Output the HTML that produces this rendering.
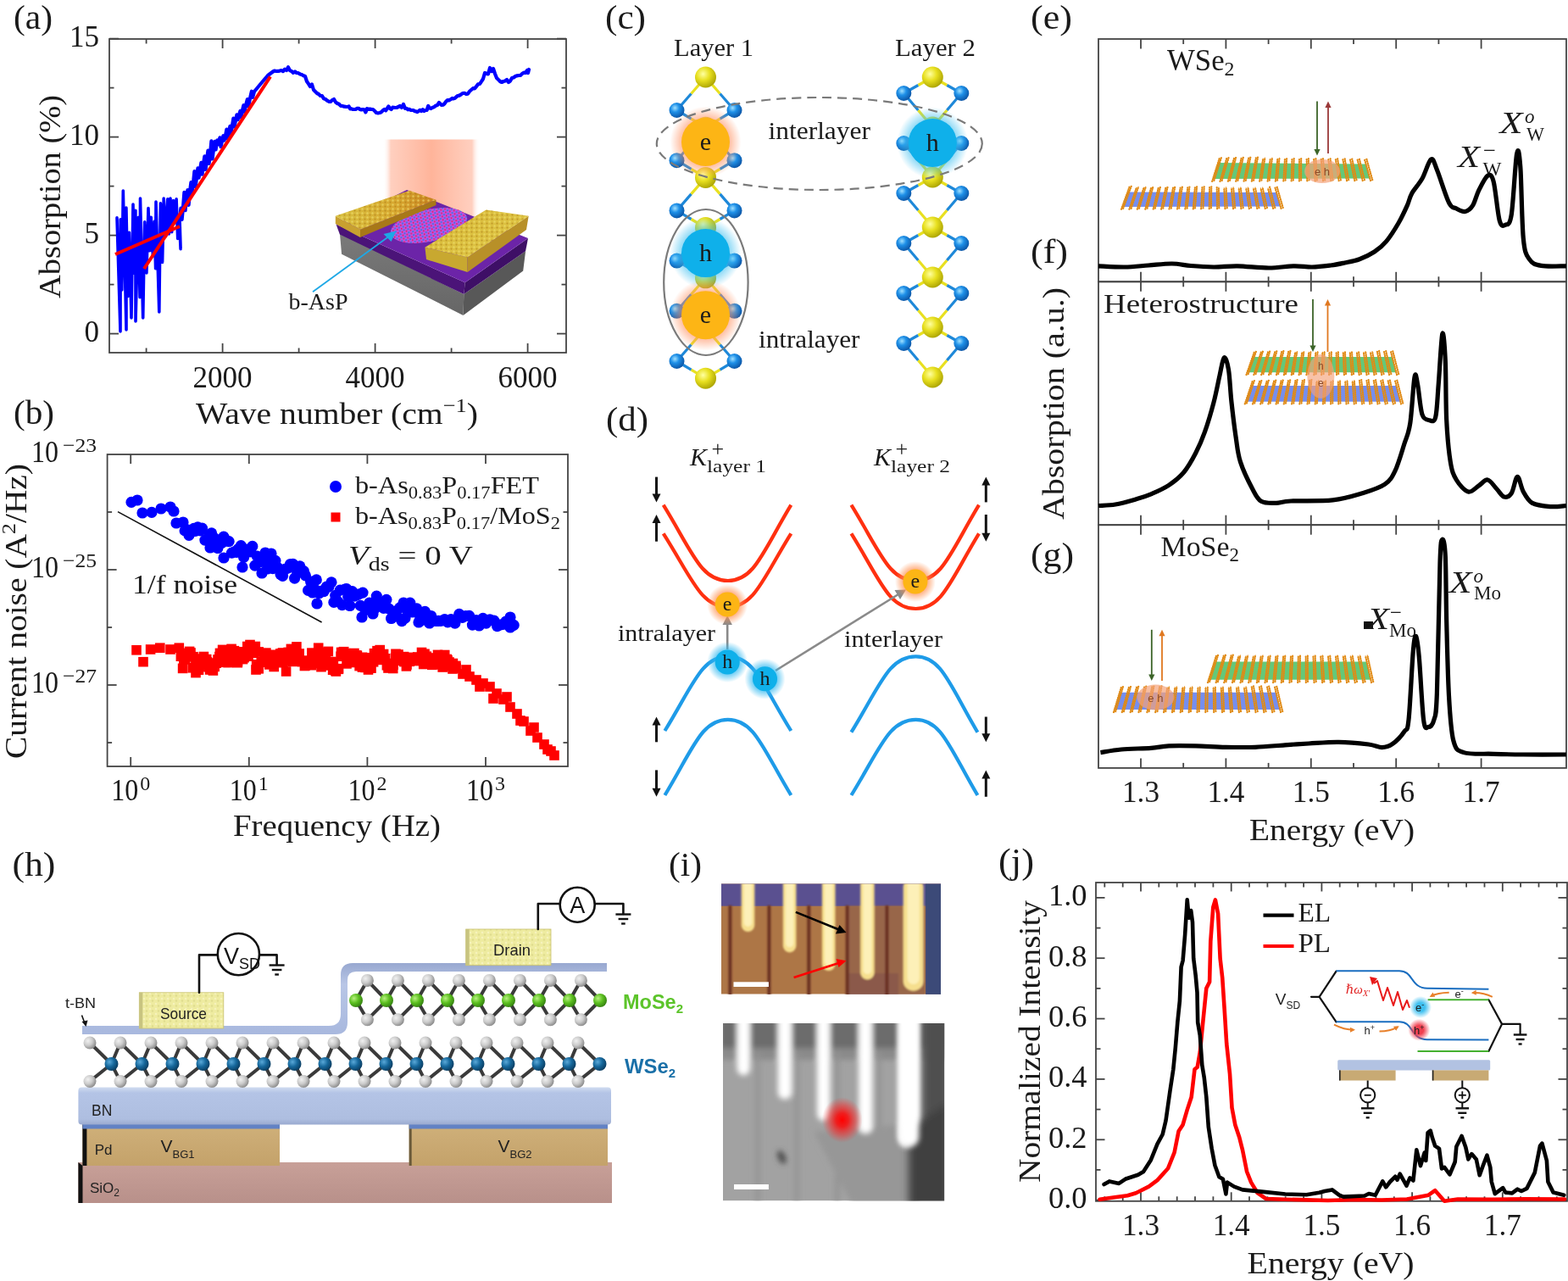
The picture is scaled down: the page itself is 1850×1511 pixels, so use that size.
<!DOCTYPE html>
<html><head><meta charset="utf-8"><title>Figure</title>
<style>html,body{margin:0;padding:0;background:#fff;} svg{display:block;}</style></head>
<body><svg width="1850" height="1511" viewBox="0 0 1850 1511">
<rect width="1850" height="1511" fill="#fff"/>
<text x="16.0" y="34.0" font-size="40" font-family="'Liberation Serif','DejaVu Serif',serif" fill="#1a1a1a" textLength="46" lengthAdjust="spacingAndGlyphs" >(a)</text>
<line x1="172.6" y1="416.0" x2="172.6" y2="410.5" stroke="#444444" stroke-width="1.8" />
<line x1="172.6" y1="46.0" x2="172.6" y2="51.5" stroke="#444444" stroke-width="1.8" />
<line x1="262.6" y1="416.0" x2="262.6" y2="405.0" stroke="#444444" stroke-width="1.8" />
<line x1="262.6" y1="46.0" x2="262.6" y2="57.0" stroke="#444444" stroke-width="1.8" />
<line x1="352.6" y1="416.0" x2="352.6" y2="410.5" stroke="#444444" stroke-width="1.8" />
<line x1="352.6" y1="46.0" x2="352.6" y2="51.5" stroke="#444444" stroke-width="1.8" />
<line x1="442.6" y1="416.0" x2="442.6" y2="405.0" stroke="#444444" stroke-width="1.8" />
<line x1="442.6" y1="46.0" x2="442.6" y2="57.0" stroke="#444444" stroke-width="1.8" />
<line x1="532.6" y1="416.0" x2="532.6" y2="410.5" stroke="#444444" stroke-width="1.8" />
<line x1="532.6" y1="46.0" x2="532.6" y2="51.5" stroke="#444444" stroke-width="1.8" />
<line x1="622.6" y1="416.0" x2="622.6" y2="405.0" stroke="#444444" stroke-width="1.8" />
<line x1="622.6" y1="46.0" x2="622.6" y2="57.0" stroke="#444444" stroke-width="1.8" />
<line x1="129.0" y1="393.6" x2="140.0" y2="393.6" stroke="#444444" stroke-width="1.8" />
<line x1="668.0" y1="393.6" x2="657.0" y2="393.6" stroke="#444444" stroke-width="1.8" />
<line x1="129.0" y1="335.6" x2="134.5" y2="335.6" stroke="#444444" stroke-width="1.8" />
<line x1="668.0" y1="335.6" x2="662.5" y2="335.6" stroke="#444444" stroke-width="1.8" />
<line x1="129.0" y1="277.6" x2="140.0" y2="277.6" stroke="#444444" stroke-width="1.8" />
<line x1="668.0" y1="277.6" x2="657.0" y2="277.6" stroke="#444444" stroke-width="1.8" />
<line x1="129.0" y1="219.6" x2="134.5" y2="219.6" stroke="#444444" stroke-width="1.8" />
<line x1="668.0" y1="219.6" x2="662.5" y2="219.6" stroke="#444444" stroke-width="1.8" />
<line x1="129.0" y1="161.6" x2="140.0" y2="161.6" stroke="#444444" stroke-width="1.8" />
<line x1="668.0" y1="161.6" x2="657.0" y2="161.6" stroke="#444444" stroke-width="1.8" />
<line x1="129.0" y1="103.6" x2="134.5" y2="103.6" stroke="#444444" stroke-width="1.8" />
<line x1="668.0" y1="103.6" x2="662.5" y2="103.6" stroke="#444444" stroke-width="1.8" />
<line x1="129.0" y1="45.6" x2="140.0" y2="45.6" stroke="#444444" stroke-width="1.8" />
<line x1="668.0" y1="45.6" x2="657.0" y2="45.6" stroke="#444444" stroke-width="1.8" />
<rect x="129" y="46" width="539" height="370" fill="none" stroke="#444444" stroke-width="1.8"/>
<text x="117.0" y="402.6" font-size="35" font-family="'Liberation Serif','DejaVu Serif',serif" fill="#1a1a1a" text-anchor="end" >0</text>
<text x="117.0" y="286.6" font-size="35" font-family="'Liberation Serif','DejaVu Serif',serif" fill="#1a1a1a" text-anchor="end" >5</text>
<text x="117.0" y="170.6" font-size="35" font-family="'Liberation Serif','DejaVu Serif',serif" fill="#1a1a1a" text-anchor="end" >10</text>
<text x="117.0" y="54.6" font-size="35" font-family="'Liberation Serif','DejaVu Serif',serif" fill="#1a1a1a" text-anchor="end" >15</text>
<text x="262.6" y="457.0" font-size="35" font-family="'Liberation Serif','DejaVu Serif',serif" fill="#1a1a1a" text-anchor="middle" textLength="70" lengthAdjust="spacingAndGlyphs" >2000</text>
<text x="442.6" y="457.0" font-size="35" font-family="'Liberation Serif','DejaVu Serif',serif" fill="#1a1a1a" text-anchor="middle" textLength="70" lengthAdjust="spacingAndGlyphs" >4000</text>
<text x="622.6" y="457.0" font-size="35" font-family="'Liberation Serif','DejaVu Serif',serif" fill="#1a1a1a" text-anchor="middle" textLength="70" lengthAdjust="spacingAndGlyphs" >6000</text>
<text transform="translate(71,352) rotate(-90)" font-size="36" font-family="'Liberation Serif','DejaVu Serif',serif" fill="#1a1a1a" textLength="240" lengthAdjust="spacingAndGlyphs">Absorption (%)</text>
<text x="231" y="499.5" font-size="36" font-family="'Liberation Serif','DejaVu Serif',serif" fill="#1a1a1a" textLength="333" lengthAdjust="spacingAndGlyphs">Wave number (cm<tspan font-size="24" dy="-14">&#8722;1</tspan><tspan dy="14">)</tspan></text>
<polyline points="138.0,256.9 142.0,391.0 142.2,258.8 143.8,342.0 145.3,225.0 149.0,389.0 148.9,245.0 151.0,349.5 152.4,274.4 155.0,375.0 157.0,241.0 158.4,322.5 159.9,248.3 160.0,379.0 163.2,256.5 165.1,350.6 165.5,234.0 168.7,375.0 170.7,261.9 172.9,321.9 175.0,245.6 176.7,295.8 178.2,256.4 180.4,301.6 182.2,261.0 183.6,316.8 184.0,238.0 187.8,368.0 189.4,239.8 191.6,309.4 193.2,234.1 195.6,278.6 197.8,234.8 199.3,275.9 201.0,234.0 202.7,273.7 204.5,236.6 206.0,262.0 208.1,234.8 209.7,281.5 211.4,255.3 213.1,293.7 212.0,258.0" fill="none" stroke="#0000ff" stroke-width="3.6" stroke-linejoin="round" stroke-linecap="round" />
<polyline points="212.0,258.0 213.4,245.7 214.6,259.0 216.0,245.0 217.4,226.8 218.6,248.2 220.0,232.0 221.4,224.2 222.6,241.9 224.0,226.0 225.4,215.2 226.6,227.3 228.0,216.0 229.4,202.1 230.6,219.9 232.0,210.0 233.4,198.4 234.6,209.6 236.0,200.0 237.4,191.8 238.6,205.7 240.0,193.0 241.4,184.4 242.6,199.9 244.0,188.0 245.4,177.7 246.6,193.0 248.0,182.0 249.4,166.4 250.6,187.3 252.0,176.0 253.4,166.8 254.6,176.4 256.0,166.0 256.4,165.4 257.6,170.4 258.0,170.0 259.4,162.4 260.6,173.2 262.0,166.0 263.4,160.2 264.6,165.6 266.0,160.0 267.4,152.6 268.6,163.2 270.0,155.0 271.4,148.9 272.6,157.3 274.0,148.0 275.4,139.5 276.6,149.3 278.0,142.0 279.4,135.4 280.6,141.2 282.0,136.0 283.4,131.0 284.6,138.8 286.0,130.0 287.4,124.2 288.6,131.8 290.0,124.0 291.9,117.1 293.1,125.3 295.0,116.0 296.9,107.7 298.1,115.0 300.0,108.0 305.0,102.0 310.0,96.0 316.0,89.0 320.0,86.0 322.0,84.5 324.0,83.5 326.0,84.0 328.0,83.8 330.0,83.6 332.0,83.0 334.0,84.1 336.0,81.7 338.0,83.0 340.0,79.2 342.0,83.1 344.0,84.0 346.0,85.9 348.0,84.4 350.0,86.0 352.0,86.2 354.0,87.4 356.0,88.0 358.0,89.2 360.0,90.0 362.0,96.0 364.0,98.9 366.0,102.0 368.0,99.5 370.0,106.0 372.0,108.0 374.0,110.0 376.0,111.0 378.0,113.0 380.0,113.2 382.0,116.3 384.0,117.0 386.0,118.6 388.0,119.8 390.0,120.0 392.0,118.1 394.0,117.0 396.0,120.5 398.0,122.0 400.0,122.8 402.0,124.9 404.0,125.0 406.0,125.7 408.0,125.9 410.0,126.0 411.6,125.5 413.2,128.5 414.8,128.4 416.4,129.0 418.0,129.0 419.7,128.8 421.3,127.9 423.0,127.8 424.7,129.0 426.3,129.5 428.0,129.0 429.7,129.3 431.4,132.4 433.1,128.1 434.9,129.0 436.6,128.6 438.3,129.0 440.0,129.0 442.0,130.8 444.0,133.0 446.0,133.3 448.0,133.0 450.0,132.2 452.0,130.0 453.6,128.9 455.2,130.3 456.8,127.8 458.4,125.4 460.0,128.0 461.6,129.0 463.2,126.7 464.8,126.8 466.4,127.0 468.0,127.0 470.0,126.0 472.0,125.0 474.0,126.9 476.0,122.9 478.0,128.0 479.6,127.8 481.2,129.3 482.8,128.8 484.4,129.8 486.0,130.0 487.6,130.0 489.2,131.1 490.8,131.3 492.4,132.1 494.0,131.0 495.6,129.8 497.2,131.0 498.8,129.3 500.4,131.0 502.0,130.0 503.6,130.0 505.2,124.9 506.8,127.6 508.4,128.1 510.0,127.0 512.0,126.3 514.0,124.7 516.0,124.0 518.0,121.0 521.0,124.0 522.7,123.7 524.3,122.5 526.0,120.0 528.0,118.0 530.0,118.3 532.0,117.0 533.6,115.9 535.2,116.4 536.8,115.8 538.4,114.2 540.0,113.0 542.0,112.6 544.0,111.4 546.0,110.0 548.0,109.8 550.0,111.0 552.0,110.6 554.0,107.8 556.0,106.0 558.0,104.2 560.0,104.3 562.0,102.0 564.0,99.4 566.0,99.0 568.0,96.1 570.0,93.0 572.0,86.0 574.0,87.0 576.0,87.3 578.0,80.0 580.0,84.0 582.0,81.0 584.0,87.0 586.0,92.0 588.0,93.9 590.0,96.0 592.0,97.0 594.0,96.0 596.0,95.5 598.0,94.0 600.0,97.0 602.0,95.5 604.0,92.0 606.0,91.5 608.0,90.0 610.0,89.3 612.0,89.0 614.0,88.9 616.0,87.0 618.0,85.6 620.0,86.0 622.0,83.0 623.0,86.0 624.0,82.0" fill="none" stroke="#0000ff" stroke-width="4.2" stroke-linejoin="round" stroke-linecap="round" />
<line x1="136.0" y1="300.0" x2="212.0" y2="267.0" stroke="#ff0000" stroke-width="4" />
<line x1="170.0" y1="317.0" x2="319.0" y2="90.4" stroke="#ff0000" stroke-width="4" />
<defs>
<linearGradient id="beamH" x1="0" x2="1" y1="0" y2="0">
 <stop offset="0" stop-color="#ffffff" stop-opacity="0"/>
 <stop offset="0.08" stop-color="#ffcab8" stop-opacity="0.9"/>
 <stop offset="0.5" stop-color="#ffb49a" stop-opacity="1"/>
 <stop offset="0.92" stop-color="#ffcab8" stop-opacity="0.9"/>
 <stop offset="1" stop-color="#ffffff" stop-opacity="0"/>
</linearGradient>
<linearGradient id="grayF" x1="0" x2="0" y1="0" y2="1">
 <stop offset="0" stop-color="#7a7a7a"/><stop offset="1" stop-color="#666666"/>
</linearGradient>
<linearGradient id="goldL" x1="0" x2="1" y1="0" y2="0">
 <stop offset="0" stop-color="#d8c040"/><stop offset="0.6" stop-color="#d8a830"/><stop offset="1" stop-color="#c88020"/>
</linearGradient>
<linearGradient id="goldR" x1="0" x2="1" y1="0" y2="1">
 <stop offset="0" stop-color="#d8b838"/><stop offset="1" stop-color="#e0c848"/>
</linearGradient>
<pattern id="goldTex" width="6" height="5" patternUnits="userSpaceOnUse">
 <rect width="6" height="5" fill="none"/>
 <circle cx="1.5" cy="1.5" r="1.2" fill="#f0e070" opacity="0.6"/>
 <circle cx="4.5" cy="3.6" r="1.1" fill="#a07010" opacity="0.45"/>
</pattern>
<pattern id="flakeTex" width="5" height="4" patternUnits="userSpaceOnUse">
 <rect width="5" height="4" fill="#c050e8"/>
 <circle cx="1.2" cy="1.2" r="1.1" fill="#3a7ad8"/>
 <circle cx="3.7" cy="2.9" r="0.9" fill="#e02040"/>
</pattern>
</defs>
<rect x="452" y="164.5" width="114" height="92" fill="url(#beamH)"/>
<polygon points="400.9,275 547.3,347.1 546.5,371.9 403.1,299.8" fill="url(#grayF)"/>
<polygon points="547.3,347.1 620.1,296.2 617.2,319.5 546.5,371.9" fill="#585858"/>
<polygon points="396.6,264.8 548.7,333.3 547.3,347.1 400.9,276.5" fill="#4b1478"/>
<polygon points="548.7,333.3 623,280.9 620.1,296.2 547.3,347.1" fill="#3e0f66"/>
<polygon points="396.6,264.8 548.7,333.3 623,280.9 480,224" fill="#6c24a8"/>
<ellipse cx="506" cy="266" rx="46" ry="19" transform="rotate(-12 506 266)" fill="url(#flakeTex)"/>
<polygon points="395.8,264 425,280 425,270.7 395.8,254.7" fill="#c8a030"/>
<polygon points="425,270.7 514.5,235.7 514.5,242 425,280" fill="#a87818"/>
<polygon points="395.8,254.7 483.2,224.8 514.5,235.7 425,270.7" fill="url(#goldL)"/>
<polygon points="395.8,254.7 483.2,224.8 514.5,235.7 425,270.7" fill="url(#goldTex)"/>
<polygon points="501.4,291.8 551.6,303.4 551.6,321 503,306" fill="#c8a830"/>
<polygon points="551.6,303.4 623.7,254.7 621,271 551.6,321" fill="#b89028"/>
<polygon points="501.4,291.8 573.5,247.4 623.7,254.7 551.6,303.4" fill="url(#goldR)"/>
<polygon points="501.4,291.8 573.5,247.4 623.7,254.7 551.6,303.4" fill="url(#goldTex)"/>
<line x1="369" y1="344.3" x2="460" y2="278" stroke="#1ea8e6" stroke-width="1.8"/>
<polygon points="467.5,272.5 452.5,276 461.5,285" fill="#1ea8e6"/>
<text x="340.5" y="365.0" font-size="28" font-family="'Liberation Serif','DejaVu Serif',serif" fill="#1a1a1a" textLength="70" lengthAdjust="spacingAndGlyphs" >b-AsP</text>
<text x="16.0" y="500.0" font-size="40" font-family="'Liberation Serif','DejaVu Serif',serif" fill="#1a1a1a" textLength="48" lengthAdjust="spacingAndGlyphs" >(b)</text>
<line x1="154.2" y1="904.0" x2="154.2" y2="893.0" stroke="#444444" stroke-width="1.8" />
<line x1="154.2" y1="536.0" x2="154.2" y2="547.0" stroke="#444444" stroke-width="1.8" />
<line x1="293.8" y1="904.0" x2="293.8" y2="893.0" stroke="#444444" stroke-width="1.8" />
<line x1="293.8" y1="536.0" x2="293.8" y2="547.0" stroke="#444444" stroke-width="1.8" />
<line x1="433.4" y1="904.0" x2="433.4" y2="893.0" stroke="#444444" stroke-width="1.8" />
<line x1="433.4" y1="536.0" x2="433.4" y2="547.0" stroke="#444444" stroke-width="1.8" />
<line x1="573.0" y1="904.0" x2="573.0" y2="893.0" stroke="#444444" stroke-width="1.8" />
<line x1="573.0" y1="536.0" x2="573.0" y2="547.0" stroke="#444444" stroke-width="1.8" />
<line x1="126.6" y1="604.0" x2="132.1" y2="604.0" stroke="#444444" stroke-width="1.8" />
<line x1="670.0" y1="604.0" x2="664.5" y2="604.0" stroke="#444444" stroke-width="1.8" />
<line x1="126.6" y1="672.0" x2="137.6" y2="672.0" stroke="#444444" stroke-width="1.8" />
<line x1="670.0" y1="672.0" x2="659.0" y2="672.0" stroke="#444444" stroke-width="1.8" />
<line x1="126.6" y1="740.0" x2="132.1" y2="740.0" stroke="#444444" stroke-width="1.8" />
<line x1="670.0" y1="740.0" x2="664.5" y2="740.0" stroke="#444444" stroke-width="1.8" />
<line x1="126.6" y1="808.0" x2="137.6" y2="808.0" stroke="#444444" stroke-width="1.8" />
<line x1="670.0" y1="808.0" x2="659.0" y2="808.0" stroke="#444444" stroke-width="1.8" />
<line x1="126.6" y1="876.0" x2="132.1" y2="876.0" stroke="#444444" stroke-width="1.8" />
<line x1="670.0" y1="876.0" x2="664.5" y2="876.0" stroke="#444444" stroke-width="1.8" />
<rect x="126.6" y="536" width="543.4" height="368" fill="none" stroke="#444444" stroke-width="1.8"/>
<text x="37.0" y="545.0" font-size="35" font-family="'Liberation Serif','DejaVu Serif',serif" fill="#1a1a1a" textLength="32" lengthAdjust="spacingAndGlyphs" >10</text>
<text x="74.0" y="532.5" font-size="24" font-family="'Liberation Serif','DejaVu Serif',serif" fill="#1a1a1a" textLength="40" lengthAdjust="spacingAndGlyphs" >&#8722;23</text>
<text x="37.0" y="681.0" font-size="35" font-family="'Liberation Serif','DejaVu Serif',serif" fill="#1a1a1a" textLength="32" lengthAdjust="spacingAndGlyphs" >10</text>
<text x="74.0" y="668.5" font-size="24" font-family="'Liberation Serif','DejaVu Serif',serif" fill="#1a1a1a" textLength="40" lengthAdjust="spacingAndGlyphs" >&#8722;25</text>
<text x="37.0" y="817.0" font-size="35" font-family="'Liberation Serif','DejaVu Serif',serif" fill="#1a1a1a" textLength="32" lengthAdjust="spacingAndGlyphs" >10</text>
<text x="74.0" y="804.5" font-size="24" font-family="'Liberation Serif','DejaVu Serif',serif" fill="#1a1a1a" textLength="40" lengthAdjust="spacingAndGlyphs" >&#8722;27</text>
<text x="131.2" y="944.0" font-size="35" font-family="'Liberation Serif','DejaVu Serif',serif" fill="#1a1a1a" textLength="32" lengthAdjust="spacingAndGlyphs" >10</text>
<text x="165.2" y="932.0" font-size="24" font-family="'Liberation Serif','DejaVu Serif',serif" fill="#1a1a1a" >0</text>
<text x="270.8" y="944.0" font-size="35" font-family="'Liberation Serif','DejaVu Serif',serif" fill="#1a1a1a" textLength="32" lengthAdjust="spacingAndGlyphs" >10</text>
<text x="304.8" y="932.0" font-size="24" font-family="'Liberation Serif','DejaVu Serif',serif" fill="#1a1a1a" >1</text>
<text x="410.4" y="944.0" font-size="35" font-family="'Liberation Serif','DejaVu Serif',serif" fill="#1a1a1a" textLength="32" lengthAdjust="spacingAndGlyphs" >10</text>
<text x="444.4" y="932.0" font-size="24" font-family="'Liberation Serif','DejaVu Serif',serif" fill="#1a1a1a" >2</text>
<text x="550.0" y="944.0" font-size="35" font-family="'Liberation Serif','DejaVu Serif',serif" fill="#1a1a1a" textLength="32" lengthAdjust="spacingAndGlyphs" >10</text>
<text x="584.0" y="932.0" font-size="24" font-family="'Liberation Serif','DejaVu Serif',serif" fill="#1a1a1a" >3</text>
<text transform="translate(31,895) rotate(-90)" font-size="36" font-family="'Liberation Serif','DejaVu Serif',serif" fill="#1a1a1a" textLength="348" lengthAdjust="spacingAndGlyphs">Current noise (A<tspan font-size="24" dy="-13">2</tspan><tspan dy="13">/Hz)</tspan></text>
<text x="275.0" y="986.0" font-size="36" font-family="'Liberation Serif','DejaVu Serif',serif" fill="#1a1a1a" textLength="245" lengthAdjust="spacingAndGlyphs" >Frequency (Hz)</text>
<line x1="139.0" y1="603.6" x2="379.6" y2="734.0" stroke="#111" stroke-width="1.6" />
<text x="156.0" y="700.0" font-size="31" font-family="'Liberation Serif','DejaVu Serif',serif" fill="#1a1a1a" textLength="124" lengthAdjust="spacingAndGlyphs" >1/f noise</text>
<circle cx="396" cy="574" r="7" fill="#0000ff"/>
<rect x="390.5" y="604.5" width="11" height="11" fill="#ff0000"/>
<text x="419" y="582" font-size="30" font-family="'Liberation Serif','DejaVu Serif',serif" fill="#1a1a1a" textLength="217" lengthAdjust="spacingAndGlyphs">b-As<tspan font-size="21" dy="6">0.83</tspan><tspan dy="-6">P</tspan><tspan font-size="21" dy="6">0.17</tspan><tspan dy="-6">FET</tspan></text>
<text x="419" y="618" font-size="30" font-family="'Liberation Serif','DejaVu Serif',serif" fill="#1a1a1a" textLength="242" lengthAdjust="spacingAndGlyphs">b-As<tspan font-size="21" dy="6">0.83</tspan><tspan dy="-6">P</tspan><tspan font-size="21" dy="6">0.17</tspan><tspan dy="-6">/MoS</tspan><tspan font-size="21" dy="6">2</tspan></text>
<text x="411" y="666" font-size="32" font-family="'Liberation Serif','DejaVu Serif',serif" fill="#1a1a1a" textLength="147" lengthAdjust="spacingAndGlyphs"><tspan font-style="italic">V</tspan><tspan font-size="23" dy="7">ds</tspan><tspan dy="-7"> = 0 V</tspan></text>
<g fill="#0000ff"><circle cx="155.0" cy="592.4" r="6.6"/><circle cx="162.0" cy="590.0" r="6.6"/><circle cx="168.0" cy="605.0" r="6.6"/><circle cx="179.0" cy="604.4" r="6.6"/><circle cx="190.0" cy="600.0" r="6.6"/><circle cx="201.0" cy="598.0" r="6.6"/><circle cx="205.0" cy="603.0" r="6.6"/><circle cx="208.0" cy="617.0" r="6.6"/><circle cx="216.0" cy="616.0" r="6.6"/><circle cx="218.1" cy="625.9" r="6.6"/><circle cx="220.9" cy="624.9" r="6.6"/><circle cx="223.0" cy="631.3" r="6.6"/><circle cx="226.1" cy="627.4" r="6.6"/><circle cx="228.7" cy="623.3" r="6.6"/><circle cx="230.5" cy="626.4" r="6.6"/><circle cx="233.3" cy="621.9" r="6.6"/><circle cx="236.3" cy="625.9" r="6.6"/><circle cx="238.5" cy="623.2" r="6.6"/><circle cx="241.9" cy="637.1" r="6.6"/><circle cx="245.1" cy="636.1" r="6.6"/><circle cx="247.0" cy="631.7" r="6.6"/><circle cx="249.6" cy="628.9" r="6.6"/><circle cx="252.9" cy="634.8" r="6.6"/><circle cx="254.9" cy="643.7" r="6.6"/><circle cx="256.9" cy="646.5" r="6.6"/><circle cx="259.5" cy="640.7" r="6.6"/><circle cx="261.8" cy="640.4" r="6.6"/><circle cx="263.9" cy="633.1" r="6.6"/><circle cx="267.1" cy="637.9" r="6.6"/><circle cx="270.1" cy="638.6" r="6.6"/><circle cx="273.5" cy="652.1" r="6.6"/><circle cx="276.5" cy="650.9" r="6.6"/><circle cx="279.2" cy="651.3" r="6.6"/><circle cx="281.2" cy="647.5" r="6.6"/><circle cx="284.3" cy="643.7" r="6.6"/><circle cx="287.6" cy="657.3" r="6.6"/><circle cx="290.1" cy="648.0" r="6.6"/><circle cx="292.6" cy="649.5" r="6.6"/><circle cx="296.0" cy="650.8" r="6.6"/><circle cx="297.8" cy="644.4" r="6.6"/><circle cx="300.8" cy="667.1" r="6.6"/><circle cx="303.4" cy="656.1" r="6.6"/><circle cx="306.1" cy="663.2" r="6.6"/><circle cx="308.2" cy="660.7" r="6.6"/><circle cx="310.9" cy="662.0" r="6.6"/><circle cx="313.0" cy="652.0" r="6.6"/><circle cx="315.3" cy="671.0" r="6.6"/><circle cx="317.7" cy="664.0" r="6.6"/><circle cx="320.0" cy="653.0" r="6.6"/><circle cx="321.9" cy="670.7" r="6.6"/><circle cx="324.9" cy="661.3" r="6.6"/><circle cx="327.8" cy="669.7" r="6.6"/><circle cx="331.1" cy="677.6" r="6.6"/><circle cx="333.5" cy="679.3" r="6.6"/><circle cx="336.9" cy="671.0" r="6.6"/><circle cx="340.1" cy="669.8" r="6.6"/><circle cx="342.5" cy="665.5" r="6.6"/><circle cx="345.7" cy="665.4" r="6.6"/><circle cx="347.6" cy="682.1" r="6.6"/><circle cx="350.6" cy="676.2" r="6.6"/><circle cx="353.8" cy="667.9" r="6.6"/><circle cx="356.0" cy="674.9" r="6.6"/><circle cx="358.4" cy="673.6" r="6.6"/><circle cx="360.4" cy="678.8" r="6.6"/><circle cx="363.6" cy="696.4" r="6.6"/><circle cx="366.6" cy="686.1" r="6.6"/><circle cx="368.8" cy="699.0" r="6.6"/><circle cx="371.4" cy="695.1" r="6.6"/><circle cx="373.3" cy="683.9" r="6.6"/><circle cx="376.4" cy="699.8" r="6.6"/><circle cx="379.6" cy="697.2" r="6.6"/><circle cx="382.1" cy="697.6" r="6.6"/><circle cx="385.3" cy="692.1" r="6.6"/><circle cx="387.9" cy="692.2" r="6.6"/><circle cx="391.0" cy="686.8" r="6.6"/><circle cx="393.9" cy="710.4" r="6.6"/><circle cx="395.7" cy="702.3" r="6.6"/><circle cx="398.5" cy="709.5" r="6.6"/><circle cx="401.3" cy="696.1" r="6.6"/><circle cx="403.7" cy="713.7" r="6.6"/><circle cx="407.0" cy="695.0" r="6.6"/><circle cx="408.9" cy="694.6" r="6.6"/><circle cx="410.7" cy="703.7" r="6.6"/><circle cx="412.8" cy="714.5" r="6.6"/><circle cx="415.6" cy="697.6" r="6.6"/><circle cx="418.3" cy="703.2" r="6.6"/><circle cx="420.9" cy="701.5" r="6.6"/><circle cx="422.9" cy="701.1" r="6.6"/><circle cx="425.3" cy="714.4" r="6.6"/><circle cx="428.0" cy="699.1" r="6.6"/><circle cx="431.0" cy="719.7" r="6.6"/><circle cx="434.0" cy="718.5" r="6.6"/><circle cx="435.8" cy="711.1" r="6.6"/><circle cx="437.7" cy="718.8" r="6.6"/><circle cx="439.8" cy="718.0" r="6.6"/><circle cx="442.0" cy="718.2" r="6.6"/><circle cx="444.3" cy="703.1" r="6.6"/><circle cx="446.7" cy="710.1" r="6.6"/><circle cx="450.0" cy="710.6" r="6.6"/><circle cx="452.6" cy="717.3" r="6.6"/><circle cx="455.9" cy="707.3" r="6.6"/><circle cx="458.6" cy="717.9" r="6.6"/><circle cx="461.6" cy="729.5" r="6.6"/><circle cx="463.9" cy="723.6" r="6.6"/><circle cx="466.6" cy="720.8" r="6.6"/><circle cx="468.5" cy="727.2" r="6.6"/><circle cx="471.8" cy="716.9" r="6.6"/><circle cx="474.1" cy="732.7" r="6.6"/><circle cx="476.1" cy="711.0" r="6.6"/><circle cx="478.0" cy="729.1" r="6.6"/><circle cx="481.0" cy="721.0" r="6.6"/><circle cx="483.8" cy="711.2" r="6.6"/><circle cx="486.7" cy="722.0" r="6.6"/><circle cx="489.3" cy="721.2" r="6.6"/><circle cx="491.7" cy="717.8" r="6.6"/><circle cx="493.6" cy="723.1" r="6.6"/><circle cx="495.8" cy="730.1" r="6.6"/><circle cx="498.9" cy="731.2" r="6.6"/><circle cx="501.4" cy="721.4" r="6.6"/><circle cx="503.9" cy="726.1" r="6.6"/><circle cx="506.7" cy="735.0" r="6.6"/><circle cx="508.6" cy="726.5" r="6.6"/><circle cx="511.2" cy="731.0" r="6.6"/><circle cx="514.4" cy="732.5" r="6.6"/><circle cx="517.2" cy="732.4" r="6.6"/><circle cx="520.1" cy="732.3" r="6.6"/><circle cx="524.6" cy="730.7" r="6.6"/><circle cx="528.2" cy="733.8" r="6.6"/><circle cx="532.1" cy="730.6" r="6.6"/><circle cx="536.8" cy="735.2" r="6.6"/><circle cx="541.8" cy="724.3" r="6.6"/><circle cx="545.5" cy="728.3" r="6.6"/><circle cx="549.4" cy="726.7" r="6.6"/><circle cx="553.6" cy="726.3" r="6.6"/><circle cx="557.4" cy="737.1" r="6.6"/><circle cx="561.9" cy="731.7" r="6.6"/><circle cx="565.3" cy="738.0" r="6.6"/><circle cx="569.8" cy="729.4" r="6.6"/><circle cx="573.6" cy="735.1" r="6.6"/><circle cx="578.0" cy="730.9" r="6.6"/><circle cx="582.9" cy="732.1" r="6.6"/><circle cx="586.6" cy="738.7" r="6.6"/><circle cx="590.0" cy="737.0" r="6.6"/><circle cx="593.6" cy="736.3" r="6.6"/><circle cx="597.3" cy="733.9" r="6.6"/><circle cx="602.2" cy="735.4" r="6.6"/><circle cx="606.2" cy="737.4" r="6.6"/><circle cx="602.0" cy="740.0" r="6.6"/><circle cx="602.0" cy="728.0" r="6.6"/><circle cx="597.0" cy="733.0" r="6.6"/><circle cx="248.0" cy="646.0" r="6.6"/><circle cx="264.0" cy="658.0" r="6.6"/><circle cx="286.0" cy="669.0" r="6.6"/><circle cx="309.0" cy="676.0" r="6.6"/><circle cx="374.0" cy="712.0" r="6.6"/><circle cx="427.0" cy="728.0" r="6.6"/><circle cx="440.0" cy="724.0" r="6.6"/><circle cx="494.0" cy="734.0" r="6.6"/></g>
<g fill="#ff0000"><rect x="155.2" y="761.0" width="11.6" height="11.6"/><rect x="163.2" y="774.9" width="11.6" height="11.6"/><rect x="171.8" y="760.2" width="11.6" height="11.6"/><rect x="183.0" y="758.4" width="11.6" height="11.6"/><rect x="195.2" y="760.2" width="11.6" height="11.6"/><rect x="205.5" y="758.4" width="11.6" height="11.6"/><rect x="209.8" y="782.6" width="11.6" height="11.6"/><rect x="219.2" y="764.2" width="11.6" height="11.6"/><rect x="225.2" y="787.8" width="11.6" height="11.6"/><rect x="232.2" y="774.9" width="11.6" height="11.6"/><rect x="241.8" y="784.2" width="11.6" height="11.6"/><rect x="253.1" y="768.8" width="11.6" height="11.6"/><rect x="264.2" y="767.1" width="11.6" height="11.6"/><rect x="274.7" y="774.0" width="11.6" height="11.6"/><rect x="286.0" y="756.7" width="11.6" height="11.6"/><rect x="295.5" y="756.7" width="11.6" height="11.6"/><rect x="296.2" y="784.2" width="11.6" height="11.6"/><rect x="305.8" y="774.0" width="11.6" height="11.6"/><rect x="318.0" y="774.0" width="11.6" height="11.6"/><rect x="324.9" y="765.2" width="11.6" height="11.6"/><rect x="334.4" y="763.6" width="11.6" height="11.6"/><rect x="331.8" y="786.2" width="11.6" height="11.6"/><rect x="347.4" y="765.2" width="11.6" height="11.6"/><rect x="354.2" y="779.2" width="11.6" height="11.6"/><rect x="369.9" y="758.4" width="11.6" height="11.6"/><rect x="378.5" y="763.6" width="11.6" height="11.6"/><rect x="373.2" y="780.9" width="11.6" height="11.6"/><rect x="390.6" y="786.2" width="11.6" height="11.6"/><rect x="399.2" y="763.6" width="11.6" height="11.6"/><rect x="407.9" y="775.7" width="11.6" height="11.6"/><rect x="418.2" y="770.5" width="11.6" height="11.6"/><rect x="428.7" y="784.2" width="11.6" height="11.6"/><rect x="439.2" y="761.9" width="11.6" height="11.6"/><rect x="452.2" y="782.2" width="11.6" height="11.6"/><rect x="464.2" y="766.2" width="11.6" height="11.6"/><rect x="474.2" y="778.2" width="11.6" height="11.6"/><rect x="488.2" y="770.2" width="11.6" height="11.6"/><rect x="502.2" y="770.2" width="11.6" height="11.6"/><rect x="516.2" y="774.2" width="11.6" height="11.6"/><rect x="524.2" y="775.2" width="11.6" height="11.6"/><rect x="532.2" y="782.2" width="11.6" height="11.6"/><rect x="540.2" y="789.2" width="11.6" height="11.6"/><rect x="548.2" y="792.2" width="11.6" height="11.6"/><rect x="556.2" y="796.2" width="11.6" height="11.6"/><rect x="564.2" y="800.2" width="11.6" height="11.6"/><rect x="572.2" y="804.2" width="11.6" height="11.6"/><rect x="580.2" y="812.2" width="11.6" height="11.6"/><rect x="588.2" y="819.2" width="11.6" height="11.6"/><rect x="596.2" y="828.2" width="11.6" height="11.6"/><rect x="604.2" y="836.2" width="11.6" height="11.6"/><rect x="612.2" y="845.2" width="11.6" height="11.6"/><rect x="620.2" y="856.2" width="11.6" height="11.6"/><rect x="628.2" y="864.2" width="11.6" height="11.6"/><rect x="636.2" y="872.2" width="11.6" height="11.6"/><rect x="644.2" y="880.2" width="11.6" height="11.6"/><rect x="648.2" y="885.2" width="11.6" height="11.6"/><rect x="528.2" y="783.2" width="11.6" height="11.6"/><rect x="544.2" y="784.2" width="11.6" height="11.6"/><rect x="560.2" y="804.2" width="11.6" height="11.6"/><rect x="576.2" y="818.2" width="11.6" height="11.6"/><rect x="592.2" y="816.2" width="11.6" height="11.6"/><rect x="608.2" y="844.2" width="11.6" height="11.6"/><rect x="624.2" y="852.2" width="11.6" height="11.6"/><rect x="640.2" y="878.2" width="11.6" height="11.6"/><rect x="208.2" y="767.4" width="11.6" height="11.6"/><rect x="211.0" y="772.1" width="11.6" height="11.6"/><rect x="213.9" y="766.9" width="11.6" height="11.6"/><rect x="217.8" y="762.6" width="11.6" height="11.6"/><rect x="221.5" y="782.0" width="11.6" height="11.6"/><rect x="225.1" y="772.4" width="11.6" height="11.6"/><rect x="228.3" y="771.3" width="11.6" height="11.6"/><rect x="231.7" y="780.8" width="11.6" height="11.6"/><rect x="234.6" y="768.7" width="11.6" height="11.6"/><rect x="237.9" y="771.8" width="11.6" height="11.6"/><rect x="240.9" y="780.7" width="11.6" height="11.6"/><rect x="244.7" y="776.6" width="11.6" height="11.6"/><rect x="247.4" y="780.6" width="11.6" height="11.6"/><rect x="251.2" y="772.2" width="11.6" height="11.6"/><rect x="253.7" y="764.6" width="11.6" height="11.6"/><rect x="256.8" y="771.4" width="11.6" height="11.6"/><rect x="259.7" y="775.5" width="11.6" height="11.6"/><rect x="263.4" y="775.8" width="11.6" height="11.6"/><rect x="267.3" y="759.6" width="11.6" height="11.6"/><rect x="270.6" y="761.9" width="11.6" height="11.6"/><rect x="274.5" y="775.9" width="11.6" height="11.6"/><rect x="278.1" y="763.0" width="11.6" height="11.6"/><rect x="280.7" y="771.8" width="11.6" height="11.6"/><rect x="284.1" y="765.0" width="11.6" height="11.6"/><rect x="287.3" y="768.3" width="11.6" height="11.6"/><rect x="290.3" y="761.9" width="11.6" height="11.6"/><rect x="293.4" y="764.4" width="11.6" height="11.6"/><rect x="296.8" y="778.0" width="11.6" height="11.6"/><rect x="299.4" y="763.1" width="11.6" height="11.6"/><rect x="302.7" y="774.8" width="11.6" height="11.6"/><rect x="305.5" y="768.2" width="11.6" height="11.6"/><rect x="308.1" y="764.3" width="11.6" height="11.6"/><rect x="311.3" y="775.5" width="11.6" height="11.6"/><rect x="314.8" y="766.5" width="11.6" height="11.6"/><rect x="317.4" y="780.7" width="11.6" height="11.6"/><rect x="320.8" y="770.1" width="11.6" height="11.6"/><rect x="324.3" y="773.8" width="11.6" height="11.6"/><rect x="327.6" y="764.2" width="11.6" height="11.6"/><rect x="331.3" y="770.7" width="11.6" height="11.6"/><rect x="333.9" y="768.9" width="11.6" height="11.6"/><rect x="337.2" y="773.4" width="11.6" height="11.6"/><rect x="339.9" y="774.6" width="11.6" height="11.6"/><rect x="343.2" y="764.0" width="11.6" height="11.6"/><rect x="347.0" y="774.2" width="11.6" height="11.6"/><rect x="350.8" y="774.8" width="11.6" height="11.6"/><rect x="353.6" y="779.7" width="11.6" height="11.6"/><rect x="357.5" y="774.3" width="11.6" height="11.6"/><rect x="361.4" y="778.9" width="11.6" height="11.6"/><rect x="364.4" y="776.6" width="11.6" height="11.6"/><rect x="368.3" y="771.8" width="11.6" height="11.6"/><rect x="370.9" y="765.6" width="11.6" height="11.6"/><rect x="374.3" y="773.9" width="11.6" height="11.6"/><rect x="377.9" y="771.0" width="11.6" height="11.6"/><rect x="380.7" y="776.9" width="11.6" height="11.6"/><rect x="384.0" y="779.1" width="11.6" height="11.6"/><rect x="386.8" y="784.4" width="11.6" height="11.6"/><rect x="390.1" y="785.4" width="11.6" height="11.6"/><rect x="393.7" y="782.9" width="11.6" height="11.6"/><rect x="396.8" y="763.6" width="11.6" height="11.6"/><rect x="399.9" y="762.9" width="11.6" height="11.6"/><rect x="403.2" y="777.1" width="11.6" height="11.6"/><rect x="406.2" y="766.7" width="11.6" height="11.6"/><rect x="408.8" y="773.1" width="11.6" height="11.6"/><rect x="412.1" y="764.7" width="11.6" height="11.6"/><rect x="415.6" y="767.5" width="11.6" height="11.6"/><rect x="418.3" y="779.8" width="11.6" height="11.6"/><rect x="421.6" y="781.2" width="11.6" height="11.6"/><rect x="424.8" y="770.0" width="11.6" height="11.6"/><rect x="427.7" y="778.0" width="11.6" height="11.6"/><rect x="431.2" y="782.1" width="11.6" height="11.6"/><rect x="434.8" y="775.0" width="11.6" height="11.6"/><rect x="437.7" y="766.8" width="11.6" height="11.6"/><rect x="440.7" y="767.4" width="11.6" height="11.6"/><rect x="443.6" y="771.6" width="11.6" height="11.6"/><rect x="446.8" y="765.7" width="11.6" height="11.6"/><rect x="450.6" y="779.0" width="11.6" height="11.6"/><rect x="454.3" y="781.5" width="11.6" height="11.6"/><rect x="457.9" y="782.7" width="11.6" height="11.6"/><rect x="460.9" y="769.9" width="11.6" height="11.6"/><rect x="463.4" y="772.5" width="11.6" height="11.6"/><rect x="466.8" y="772.5" width="11.6" height="11.6"/><rect x="470.8" y="768.8" width="11.6" height="11.6"/><rect x="473.6" y="780.1" width="11.6" height="11.6"/><rect x="477.4" y="774.5" width="11.6" height="11.6"/><rect x="479.9" y="771.3" width="11.6" height="11.6"/><rect x="483.7" y="771.9" width="11.6" height="11.6"/><rect x="486.9" y="769.2" width="11.6" height="11.6"/><rect x="490.3" y="772.8" width="11.6" height="11.6"/><rect x="493.9" y="777.7" width="11.6" height="11.6"/><rect x="497.5" y="768.4" width="11.6" height="11.6"/><rect x="500.4" y="775.7" width="11.6" height="11.6"/><rect x="504.0" y="778.5" width="11.6" height="11.6"/><rect x="506.8" y="778.0" width="11.6" height="11.6"/><rect x="510.7" y="766.6" width="11.6" height="11.6"/><rect x="513.6" y="777.6" width="11.6" height="11.6"/><rect x="516.4" y="781.2" width="11.6" height="11.6"/><rect x="519.3" y="779.6" width="11.6" height="11.6"/><rect x="522.2" y="773.0" width="11.6" height="11.6"/><rect x="525.0" y="778.9" width="11.6" height="11.6"/><rect x="528.6" y="776.7" width="11.6" height="11.6"/><rect x="532.1" y="779.6" width="11.6" height="11.6"/><rect x="207.6" y="768.4" width="11.6" height="11.6"/><rect x="212.9" y="771.6" width="11.6" height="11.6"/><rect x="216.1" y="764.6" width="11.6" height="11.6"/><rect x="222.2" y="768.9" width="11.6" height="11.6"/><rect x="228.7" y="784.5" width="11.6" height="11.6"/><rect x="235.4" y="776.6" width="11.6" height="11.6"/><rect x="238.6" y="775.1" width="11.6" height="11.6"/><rect x="245.6" y="785.2" width="11.6" height="11.6"/><rect x="249.3" y="776.4" width="11.6" height="11.6"/><rect x="256.8" y="760.6" width="11.6" height="11.6"/><rect x="260.5" y="771.3" width="11.6" height="11.6"/><rect x="267.7" y="770.9" width="11.6" height="11.6"/><rect x="271.2" y="770.8" width="11.6" height="11.6"/><rect x="278.5" y="768.2" width="11.6" height="11.6"/><rect x="282.2" y="769.9" width="11.6" height="11.6"/><rect x="289.2" y="754.7" width="11.6" height="11.6"/><rect x="292.3" y="758.9" width="11.6" height="11.6"/><rect x="299.4" y="783.0" width="11.6" height="11.6"/><rect x="302.6" y="775.3" width="11.6" height="11.6"/><rect x="308.9" y="771.5" width="11.6" height="11.6"/><rect x="311.9" y="778.1" width="11.6" height="11.6"/><rect x="314.9" y="776.2" width="11.6" height="11.6"/><rect x="321.4" y="768.9" width="11.6" height="11.6"/><rect x="328.3" y="775.9" width="11.6" height="11.6"/><rect x="337.6" y="759.6" width="11.6" height="11.6"/><rect x="340.9" y="769.0" width="11.6" height="11.6"/><rect x="344.1" y="757.1" width="11.6" height="11.6"/><rect x="350.8" y="774.5" width="11.6" height="11.6"/><rect x="358.1" y="773.3" width="11.6" height="11.6"/><rect x="362.1" y="764.3" width="11.6" height="11.6"/><rect x="366.0" y="765.0" width="11.6" height="11.6"/><rect x="375.8" y="773.6" width="11.6" height="11.6"/><rect x="381.5" y="762.6" width="11.6" height="11.6"/><rect x="384.6" y="774.7" width="11.6" height="11.6"/><rect x="387.6" y="775.2" width="11.6" height="11.6"/><rect x="393.5" y="783.5" width="11.6" height="11.6"/><rect x="396.3" y="768.4" width="11.6" height="11.6"/><rect x="402.1" y="764.9" width="11.6" height="11.6"/><rect x="405.0" y="767.1" width="11.6" height="11.6"/><rect x="411.3" y="766.7" width="11.6" height="11.6"/><rect x="414.8" y="767.2" width="11.6" height="11.6"/><rect x="421.7" y="769.5" width="11.6" height="11.6"/><rect x="425.2" y="781.6" width="11.6" height="11.6"/><rect x="432.2" y="782.3" width="11.6" height="11.6"/><rect x="435.7" y="764.9" width="11.6" height="11.6"/><rect x="442.4" y="760.8" width="11.6" height="11.6"/><rect x="445.7" y="772.6" width="11.6" height="11.6"/><rect x="448.9" y="771.0" width="11.6" height="11.6"/><rect x="455.2" y="776.7" width="11.6" height="11.6"/><rect x="458.2" y="778.4" width="11.6" height="11.6"/><rect x="461.2" y="765.5" width="11.6" height="11.6"/><rect x="467.5" y="773.4" width="11.6" height="11.6"/><rect x="470.9" y="774.8" width="11.6" height="11.6"/><rect x="477.7" y="769.6" width="11.6" height="11.6"/><rect x="481.2" y="770.1" width="11.6" height="11.6"/><rect x="484.7" y="773.8" width="11.6" height="11.6"/><rect x="491.7" y="763.7" width="11.6" height="11.6"/><rect x="495.2" y="765.5" width="11.6" height="11.6"/><rect x="498.7" y="771.4" width="11.6" height="11.6"/><rect x="505.7" y="776.3" width="11.6" height="11.6"/><rect x="509.2" y="772.5" width="11.6" height="11.6"/><rect x="512.7" y="775.8" width="11.6" height="11.6"/><rect x="518.9" y="766.7" width="11.6" height="11.6"/><rect x="521.5" y="771.7" width="11.6" height="11.6"/></g>
<defs>
<radialGradient id="gY" cx="0.38" cy="0.35" r="0.7"><stop offset="0" stop-color="#ffffa0"/><stop offset="0.45" stop-color="#e8e020"/><stop offset="1" stop-color="#a8a000"/></radialGradient>
<radialGradient id="gG" cx="0.38" cy="0.35" r="0.7"><stop offset="0" stop-color="#d0f090"/><stop offset="0.5" stop-color="#98c840"/><stop offset="1" stop-color="#689020"/></radialGradient>
<radialGradient id="gB" cx="0.38" cy="0.35" r="0.7"><stop offset="0" stop-color="#a0e0ff"/><stop offset="0.4" stop-color="#1e90e8"/><stop offset="1" stop-color="#0a50a0"/></radialGradient>
<radialGradient id="glowO"><stop offset="0.6" stop-color="#ff9060" stop-opacity="0.7"/><stop offset="1" stop-color="#ff9060" stop-opacity="0"/></radialGradient>
<radialGradient id="glowC"><stop offset="0.6" stop-color="#40c0f0" stop-opacity="0.7"/><stop offset="1" stop-color="#40c0f0" stop-opacity="0"/></radialGradient>
</defs>
<text x="714.0" y="34.0" font-size="40" font-family="'Liberation Serif','DejaVu Serif',serif" fill="#1a1a1a" textLength="48" lengthAdjust="spacingAndGlyphs" >(c)</text>
<text x="795.0" y="66.0" font-size="29" font-family="'Liberation Serif','DejaVu Serif',serif" fill="#1a1a1a" textLength="94" lengthAdjust="spacingAndGlyphs" >Layer 1</text>
<text x="1056.0" y="66.0" font-size="29" font-family="'Liberation Serif','DejaVu Serif',serif" fill="#1a1a1a" textLength="95" lengthAdjust="spacingAndGlyphs" >Layer 2</text>
<line x1="832.5" y1="91.0" x2="815.5" y2="110.5" stroke="#e8e020" stroke-width="3.2" /><line x1="815.5" y1="110.5" x2="798.5" y2="130.0" stroke="#1e88d8" stroke-width="3.2" />
<line x1="832.5" y1="150.2" x2="815.5" y2="140.1" stroke="#e8e020" stroke-width="3.2" /><line x1="815.5" y1="140.1" x2="798.5" y2="130.0" stroke="#1e88d8" stroke-width="3.2" />
<line x1="832.5" y1="91.0" x2="849.5" y2="110.5" stroke="#e8e020" stroke-width="3.2" /><line x1="849.5" y1="110.5" x2="866.5" y2="130.0" stroke="#1e88d8" stroke-width="3.2" />
<line x1="832.5" y1="150.2" x2="849.5" y2="140.1" stroke="#e8e020" stroke-width="3.2" /><line x1="849.5" y1="140.1" x2="866.5" y2="130.0" stroke="#1e88d8" stroke-width="3.2" />
<line x1="832.5" y1="150.2" x2="815.5" y2="169.7" stroke="#e8e020" stroke-width="3.2" /><line x1="815.5" y1="169.7" x2="798.5" y2="189.2" stroke="#1e88d8" stroke-width="3.2" />
<line x1="832.5" y1="209.4" x2="815.5" y2="199.3" stroke="#e8e020" stroke-width="3.2" /><line x1="815.5" y1="199.3" x2="798.5" y2="189.2" stroke="#1e88d8" stroke-width="3.2" />
<line x1="832.5" y1="150.2" x2="849.5" y2="169.7" stroke="#e8e020" stroke-width="3.2" /><line x1="849.5" y1="169.7" x2="866.5" y2="189.2" stroke="#1e88d8" stroke-width="3.2" />
<line x1="832.5" y1="209.4" x2="849.5" y2="199.3" stroke="#e8e020" stroke-width="3.2" /><line x1="849.5" y1="199.3" x2="866.5" y2="189.2" stroke="#1e88d8" stroke-width="3.2" />
<line x1="832.5" y1="209.4" x2="815.5" y2="228.9" stroke="#e8e020" stroke-width="3.2" /><line x1="815.5" y1="228.9" x2="798.5" y2="248.4" stroke="#1e88d8" stroke-width="3.2" />
<line x1="832.5" y1="268.6" x2="815.5" y2="258.5" stroke="#e8e020" stroke-width="3.2" /><line x1="815.5" y1="258.5" x2="798.5" y2="248.4" stroke="#1e88d8" stroke-width="3.2" />
<line x1="832.5" y1="209.4" x2="849.5" y2="228.9" stroke="#e8e020" stroke-width="3.2" /><line x1="849.5" y1="228.9" x2="866.5" y2="248.4" stroke="#1e88d8" stroke-width="3.2" />
<line x1="832.5" y1="268.6" x2="849.5" y2="258.5" stroke="#e8e020" stroke-width="3.2" /><line x1="849.5" y1="258.5" x2="866.5" y2="248.4" stroke="#1e88d8" stroke-width="3.2" />
<line x1="832.5" y1="268.6" x2="815.5" y2="288.1" stroke="#e8e020" stroke-width="3.2" /><line x1="815.5" y1="288.1" x2="798.5" y2="307.6" stroke="#1e88d8" stroke-width="3.2" />
<line x1="832.5" y1="327.8" x2="815.5" y2="317.7" stroke="#e8e020" stroke-width="3.2" /><line x1="815.5" y1="317.7" x2="798.5" y2="307.6" stroke="#1e88d8" stroke-width="3.2" />
<line x1="832.5" y1="268.6" x2="849.5" y2="288.1" stroke="#e8e020" stroke-width="3.2" /><line x1="849.5" y1="288.1" x2="866.5" y2="307.6" stroke="#1e88d8" stroke-width="3.2" />
<line x1="832.5" y1="327.8" x2="849.5" y2="317.7" stroke="#e8e020" stroke-width="3.2" /><line x1="849.5" y1="317.7" x2="866.5" y2="307.6" stroke="#1e88d8" stroke-width="3.2" />
<line x1="832.5" y1="327.8" x2="815.5" y2="347.3" stroke="#e8e020" stroke-width="3.2" /><line x1="815.5" y1="347.3" x2="798.5" y2="366.8" stroke="#1e88d8" stroke-width="3.2" />
<line x1="832.5" y1="387.0" x2="815.5" y2="376.9" stroke="#e8e020" stroke-width="3.2" /><line x1="815.5" y1="376.9" x2="798.5" y2="366.8" stroke="#1e88d8" stroke-width="3.2" />
<line x1="832.5" y1="327.8" x2="849.5" y2="347.3" stroke="#e8e020" stroke-width="3.2" /><line x1="849.5" y1="347.3" x2="866.5" y2="366.8" stroke="#1e88d8" stroke-width="3.2" />
<line x1="832.5" y1="387.0" x2="849.5" y2="376.9" stroke="#e8e020" stroke-width="3.2" /><line x1="849.5" y1="376.9" x2="866.5" y2="366.8" stroke="#1e88d8" stroke-width="3.2" />
<line x1="832.5" y1="387.0" x2="815.5" y2="406.5" stroke="#e8e020" stroke-width="3.2" /><line x1="815.5" y1="406.5" x2="798.5" y2="426.0" stroke="#1e88d8" stroke-width="3.2" />
<line x1="832.5" y1="446.2" x2="815.5" y2="436.1" stroke="#e8e020" stroke-width="3.2" /><line x1="815.5" y1="436.1" x2="798.5" y2="426.0" stroke="#1e88d8" stroke-width="3.2" />
<line x1="832.5" y1="387.0" x2="849.5" y2="406.5" stroke="#e8e020" stroke-width="3.2" /><line x1="849.5" y1="406.5" x2="866.5" y2="426.0" stroke="#1e88d8" stroke-width="3.2" />
<line x1="832.5" y1="446.2" x2="849.5" y2="436.1" stroke="#e8e020" stroke-width="3.2" /><line x1="849.5" y1="436.1" x2="866.5" y2="426.0" stroke="#1e88d8" stroke-width="3.2" />
<line x1="1100.3" y1="91.0" x2="1083.3" y2="100.5" stroke="#e8e020" stroke-width="3.2" /><line x1="1083.3" y1="100.5" x2="1066.3" y2="110.0" stroke="#1e88d8" stroke-width="3.2" />
<line x1="1100.3" y1="150.0" x2="1083.3" y2="130.0" stroke="#e8e020" stroke-width="3.2" /><line x1="1083.3" y1="130.0" x2="1066.3" y2="110.0" stroke="#1e88d8" stroke-width="3.2" />
<line x1="1100.3" y1="91.0" x2="1117.3" y2="100.5" stroke="#e8e020" stroke-width="3.2" /><line x1="1117.3" y1="100.5" x2="1134.3" y2="110.0" stroke="#1e88d8" stroke-width="3.2" />
<line x1="1100.3" y1="150.0" x2="1117.3" y2="130.0" stroke="#e8e020" stroke-width="3.2" /><line x1="1117.3" y1="130.0" x2="1134.3" y2="110.0" stroke="#1e88d8" stroke-width="3.2" />
<line x1="1100.3" y1="150.0" x2="1083.3" y2="159.5" stroke="#e8e020" stroke-width="3.2" /><line x1="1083.3" y1="159.5" x2="1066.3" y2="169.0" stroke="#1e88d8" stroke-width="3.2" />
<line x1="1100.3" y1="209.0" x2="1083.3" y2="189.0" stroke="#e8e020" stroke-width="3.2" /><line x1="1083.3" y1="189.0" x2="1066.3" y2="169.0" stroke="#1e88d8" stroke-width="3.2" />
<line x1="1100.3" y1="150.0" x2="1117.3" y2="159.5" stroke="#e8e020" stroke-width="3.2" /><line x1="1117.3" y1="159.5" x2="1134.3" y2="169.0" stroke="#1e88d8" stroke-width="3.2" />
<line x1="1100.3" y1="209.0" x2="1117.3" y2="189.0" stroke="#e8e020" stroke-width="3.2" /><line x1="1117.3" y1="189.0" x2="1134.3" y2="169.0" stroke="#1e88d8" stroke-width="3.2" />
<line x1="1100.3" y1="209.0" x2="1083.3" y2="218.5" stroke="#e8e020" stroke-width="3.2" /><line x1="1083.3" y1="218.5" x2="1066.3" y2="228.0" stroke="#1e88d8" stroke-width="3.2" />
<line x1="1100.3" y1="268.0" x2="1083.3" y2="248.0" stroke="#e8e020" stroke-width="3.2" /><line x1="1083.3" y1="248.0" x2="1066.3" y2="228.0" stroke="#1e88d8" stroke-width="3.2" />
<line x1="1100.3" y1="209.0" x2="1117.3" y2="218.5" stroke="#e8e020" stroke-width="3.2" /><line x1="1117.3" y1="218.5" x2="1134.3" y2="228.0" stroke="#1e88d8" stroke-width="3.2" />
<line x1="1100.3" y1="268.0" x2="1117.3" y2="248.0" stroke="#e8e020" stroke-width="3.2" /><line x1="1117.3" y1="248.0" x2="1134.3" y2="228.0" stroke="#1e88d8" stroke-width="3.2" />
<line x1="1100.3" y1="268.0" x2="1083.3" y2="277.5" stroke="#e8e020" stroke-width="3.2" /><line x1="1083.3" y1="277.5" x2="1066.3" y2="287.0" stroke="#1e88d8" stroke-width="3.2" />
<line x1="1100.3" y1="327.0" x2="1083.3" y2="307.0" stroke="#e8e020" stroke-width="3.2" /><line x1="1083.3" y1="307.0" x2="1066.3" y2="287.0" stroke="#1e88d8" stroke-width="3.2" />
<line x1="1100.3" y1="268.0" x2="1117.3" y2="277.5" stroke="#e8e020" stroke-width="3.2" /><line x1="1117.3" y1="277.5" x2="1134.3" y2="287.0" stroke="#1e88d8" stroke-width="3.2" />
<line x1="1100.3" y1="327.0" x2="1117.3" y2="307.0" stroke="#e8e020" stroke-width="3.2" /><line x1="1117.3" y1="307.0" x2="1134.3" y2="287.0" stroke="#1e88d8" stroke-width="3.2" />
<line x1="1100.3" y1="327.0" x2="1083.3" y2="336.5" stroke="#e8e020" stroke-width="3.2" /><line x1="1083.3" y1="336.5" x2="1066.3" y2="346.0" stroke="#1e88d8" stroke-width="3.2" />
<line x1="1100.3" y1="386.0" x2="1083.3" y2="366.0" stroke="#e8e020" stroke-width="3.2" /><line x1="1083.3" y1="366.0" x2="1066.3" y2="346.0" stroke="#1e88d8" stroke-width="3.2" />
<line x1="1100.3" y1="327.0" x2="1117.3" y2="336.5" stroke="#e8e020" stroke-width="3.2" /><line x1="1117.3" y1="336.5" x2="1134.3" y2="346.0" stroke="#1e88d8" stroke-width="3.2" />
<line x1="1100.3" y1="386.0" x2="1117.3" y2="366.0" stroke="#e8e020" stroke-width="3.2" /><line x1="1117.3" y1="366.0" x2="1134.3" y2="346.0" stroke="#1e88d8" stroke-width="3.2" />
<line x1="1100.3" y1="386.0" x2="1083.3" y2="395.5" stroke="#e8e020" stroke-width="3.2" /><line x1="1083.3" y1="395.5" x2="1066.3" y2="405.0" stroke="#1e88d8" stroke-width="3.2" />
<line x1="1100.3" y1="445.0" x2="1083.3" y2="425.0" stroke="#e8e020" stroke-width="3.2" /><line x1="1083.3" y1="425.0" x2="1066.3" y2="405.0" stroke="#1e88d8" stroke-width="3.2" />
<line x1="1100.3" y1="386.0" x2="1117.3" y2="395.5" stroke="#e8e020" stroke-width="3.2" /><line x1="1117.3" y1="395.5" x2="1134.3" y2="405.0" stroke="#1e88d8" stroke-width="3.2" />
<line x1="1100.3" y1="445.0" x2="1117.3" y2="425.0" stroke="#e8e020" stroke-width="3.2" /><line x1="1117.3" y1="425.0" x2="1134.3" y2="405.0" stroke="#1e88d8" stroke-width="3.2" />
<circle cx="832.5" cy="91.0" r="12.5" fill="url(#gY)"/>
<circle cx="798.5" cy="130.0" r="9" fill="url(#gB)"/>
<circle cx="866.5" cy="130.0" r="9" fill="url(#gB)"/>
<circle cx="832.5" cy="150.2" r="12.5" fill="url(#gY)"/>
<circle cx="798.5" cy="189.2" r="9" fill="url(#gB)"/>
<circle cx="866.5" cy="189.2" r="9" fill="url(#gB)"/>
<circle cx="832.5" cy="209.4" r="12.5" fill="url(#gY)"/>
<circle cx="798.5" cy="248.4" r="9" fill="url(#gB)"/>
<circle cx="866.5" cy="248.4" r="9" fill="url(#gB)"/>
<circle cx="832.5" cy="268.6" r="12.5" fill="url(#gY)"/>
<circle cx="798.5" cy="307.6" r="9" fill="url(#gB)"/>
<circle cx="866.5" cy="307.6" r="9" fill="url(#gB)"/>
<circle cx="832.5" cy="327.8" r="12.5" fill="url(#gY)"/>
<circle cx="798.5" cy="366.8" r="9" fill="url(#gB)"/>
<circle cx="866.5" cy="366.8" r="9" fill="url(#gB)"/>
<circle cx="832.5" cy="387.0" r="12.5" fill="url(#gY)"/>
<circle cx="798.5" cy="426.0" r="9" fill="url(#gB)"/>
<circle cx="866.5" cy="426.0" r="9" fill="url(#gB)"/>
<circle cx="832.5" cy="446.2" r="12.5" fill="url(#gY)"/>
<circle cx="1100.3" cy="91.0" r="12.5" fill="url(#gY)"/>
<circle cx="1066.3" cy="110.0" r="9" fill="url(#gB)"/>
<circle cx="1134.3" cy="110.0" r="9" fill="url(#gB)"/>
<circle cx="1100.3" cy="150.0" r="12.5" fill="url(#gY)"/>
<circle cx="1066.3" cy="169.0" r="9" fill="url(#gB)"/>
<circle cx="1134.3" cy="169.0" r="9" fill="url(#gB)"/>
<circle cx="1100.3" cy="209.0" r="12.5" fill="url(#gY)"/>
<circle cx="1066.3" cy="228.0" r="9" fill="url(#gB)"/>
<circle cx="1134.3" cy="228.0" r="9" fill="url(#gB)"/>
<circle cx="1100.3" cy="268.0" r="12.5" fill="url(#gY)"/>
<circle cx="1066.3" cy="287.0" r="9" fill="url(#gB)"/>
<circle cx="1134.3" cy="287.0" r="9" fill="url(#gB)"/>
<circle cx="1100.3" cy="327.0" r="12.5" fill="url(#gY)"/>
<circle cx="1066.3" cy="346.0" r="9" fill="url(#gB)"/>
<circle cx="1134.3" cy="346.0" r="9" fill="url(#gB)"/>
<circle cx="1100.3" cy="386.0" r="12.5" fill="url(#gY)"/>
<circle cx="1066.3" cy="405.0" r="9" fill="url(#gB)"/>
<circle cx="1134.3" cy="405.0" r="9" fill="url(#gB)"/>
<circle cx="1100.3" cy="445.0" r="12.5" fill="url(#gY)"/>
<circle cx="832.5" cy="167.5" r="42" fill="url(#glowO)"/>
<circle cx="832.5" cy="167.5" r="28.5" fill="#fdb515"/>
<text x="832.5" y="176.5" font-size="30" font-family="'Liberation Serif','DejaVu Serif',serif" fill="#1a1a1a" text-anchor="middle" >e</text>
<circle cx="832.5" cy="298.6" r="42" fill="url(#glowC)"/>
<circle cx="832.5" cy="298.6" r="28.5" fill="#0fb0ea"/>
<text x="832.5" y="307.6" font-size="30" font-family="'Liberation Serif','DejaVu Serif',serif" fill="#1a1a1a" text-anchor="middle" >h</text>
<circle cx="832.5" cy="371.7" r="42" fill="url(#glowO)"/>
<circle cx="832.5" cy="371.7" r="28.5" fill="#fdb515"/>
<text x="832.5" y="380.7" font-size="30" font-family="'Liberation Serif','DejaVu Serif',serif" fill="#1a1a1a" text-anchor="middle" >e</text>
<circle cx="1100.3" cy="168.5" r="42" fill="url(#glowC)"/>
<circle cx="1100.3" cy="168.5" r="28.5" fill="#0fb0ea"/>
<text x="1100.3" y="177.5" font-size="30" font-family="'Liberation Serif','DejaVu Serif',serif" fill="#1a1a1a" text-anchor="middle" >h</text>
<ellipse cx="966.8" cy="169.5" rx="192" ry="54.5" fill="none" stroke="#7a7a7a" stroke-width="2.2" stroke-dasharray="11,7"/>
<ellipse cx="832.9" cy="333" rx="49.7" ry="86" fill="none" stroke="#7a7a7a" stroke-width="2.2"/>
<text x="906.5" y="163.6" font-size="30" font-family="'Liberation Serif','DejaVu Serif',serif" fill="#1a1a1a" textLength="120.5" lengthAdjust="spacingAndGlyphs" >interlayer</text>
<text x="895.0" y="410.0" font-size="30" font-family="'Liberation Serif','DejaVu Serif',serif" fill="#1a1a1a" textLength="119.5" lengthAdjust="spacingAndGlyphs" >intralayer</text>
<defs><radialGradient id="glowO2"><stop offset="0.5" stop-color="#ff9050" stop-opacity="0.85"/><stop offset="1" stop-color="#ff9050" stop-opacity="0"/></radialGradient><radialGradient id="glowC2"><stop offset="0.5" stop-color="#30b8f0" stop-opacity="0.85"/><stop offset="1" stop-color="#30b8f0" stop-opacity="0"/></radialGradient></defs>
<text x="715.0" y="508.0" font-size="40" font-family="'Liberation Serif','DejaVu Serif',serif" fill="#1a1a1a" textLength="50" lengthAdjust="spacingAndGlyphs" >(d)</text>
<path d="M782.7,595.7 C816.9,651.1 826.8,685.0 858.8,685.0 C890.1,685.0 899.8,651.1 933.3,595.7" fill="none" stroke="#ff3010" stroke-width="4.2"/>
<path d="M782.7,629.4 C816.9,683.1 826.8,716.0 858.8,716.0 C890.1,716.0 899.8,683.1 933.3,629.4" fill="none" stroke="#ff3010" stroke-width="4.2"/>
<path d="M784.4,862.0 C817.9,807.7 827.6,774.4 858.8,774.4 C890.1,774.4 899.8,807.7 933.3,862.0" fill="none" stroke="#1e9be8" stroke-width="4.2"/>
<path d="M784.4,938.0 C817.9,882.7 827.6,848.8 858.8,848.8 C890.1,848.8 899.8,882.7 933.3,938.0" fill="none" stroke="#1e9be8" stroke-width="4.2"/>
<path d="M1004.4,595.7 C1038.6,651.1 1048.5,685.0 1080.5,685.0 C1111.8,685.0 1121.5,651.1 1155.0,595.7" fill="none" stroke="#ff3010" stroke-width="4.2"/>
<path d="M1004.4,629.4 C1038.6,684.3 1048.5,718.0 1080.5,718.0 C1111.8,718.0 1121.5,684.3 1155.0,629.4" fill="none" stroke="#ff3010" stroke-width="4.2"/>
<path d="M1004.4,863.7 C1038.6,808.3 1048.5,774.4 1080.5,774.4 C1111.1,774.4 1120.6,808.3 1153.4,863.7" fill="none" stroke="#1e9be8" stroke-width="4.2"/>
<path d="M1004.4,938.0 C1038.6,882.7 1048.5,848.8 1080.5,848.8 C1111.1,848.8 1120.6,882.7 1153.4,938.0" fill="none" stroke="#1e9be8" stroke-width="4.2"/>
<line x1="774.5" y1="562.6" x2="774.5" y2="585.4" stroke="#111" stroke-width="3" /><polygon points="769.5,582.4 779.5,582.4 774.5,592.4" fill="#111"/>
<line x1="774.5" y1="638.7" x2="774.5" y2="614.0" stroke="#111" stroke-width="3" /><polygon points="769.5,617.0 779.5,617.0 774.5,607.0" fill="#111"/>
<line x1="774.5" y1="875.3" x2="774.5" y2="852.5" stroke="#111" stroke-width="3" /><polygon points="769.5,855.5 779.5,855.5 774.5,845.5" fill="#111"/>
<line x1="774.5" y1="908.4" x2="774.5" y2="932.8" stroke="#111" stroke-width="3" /><polygon points="769.5,929.8 779.5,929.8 774.5,939.8" fill="#111"/>
<line x1="1163.3" y1="592.4" x2="1163.3" y2="569.6" stroke="#111" stroke-width="3" /><polygon points="1158.3,572.6 1168.3,572.6 1163.3,562.6" fill="#111"/>
<line x1="1163.3" y1="607.0" x2="1163.3" y2="631.7" stroke="#111" stroke-width="3" /><polygon points="1158.3,628.7 1168.3,628.7 1163.3,638.7" fill="#111"/>
<line x1="1163.3" y1="845.5" x2="1163.3" y2="868.3" stroke="#111" stroke-width="3" /><polygon points="1158.3,865.3 1168.3,865.3 1163.3,875.3" fill="#111"/>
<line x1="1163.3" y1="939.8" x2="1163.3" y2="915.4" stroke="#111" stroke-width="3" /><polygon points="1158.3,918.4 1168.3,918.4 1163.3,908.4" fill="#111"/>
<text x="814" y="549" font-size="30" font-family="'Liberation Serif','DejaVu Serif',serif" font-style="italic" fill="#1a1a1a">K</text>
<text x="839.5" y="538" font-size="26" font-family="'Liberation Serif','DejaVu Serif',serif" fill="#1a1a1a">+</text>
<text x="834" y="557" font-size="22" font-family="'Liberation Serif','DejaVu Serif',serif" fill="#1a1a1a" textLength="70" lengthAdjust="spacingAndGlyphs">layer 1</text>
<text x="1031" y="549" font-size="30" font-family="'Liberation Serif','DejaVu Serif',serif" font-style="italic" fill="#1a1a1a">K</text>
<text x="1056.5" y="538" font-size="26" font-family="'Liberation Serif','DejaVu Serif',serif" fill="#1a1a1a">+</text>
<text x="1051" y="557" font-size="22" font-family="'Liberation Serif','DejaVu Serif',serif" fill="#1a1a1a" textLength="70" lengthAdjust="spacingAndGlyphs">layer 2</text>
<line x1="858.2" y1="766.0" x2="858.2" y2="735.0" stroke="#8a8a8a" stroke-width="2.6" />
<polygon points="852.5,737 863.9,737 858.2,726" fill="#8a8a8a"/>
<line x1="915.0" y1="791.0" x2="1060.0" y2="701.0" stroke="#8a8a8a" stroke-width="2.6" />
<polygon points="1069,695.6 1055.5,696 1062,707" fill="#8a8a8a"/>
<circle cx="858.2" cy="713" r="24" fill="url(#glowO2)"/>
<circle cx="858.2" cy="713" r="14.5" fill="#fdb515"/>
<text x="858.2" y="720.0" font-size="24" font-family="'Liberation Serif','DejaVu Serif',serif" fill="#1a1a1a" text-anchor="middle" >e</text>
<circle cx="858.2" cy="781" r="24" fill="url(#glowC2)"/>
<circle cx="858.2" cy="781" r="14.5" fill="#0fb0ea"/>
<text x="858.2" y="788.0" font-size="24" font-family="'Liberation Serif','DejaVu Serif',serif" fill="#1a1a1a" text-anchor="middle" >h</text>
<circle cx="902.5" cy="800.8" r="24" fill="url(#glowC2)"/>
<circle cx="902.5" cy="800.8" r="14.5" fill="#0fb0ea"/>
<text x="902.5" y="807.8" font-size="24" font-family="'Liberation Serif','DejaVu Serif',serif" fill="#1a1a1a" text-anchor="middle" >h</text>
<circle cx="1079.9" cy="686" r="24" fill="url(#glowO2)"/>
<circle cx="1079.9" cy="686" r="14.5" fill="#fdb515"/>
<text x="1079.9" y="693.0" font-size="24" font-family="'Liberation Serif','DejaVu Serif',serif" fill="#1a1a1a" text-anchor="middle" >e</text>
<text x="729.0" y="756.0" font-size="28" font-family="'Liberation Serif','DejaVu Serif',serif" fill="#1a1a1a" textLength="115" lengthAdjust="spacingAndGlyphs" >intralayer</text>
<text x="996.0" y="763.0" font-size="28" font-family="'Liberation Serif','DejaVu Serif',serif" fill="#1a1a1a" textLength="116" lengthAdjust="spacingAndGlyphs" >interlayer</text>
<text x="1216.0" y="34.0" font-size="40" font-family="'Liberation Serif','DejaVu Serif',serif" fill="#1a1a1a" textLength="49" lengthAdjust="spacingAndGlyphs" >(e)</text>
<text x="1216.0" y="309.5" font-size="40" font-family="'Liberation Serif','DejaVu Serif',serif" fill="#1a1a1a" textLength="44" lengthAdjust="spacingAndGlyphs" >(f)</text>
<text x="1216.0" y="668.0" font-size="40" font-family="'Liberation Serif','DejaVu Serif',serif" fill="#1a1a1a" textLength="51" lengthAdjust="spacingAndGlyphs" >(g)</text>
<line x1="1346.0" y1="46.0" x2="1346.0" y2="57.5" stroke="#444444" stroke-width="1.8" />
<line x1="1346.0" y1="332.3" x2="1346.0" y2="320.8" stroke="#444444" stroke-width="1.8" />
<line x1="1396.2" y1="46.0" x2="1396.2" y2="52.0" stroke="#444444" stroke-width="1.8" />
<line x1="1396.2" y1="332.3" x2="1396.2" y2="326.3" stroke="#444444" stroke-width="1.8" />
<line x1="1446.4" y1="46.0" x2="1446.4" y2="57.5" stroke="#444444" stroke-width="1.8" />
<line x1="1446.4" y1="332.3" x2="1446.4" y2="320.8" stroke="#444444" stroke-width="1.8" />
<line x1="1496.6" y1="46.0" x2="1496.6" y2="52.0" stroke="#444444" stroke-width="1.8" />
<line x1="1496.6" y1="332.3" x2="1496.6" y2="326.3" stroke="#444444" stroke-width="1.8" />
<line x1="1546.8" y1="46.0" x2="1546.8" y2="57.5" stroke="#444444" stroke-width="1.8" />
<line x1="1546.8" y1="332.3" x2="1546.8" y2="320.8" stroke="#444444" stroke-width="1.8" />
<line x1="1597.0" y1="46.0" x2="1597.0" y2="52.0" stroke="#444444" stroke-width="1.8" />
<line x1="1597.0" y1="332.3" x2="1597.0" y2="326.3" stroke="#444444" stroke-width="1.8" />
<line x1="1647.2" y1="46.0" x2="1647.2" y2="57.5" stroke="#444444" stroke-width="1.8" />
<line x1="1647.2" y1="332.3" x2="1647.2" y2="320.8" stroke="#444444" stroke-width="1.8" />
<line x1="1697.4" y1="46.0" x2="1697.4" y2="52.0" stroke="#444444" stroke-width="1.8" />
<line x1="1697.4" y1="332.3" x2="1697.4" y2="326.3" stroke="#444444" stroke-width="1.8" />
<line x1="1747.6" y1="46.0" x2="1747.6" y2="57.5" stroke="#444444" stroke-width="1.8" />
<line x1="1747.6" y1="332.3" x2="1747.6" y2="320.8" stroke="#444444" stroke-width="1.8" />
<rect x="1296" y="46" width="552" height="286.3" fill="none" stroke="#444444" stroke-width="1.8"/>
<line x1="1346.0" y1="332.3" x2="1346.0" y2="343.8" stroke="#444444" stroke-width="1.8" />
<line x1="1346.0" y1="619.2" x2="1346.0" y2="607.7" stroke="#444444" stroke-width="1.8" />
<line x1="1396.2" y1="332.3" x2="1396.2" y2="338.3" stroke="#444444" stroke-width="1.8" />
<line x1="1396.2" y1="619.2" x2="1396.2" y2="613.2" stroke="#444444" stroke-width="1.8" />
<line x1="1446.4" y1="332.3" x2="1446.4" y2="343.8" stroke="#444444" stroke-width="1.8" />
<line x1="1446.4" y1="619.2" x2="1446.4" y2="607.7" stroke="#444444" stroke-width="1.8" />
<line x1="1496.6" y1="332.3" x2="1496.6" y2="338.3" stroke="#444444" stroke-width="1.8" />
<line x1="1496.6" y1="619.2" x2="1496.6" y2="613.2" stroke="#444444" stroke-width="1.8" />
<line x1="1546.8" y1="332.3" x2="1546.8" y2="343.8" stroke="#444444" stroke-width="1.8" />
<line x1="1546.8" y1="619.2" x2="1546.8" y2="607.7" stroke="#444444" stroke-width="1.8" />
<line x1="1597.0" y1="332.3" x2="1597.0" y2="338.3" stroke="#444444" stroke-width="1.8" />
<line x1="1597.0" y1="619.2" x2="1597.0" y2="613.2" stroke="#444444" stroke-width="1.8" />
<line x1="1647.2" y1="332.3" x2="1647.2" y2="343.8" stroke="#444444" stroke-width="1.8" />
<line x1="1647.2" y1="619.2" x2="1647.2" y2="607.7" stroke="#444444" stroke-width="1.8" />
<line x1="1697.4" y1="332.3" x2="1697.4" y2="338.3" stroke="#444444" stroke-width="1.8" />
<line x1="1697.4" y1="619.2" x2="1697.4" y2="613.2" stroke="#444444" stroke-width="1.8" />
<line x1="1747.6" y1="332.3" x2="1747.6" y2="343.8" stroke="#444444" stroke-width="1.8" />
<line x1="1747.6" y1="619.2" x2="1747.6" y2="607.7" stroke="#444444" stroke-width="1.8" />
<rect x="1296" y="332.3" width="552" height="286.90000000000003" fill="none" stroke="#444444" stroke-width="1.8"/>
<line x1="1346.0" y1="619.2" x2="1346.0" y2="630.7" stroke="#444444" stroke-width="1.8" />
<line x1="1346.0" y1="905.9" x2="1346.0" y2="894.4" stroke="#444444" stroke-width="1.8" />
<line x1="1396.2" y1="619.2" x2="1396.2" y2="625.2" stroke="#444444" stroke-width="1.8" />
<line x1="1396.2" y1="905.9" x2="1396.2" y2="899.9" stroke="#444444" stroke-width="1.8" />
<line x1="1446.4" y1="619.2" x2="1446.4" y2="630.7" stroke="#444444" stroke-width="1.8" />
<line x1="1446.4" y1="905.9" x2="1446.4" y2="894.4" stroke="#444444" stroke-width="1.8" />
<line x1="1496.6" y1="619.2" x2="1496.6" y2="625.2" stroke="#444444" stroke-width="1.8" />
<line x1="1496.6" y1="905.9" x2="1496.6" y2="899.9" stroke="#444444" stroke-width="1.8" />
<line x1="1546.8" y1="619.2" x2="1546.8" y2="630.7" stroke="#444444" stroke-width="1.8" />
<line x1="1546.8" y1="905.9" x2="1546.8" y2="894.4" stroke="#444444" stroke-width="1.8" />
<line x1="1597.0" y1="619.2" x2="1597.0" y2="625.2" stroke="#444444" stroke-width="1.8" />
<line x1="1597.0" y1="905.9" x2="1597.0" y2="899.9" stroke="#444444" stroke-width="1.8" />
<line x1="1647.2" y1="619.2" x2="1647.2" y2="630.7" stroke="#444444" stroke-width="1.8" />
<line x1="1647.2" y1="905.9" x2="1647.2" y2="894.4" stroke="#444444" stroke-width="1.8" />
<line x1="1697.4" y1="619.2" x2="1697.4" y2="625.2" stroke="#444444" stroke-width="1.8" />
<line x1="1697.4" y1="905.9" x2="1697.4" y2="899.9" stroke="#444444" stroke-width="1.8" />
<line x1="1747.6" y1="619.2" x2="1747.6" y2="630.7" stroke="#444444" stroke-width="1.8" />
<line x1="1747.6" y1="905.9" x2="1747.6" y2="894.4" stroke="#444444" stroke-width="1.8" />
<rect x="1296" y="619.2" width="552" height="286.69999999999993" fill="none" stroke="#444444" stroke-width="1.8"/>
<text x="1346.0" y="945.6" font-size="35" font-family="'Liberation Serif','DejaVu Serif',serif" fill="#1a1a1a" text-anchor="middle" textLength="44" lengthAdjust="spacingAndGlyphs" >1.3</text>
<text x="1446.4" y="945.6" font-size="35" font-family="'Liberation Serif','DejaVu Serif',serif" fill="#1a1a1a" text-anchor="middle" textLength="44" lengthAdjust="spacingAndGlyphs" >1.4</text>
<text x="1546.8" y="945.6" font-size="35" font-family="'Liberation Serif','DejaVu Serif',serif" fill="#1a1a1a" text-anchor="middle" textLength="44" lengthAdjust="spacingAndGlyphs" >1.5</text>
<text x="1647.2" y="945.6" font-size="35" font-family="'Liberation Serif','DejaVu Serif',serif" fill="#1a1a1a" text-anchor="middle" textLength="44" lengthAdjust="spacingAndGlyphs" >1.6</text>
<text x="1747.6" y="945.6" font-size="35" font-family="'Liberation Serif','DejaVu Serif',serif" fill="#1a1a1a" text-anchor="middle" textLength="44" lengthAdjust="spacingAndGlyphs" >1.7</text>
<text x="1474.0" y="991.0" font-size="36" font-family="'Liberation Serif','DejaVu Serif',serif" fill="#1a1a1a" textLength="195" lengthAdjust="spacingAndGlyphs" >Energy (eV)</text>
<text transform="translate(1255,613) rotate(-90)" font-size="36" font-family="'Liberation Serif','DejaVu Serif',serif" fill="#1a1a1a" textLength="274" lengthAdjust="spacingAndGlyphs">Absorption (a.u.)</text>
<text x="1377" y="83.2" font-size="35" font-family="'Liberation Serif','DejaVu Serif',serif" fill="#1a1a1a" textLength="79.5" lengthAdjust="spacingAndGlyphs">WSe<tspan font-size="24" dy="6">2</tspan></text>
<text x="1302.0" y="369.0" font-size="32" font-family="'Liberation Serif','DejaVu Serif',serif" fill="#1a1a1a" textLength="230" lengthAdjust="spacingAndGlyphs" >Heterostructure</text>
<text x="1369.5" y="656" font-size="34" font-family="'Liberation Serif','DejaVu Serif',serif" fill="#1a1a1a" textLength="92.5" lengthAdjust="spacingAndGlyphs">MoSe<tspan font-size="23" dy="6">2</tspan></text>
<text x="1769.5" y="157.4" font-size="36" font-family="'Liberation Serif','DejaVu Serif',serif" font-style="italic" fill="#1a1a1a" textLength="27" lengthAdjust="spacingAndGlyphs">X</text>
<text x="1799" y="145" font-size="23" font-family="'Liberation Serif','DejaVu Serif',serif" font-style="italic" fill="#1a1a1a">o</text>
<text x="1801" y="166" font-size="23" font-family="'Liberation Serif','DejaVu Serif',serif" fill="#1a1a1a" textLength="21" lengthAdjust="spacingAndGlyphs">W</text>
<text x="1720" y="197" font-size="35" font-family="'Liberation Serif','DejaVu Serif',serif" font-style="italic" fill="#1a1a1a" textLength="26" lengthAdjust="spacingAndGlyphs">X</text>
<text x="1750" y="186" font-size="26" font-family="'Liberation Serif','DejaVu Serif',serif" fill="#1a1a1a" textLength="15" lengthAdjust="spacingAndGlyphs">&#8722;</text>
<text x="1749.5" y="207" font-size="23" font-family="'Liberation Serif','DejaVu Serif',serif" fill="#1a1a1a" textLength="22" lengthAdjust="spacingAndGlyphs">W</text>
<text x="1710" y="698.5" font-size="36" font-family="'Liberation Serif','DejaVu Serif',serif" font-style="italic" fill="#1a1a1a" textLength="26.5" lengthAdjust="spacingAndGlyphs">X</text>
<text x="1738.5" y="687" font-size="23" font-family="'Liberation Serif','DejaVu Serif',serif" font-style="italic" fill="#1a1a1a">o</text>
<text x="1739" y="706.6" font-size="23" font-family="'Liberation Serif','DejaVu Serif',serif" fill="#1a1a1a" textLength="32" lengthAdjust="spacingAndGlyphs">Mo</text>
<rect x="1609" y="733" width="11" height="9" fill="#111"/>
<text x="1613" y="742" font-size="36" font-family="'Liberation Serif','DejaVu Serif',serif" font-style="italic" fill="#1a1a1a" textLength="26" lengthAdjust="spacingAndGlyphs">X</text>
<text x="1640" y="730.5" font-size="26" font-family="'Liberation Serif','DejaVu Serif',serif" fill="#1a1a1a" textLength="14" lengthAdjust="spacingAndGlyphs">&#8722;</text>
<text x="1639" y="750.5" font-size="23" font-family="'Liberation Serif','DejaVu Serif',serif" fill="#1a1a1a" textLength="32" lengthAdjust="spacingAndGlyphs">Mo</text>
<path d="M1296.0,313.8 C1301.1,314.0 1316.7,315.1 1326.5,315.0 C1336.3,314.9 1345.6,313.7 1355.0,313.0 C1364.4,312.3 1374.4,310.9 1382.7,311.0 C1391.0,311.1 1396.8,312.8 1405.0,313.5 C1413.2,314.2 1422.8,314.9 1432.0,315.0 C1441.2,315.1 1449.2,313.6 1460.0,313.8 C1470.8,314.0 1485.9,316.0 1497.0,316.0 C1508.1,316.0 1518.3,314.0 1526.8,313.8 C1535.3,313.6 1540.8,315.1 1548.0,315.0 C1555.2,314.9 1563.6,313.8 1570.0,313.0 C1576.4,312.2 1580.8,311.2 1586.5,310.0 C1592.2,308.8 1598.2,307.9 1604.0,305.7 C1609.8,303.5 1616.3,300.5 1621.6,297.0 C1626.9,293.5 1631.0,290.2 1635.7,284.6 C1640.4,279.0 1645.7,270.5 1649.8,263.5 C1653.9,256.5 1657.7,248.2 1660.3,242.4 C1662.9,236.6 1662.7,233.7 1665.6,228.4 C1668.5,223.1 1674.1,217.5 1677.9,210.8 C1681.7,204.1 1685.5,189.8 1688.4,188.0 C1691.3,186.2 1691.9,191.8 1695.4,200.3 C1698.9,208.8 1705.7,231.4 1709.5,239.0 C1713.3,246.6 1715.1,244.2 1718.3,246.0 C1721.5,247.8 1725.6,250.1 1728.8,249.5 C1732.0,248.9 1735.0,246.5 1737.6,242.4 C1740.2,238.3 1741.7,230.8 1744.6,224.9 C1747.5,219.1 1752.3,209.1 1755.2,207.3 C1758.1,205.5 1759.9,205.5 1762.2,214.3 C1764.5,223.1 1766.9,251.5 1769.2,260.0 C1771.5,268.5 1773.9,266.5 1776.2,265.3 C1778.5,264.1 1781.1,267.0 1783.3,253.0 C1785.5,239.0 1787.8,190.9 1789.6,181.5 C1791.3,172.1 1792.5,180.2 1793.8,196.8 C1795.1,213.4 1795.5,262.9 1797.3,281.0 C1799.0,299.1 1800.8,300.3 1804.3,305.7 C1807.8,311.1 1811.1,312.0 1818.4,313.4 C1825.7,314.8 1843.1,313.7 1848.0,313.8" fill="none" stroke="#000" stroke-width="5.2" stroke-linejoin="round"/>
<path d="M1296.0,596.5 C1299.3,596.2 1308.6,596.3 1316.0,595.0 C1323.4,593.7 1333.5,590.8 1340.5,588.8 C1347.5,586.8 1351.6,585.5 1358.0,582.8 C1364.4,580.0 1372.5,576.6 1379.0,572.3 C1385.5,568.0 1391.5,563.3 1396.8,557.0 C1402.1,550.7 1406.7,542.2 1410.8,534.3 C1414.9,526.4 1417.9,519.6 1421.4,509.7 C1424.9,499.8 1429.1,485.7 1432.0,474.6 C1434.9,463.5 1437.0,451.8 1439.0,443.0 C1441.0,434.2 1442.5,423.1 1444.2,421.9 C1446.0,420.7 1448.0,427.2 1449.5,436.0 C1451.0,444.8 1451.5,461.1 1453.0,474.6 C1454.5,488.1 1456.5,505.1 1458.3,516.8 C1460.0,528.5 1460.3,534.9 1463.5,544.9 C1466.7,554.9 1473.5,568.8 1477.6,576.5 C1481.7,584.2 1483.3,588.5 1488.0,591.3 C1492.7,594.1 1499.9,593.4 1505.7,593.4 C1511.5,593.4 1511.9,591.6 1523.0,591.0 C1534.1,590.4 1558.4,591.4 1572.5,589.9 C1586.6,588.4 1597.3,584.9 1607.6,581.8 C1617.8,578.7 1627.6,575.6 1634.0,571.2 C1640.4,566.8 1642.2,563.3 1646.0,555.4 C1649.8,547.5 1653.8,533.2 1656.8,523.8 C1659.8,514.4 1661.8,512.4 1663.8,499.2 C1665.8,486.0 1667.5,452.3 1669.0,444.7 C1670.5,437.1 1671.1,446.2 1672.6,453.5 C1674.1,460.8 1675.6,481.7 1677.9,488.7 C1680.2,495.7 1684.0,495.1 1686.6,495.7 C1689.2,496.3 1691.9,499.2 1693.7,492.2 C1695.5,485.2 1695.9,469.9 1697.2,453.5 C1698.5,437.1 1700.5,398.5 1701.8,393.8 C1703.1,389.1 1704.5,408.4 1705.3,425.4 C1706.1,442.4 1705.7,475.8 1706.7,495.7 C1707.7,515.6 1709.4,533.2 1711.3,544.9 C1713.2,556.6 1714.8,560.1 1718.3,566.0 C1721.8,571.9 1727.9,578.8 1732.3,580.0 C1736.7,581.2 1740.8,575.3 1744.6,573.0 C1748.4,570.7 1751.7,565.4 1755.2,566.0 C1758.7,566.6 1762.5,573.2 1765.7,576.5 C1768.9,579.8 1771.6,585.1 1774.5,586.0 C1777.4,586.9 1780.7,585.7 1783.3,581.8 C1785.9,577.9 1788.0,562.7 1790.3,562.4 C1792.6,562.1 1794.4,574.8 1797.3,580.0 C1800.2,585.2 1802.6,590.5 1807.9,593.4 C1813.2,596.3 1822.3,597.1 1829.0,597.6 C1835.7,598.1 1844.8,596.7 1848.0,596.5" fill="none" stroke="#000" stroke-width="5.2" stroke-linejoin="round"/>
<path d="M1298.4,887.6 C1302.5,887.0 1313.1,884.9 1323.0,884.0 C1332.9,883.1 1348.7,883.0 1358.0,882.3 C1367.3,881.6 1370.2,880.3 1379.0,879.9 C1387.8,879.5 1399.6,879.7 1410.8,879.9 C1422.0,880.1 1434.3,881.1 1446.0,881.3 C1457.7,881.5 1469.3,881.7 1481.0,881.3 C1492.7,880.9 1505.5,879.5 1516.0,878.8 C1526.5,878.1 1533.7,877.6 1544.3,877.0 C1554.9,876.4 1567.8,875.1 1579.5,875.3 C1591.2,875.5 1606.1,877.0 1614.6,878.0 C1623.1,879.0 1625.7,881.6 1630.4,881.6 C1635.1,881.6 1638.3,880.8 1642.7,877.7 C1647.1,874.6 1653.6,867.8 1656.8,863.0 C1660.0,858.2 1660.2,864.8 1662.0,849.0 C1663.8,833.2 1665.8,784.4 1667.3,768.0 C1668.8,751.6 1669.6,749.3 1670.8,750.5 C1672.0,751.7 1672.8,758.6 1674.3,775.0 C1675.8,791.4 1677.8,835.2 1679.6,849.0 C1681.4,862.8 1682.9,857.7 1684.9,857.7 C1687.0,857.7 1690.2,855.7 1691.9,849.0 C1693.7,842.3 1694.2,848.3 1695.4,817.3 C1696.6,786.2 1697.9,692.9 1699.0,662.7 C1700.1,632.6 1700.8,637.6 1701.8,636.4 C1702.8,635.2 1704.5,639.6 1705.3,655.7 C1706.1,671.8 1706.0,705.5 1706.7,733.0 C1707.4,760.5 1708.2,797.4 1709.5,820.8 C1710.8,844.2 1711.9,862.4 1714.8,873.5 C1717.7,884.6 1719.1,885.0 1727.0,887.6 C1734.9,890.2 1750.5,888.9 1762.2,889.3 C1773.9,889.7 1783.0,889.9 1797.3,890.0 C1811.6,890.1 1839.5,890.0 1848.0,890.0" fill="none" stroke="#000" stroke-width="5.2" stroke-linejoin="round"/>
<polygon points="1324.0,244.1 1510.8,243.4 1506.0,226.9 1330.4,226.4" fill="#3a5ee8" opacity="0.7"/><line x1="1323.0" y1="246.7" x2="1332.5" y2="220.7" stroke="#e8901e" stroke-width="1.2" opacity="0.9"/><line x1="1323.0" y1="246.7" x2="1332.5" y2="220.7" stroke="#e08a14" stroke-width="2.3" stroke-linecap="round" stroke-dasharray="0.1 2.4"/><line x1="1325.2" y1="245.8" x2="1334.7" y2="219.8" stroke="#e8901e" stroke-width="1.2" opacity="0.9"/><line x1="1325.2" y1="245.8" x2="1334.7" y2="219.8" stroke="#e08a14" stroke-width="2.3" stroke-linecap="round" stroke-dasharray="0.1 2.4"/><line x1="1332.4" y1="246.7" x2="1341.1" y2="220.7" stroke="#e8901e" stroke-width="1.2" opacity="0.9"/><line x1="1332.4" y1="246.7" x2="1341.1" y2="220.7" stroke="#e08a14" stroke-width="2.3" stroke-linecap="round" stroke-dasharray="0.1 2.4"/><line x1="1334.6" y1="245.8" x2="1343.3" y2="219.9" stroke="#e8901e" stroke-width="1.2" opacity="0.9"/><line x1="1334.6" y1="245.8" x2="1343.3" y2="219.9" stroke="#e08a14" stroke-width="2.3" stroke-linecap="round" stroke-dasharray="0.1 2.4"/><line x1="1341.8" y1="246.6" x2="1349.7" y2="220.8" stroke="#e8901e" stroke-width="1.2" opacity="0.9"/><line x1="1341.8" y1="246.6" x2="1349.7" y2="220.8" stroke="#e08a14" stroke-width="2.3" stroke-linecap="round" stroke-dasharray="0.1 2.4"/><line x1="1344.0" y1="245.7" x2="1351.9" y2="219.9" stroke="#e8901e" stroke-width="1.2" opacity="0.9"/><line x1="1344.0" y1="245.7" x2="1351.9" y2="219.9" stroke="#e08a14" stroke-width="2.3" stroke-linecap="round" stroke-dasharray="0.1 2.4"/><line x1="1351.3" y1="246.6" x2="1358.3" y2="220.8" stroke="#e8901e" stroke-width="1.2" opacity="0.9"/><line x1="1351.3" y1="246.6" x2="1358.3" y2="220.8" stroke="#e08a14" stroke-width="2.3" stroke-linecap="round" stroke-dasharray="0.1 2.4"/><line x1="1353.5" y1="245.7" x2="1360.5" y2="220.0" stroke="#e8901e" stroke-width="1.2" opacity="0.9"/><line x1="1353.5" y1="245.7" x2="1360.5" y2="220.0" stroke="#e08a14" stroke-width="2.3" stroke-linecap="round" stroke-dasharray="0.1 2.4"/><line x1="1360.7" y1="246.5" x2="1366.9" y2="220.9" stroke="#e8901e" stroke-width="1.2" opacity="0.9"/><line x1="1360.7" y1="246.5" x2="1366.9" y2="220.9" stroke="#e08a14" stroke-width="2.3" stroke-linecap="round" stroke-dasharray="0.1 2.4"/><line x1="1362.9" y1="245.6" x2="1369.1" y2="220.0" stroke="#e8901e" stroke-width="1.2" opacity="0.9"/><line x1="1362.9" y1="245.6" x2="1369.1" y2="220.0" stroke="#e08a14" stroke-width="2.3" stroke-linecap="round" stroke-dasharray="0.1 2.4"/><line x1="1370.1" y1="246.5" x2="1375.5" y2="220.9" stroke="#e8901e" stroke-width="1.2" opacity="0.9"/><line x1="1370.1" y1="246.5" x2="1375.5" y2="220.9" stroke="#e08a14" stroke-width="2.3" stroke-linecap="round" stroke-dasharray="0.1 2.4"/><line x1="1372.3" y1="245.6" x2="1377.7" y2="220.0" stroke="#e8901e" stroke-width="1.2" opacity="0.9"/><line x1="1372.3" y1="245.6" x2="1377.7" y2="220.0" stroke="#e08a14" stroke-width="2.3" stroke-linecap="round" stroke-dasharray="0.1 2.4"/><line x1="1379.5" y1="246.4" x2="1384.1" y2="221.0" stroke="#e8901e" stroke-width="1.2" opacity="0.9"/><line x1="1379.5" y1="246.4" x2="1384.1" y2="221.0" stroke="#e08a14" stroke-width="2.3" stroke-linecap="round" stroke-dasharray="0.1 2.4"/><line x1="1381.8" y1="245.6" x2="1386.3" y2="220.1" stroke="#e8901e" stroke-width="1.2" opacity="0.9"/><line x1="1381.8" y1="245.6" x2="1386.3" y2="220.1" stroke="#e08a14" stroke-width="2.3" stroke-linecap="round" stroke-dasharray="0.1 2.4"/><line x1="1389.0" y1="246.4" x2="1392.7" y2="221.0" stroke="#e8901e" stroke-width="1.2" opacity="0.9"/><line x1="1389.0" y1="246.4" x2="1392.7" y2="221.0" stroke="#e08a14" stroke-width="2.3" stroke-linecap="round" stroke-dasharray="0.1 2.4"/><line x1="1391.2" y1="245.5" x2="1394.9" y2="220.1" stroke="#e8901e" stroke-width="1.2" opacity="0.9"/><line x1="1391.2" y1="245.5" x2="1394.9" y2="220.1" stroke="#e08a14" stroke-width="2.3" stroke-linecap="round" stroke-dasharray="0.1 2.4"/><line x1="1398.4" y1="246.3" x2="1401.3" y2="221.1" stroke="#e8901e" stroke-width="1.2" opacity="0.9"/><line x1="1398.4" y1="246.3" x2="1401.3" y2="221.1" stroke="#e08a14" stroke-width="2.3" stroke-linecap="round" stroke-dasharray="0.1 2.4"/><line x1="1400.6" y1="245.5" x2="1403.5" y2="220.2" stroke="#e8901e" stroke-width="1.2" opacity="0.9"/><line x1="1400.6" y1="245.5" x2="1403.5" y2="220.2" stroke="#e08a14" stroke-width="2.3" stroke-linecap="round" stroke-dasharray="0.1 2.4"/><line x1="1407.8" y1="246.3" x2="1409.9" y2="221.1" stroke="#e8901e" stroke-width="1.2" opacity="0.9"/><line x1="1407.8" y1="246.3" x2="1409.9" y2="221.1" stroke="#e08a14" stroke-width="2.3" stroke-linecap="round" stroke-dasharray="0.1 2.4"/><line x1="1410.0" y1="245.4" x2="1412.1" y2="220.2" stroke="#e8901e" stroke-width="1.2" opacity="0.9"/><line x1="1410.0" y1="245.4" x2="1412.1" y2="220.2" stroke="#e08a14" stroke-width="2.3" stroke-linecap="round" stroke-dasharray="0.1 2.4"/><line x1="1417.2" y1="246.2" x2="1418.5" y2="221.1" stroke="#e8901e" stroke-width="1.2" opacity="0.9"/><line x1="1417.2" y1="246.2" x2="1418.5" y2="221.1" stroke="#e08a14" stroke-width="2.3" stroke-linecap="round" stroke-dasharray="0.1 2.4"/><line x1="1419.5" y1="245.4" x2="1420.7" y2="220.3" stroke="#e8901e" stroke-width="1.2" opacity="0.9"/><line x1="1419.5" y1="245.4" x2="1420.7" y2="220.3" stroke="#e08a14" stroke-width="2.3" stroke-linecap="round" stroke-dasharray="0.1 2.4"/><line x1="1426.7" y1="246.2" x2="1427.1" y2="221.2" stroke="#e8901e" stroke-width="1.2" opacity="0.9"/><line x1="1426.7" y1="246.2" x2="1427.1" y2="221.2" stroke="#e08a14" stroke-width="2.3" stroke-linecap="round" stroke-dasharray="0.1 2.4"/><line x1="1428.9" y1="245.3" x2="1429.3" y2="220.3" stroke="#e8901e" stroke-width="1.2" opacity="0.9"/><line x1="1428.9" y1="245.3" x2="1429.3" y2="220.3" stroke="#e08a14" stroke-width="2.3" stroke-linecap="round" stroke-dasharray="0.1 2.4"/><line x1="1436.1" y1="246.2" x2="1435.7" y2="221.2" stroke="#e8901e" stroke-width="1.2" opacity="0.9"/><line x1="1436.1" y1="246.2" x2="1435.7" y2="221.2" stroke="#e08a14" stroke-width="2.3" stroke-linecap="round" stroke-dasharray="0.1 2.4"/><line x1="1438.3" y1="245.3" x2="1437.9" y2="220.4" stroke="#e8901e" stroke-width="1.2" opacity="0.9"/><line x1="1438.3" y1="245.3" x2="1437.9" y2="220.4" stroke="#e08a14" stroke-width="2.3" stroke-linecap="round" stroke-dasharray="0.1 2.4"/><line x1="1445.5" y1="246.1" x2="1444.3" y2="221.3" stroke="#e8901e" stroke-width="1.2" opacity="0.9"/><line x1="1445.5" y1="246.1" x2="1444.3" y2="221.3" stroke="#e08a14" stroke-width="2.3" stroke-linecap="round" stroke-dasharray="0.1 2.4"/><line x1="1447.7" y1="245.2" x2="1446.5" y2="220.4" stroke="#e8901e" stroke-width="1.2" opacity="0.9"/><line x1="1447.7" y1="245.2" x2="1446.5" y2="220.4" stroke="#e08a14" stroke-width="2.3" stroke-linecap="round" stroke-dasharray="0.1 2.4"/><line x1="1455.0" y1="246.1" x2="1452.9" y2="221.3" stroke="#e8901e" stroke-width="1.2" opacity="0.9"/><line x1="1455.0" y1="246.1" x2="1452.9" y2="221.3" stroke="#e08a14" stroke-width="2.3" stroke-linecap="round" stroke-dasharray="0.1 2.4"/><line x1="1457.2" y1="245.2" x2="1455.1" y2="220.4" stroke="#e8901e" stroke-width="1.2" opacity="0.9"/><line x1="1457.2" y1="245.2" x2="1455.1" y2="220.4" stroke="#e08a14" stroke-width="2.3" stroke-linecap="round" stroke-dasharray="0.1 2.4"/><line x1="1464.4" y1="246.0" x2="1461.5" y2="221.4" stroke="#e8901e" stroke-width="1.2" opacity="0.9"/><line x1="1464.4" y1="246.0" x2="1461.5" y2="221.4" stroke="#e08a14" stroke-width="2.3" stroke-linecap="round" stroke-dasharray="0.1 2.4"/><line x1="1466.6" y1="245.1" x2="1463.7" y2="220.5" stroke="#e8901e" stroke-width="1.2" opacity="0.9"/><line x1="1466.6" y1="245.1" x2="1463.7" y2="220.5" stroke="#e08a14" stroke-width="2.3" stroke-linecap="round" stroke-dasharray="0.1 2.4"/><line x1="1473.8" y1="246.0" x2="1470.1" y2="221.4" stroke="#e8901e" stroke-width="1.2" opacity="0.9"/><line x1="1473.8" y1="246.0" x2="1470.1" y2="221.4" stroke="#e08a14" stroke-width="2.3" stroke-linecap="round" stroke-dasharray="0.1 2.4"/><line x1="1476.0" y1="245.1" x2="1472.3" y2="220.5" stroke="#e8901e" stroke-width="1.2" opacity="0.9"/><line x1="1476.0" y1="245.1" x2="1472.3" y2="220.5" stroke="#e08a14" stroke-width="2.3" stroke-linecap="round" stroke-dasharray="0.1 2.4"/><line x1="1483.2" y1="245.9" x2="1478.7" y2="221.5" stroke="#e8901e" stroke-width="1.2" opacity="0.9"/><line x1="1483.2" y1="245.9" x2="1478.7" y2="221.5" stroke="#e08a14" stroke-width="2.3" stroke-linecap="round" stroke-dasharray="0.1 2.4"/><line x1="1485.4" y1="245.1" x2="1480.9" y2="220.6" stroke="#e8901e" stroke-width="1.2" opacity="0.9"/><line x1="1485.4" y1="245.1" x2="1480.9" y2="220.6" stroke="#e08a14" stroke-width="2.3" stroke-linecap="round" stroke-dasharray="0.1 2.4"/><line x1="1492.7" y1="245.9" x2="1487.3" y2="221.5" stroke="#e8901e" stroke-width="1.2" opacity="0.9"/><line x1="1492.7" y1="245.9" x2="1487.3" y2="221.5" stroke="#e08a14" stroke-width="2.3" stroke-linecap="round" stroke-dasharray="0.1 2.4"/><line x1="1494.9" y1="245.0" x2="1489.5" y2="220.6" stroke="#e8901e" stroke-width="1.2" opacity="0.9"/><line x1="1494.9" y1="245.0" x2="1489.5" y2="220.6" stroke="#e08a14" stroke-width="2.3" stroke-linecap="round" stroke-dasharray="0.1 2.4"/><line x1="1502.1" y1="245.8" x2="1495.9" y2="221.6" stroke="#e8901e" stroke-width="1.2" opacity="0.9"/><line x1="1502.1" y1="245.8" x2="1495.9" y2="221.6" stroke="#e08a14" stroke-width="2.3" stroke-linecap="round" stroke-dasharray="0.1 2.4"/><line x1="1504.3" y1="245.0" x2="1498.1" y2="220.7" stroke="#e8901e" stroke-width="1.2" opacity="0.9"/><line x1="1504.3" y1="245.0" x2="1498.1" y2="220.7" stroke="#e08a14" stroke-width="2.3" stroke-linecap="round" stroke-dasharray="0.1 2.4"/><line x1="1511.5" y1="245.8" x2="1504.5" y2="221.6" stroke="#e8901e" stroke-width="1.2" opacity="0.9"/><line x1="1511.5" y1="245.8" x2="1504.5" y2="221.6" stroke="#e08a14" stroke-width="2.3" stroke-linecap="round" stroke-dasharray="0.1 2.4"/><line x1="1513.7" y1="244.9" x2="1506.7" y2="220.7" stroke="#e8901e" stroke-width="1.2" opacity="0.9"/><line x1="1513.7" y1="244.9" x2="1506.7" y2="220.7" stroke="#e08a14" stroke-width="2.3" stroke-linecap="round" stroke-dasharray="0.1 2.4"/>
<polygon points="1431.1,211.0 1616.3,210.5 1611.5,193.4 1437.1,192.1" fill="#22b040" opacity="0.7"/><line x1="1430.2" y1="213.8" x2="1439.0" y2="186.0" stroke="#e8901e" stroke-width="1.2" opacity="0.9"/><line x1="1430.2" y1="213.8" x2="1439.0" y2="186.0" stroke="#e08a14" stroke-width="2.3" stroke-linecap="round" stroke-dasharray="0.1 2.4"/><line x1="1432.4" y1="212.9" x2="1441.2" y2="185.1" stroke="#e8901e" stroke-width="1.2" opacity="0.9"/><line x1="1432.4" y1="212.9" x2="1441.2" y2="185.1" stroke="#e08a14" stroke-width="2.3" stroke-linecap="round" stroke-dasharray="0.1 2.4"/><line x1="1439.5" y1="213.8" x2="1447.5" y2="186.1" stroke="#e8901e" stroke-width="1.2" opacity="0.9"/><line x1="1439.5" y1="213.8" x2="1447.5" y2="186.1" stroke="#e08a14" stroke-width="2.3" stroke-linecap="round" stroke-dasharray="0.1 2.4"/><line x1="1441.7" y1="212.9" x2="1449.8" y2="185.2" stroke="#e8901e" stroke-width="1.2" opacity="0.9"/><line x1="1441.7" y1="212.9" x2="1449.8" y2="185.2" stroke="#e08a14" stroke-width="2.3" stroke-linecap="round" stroke-dasharray="0.1 2.4"/><line x1="1448.9" y1="213.7" x2="1456.1" y2="186.2" stroke="#e8901e" stroke-width="1.2" opacity="0.9"/><line x1="1448.9" y1="213.7" x2="1456.1" y2="186.2" stroke="#e08a14" stroke-width="2.3" stroke-linecap="round" stroke-dasharray="0.1 2.4"/><line x1="1451.1" y1="212.8" x2="1458.3" y2="185.3" stroke="#e8901e" stroke-width="1.2" opacity="0.9"/><line x1="1451.1" y1="212.8" x2="1458.3" y2="185.3" stroke="#e08a14" stroke-width="2.3" stroke-linecap="round" stroke-dasharray="0.1 2.4"/><line x1="1458.2" y1="213.7" x2="1464.7" y2="186.3" stroke="#e8901e" stroke-width="1.2" opacity="0.9"/><line x1="1458.2" y1="213.7" x2="1464.7" y2="186.3" stroke="#e08a14" stroke-width="2.3" stroke-linecap="round" stroke-dasharray="0.1 2.4"/><line x1="1460.4" y1="212.8" x2="1466.9" y2="185.4" stroke="#e8901e" stroke-width="1.2" opacity="0.9"/><line x1="1460.4" y1="212.8" x2="1466.9" y2="185.4" stroke="#e08a14" stroke-width="2.3" stroke-linecap="round" stroke-dasharray="0.1 2.4"/><line x1="1467.6" y1="213.6" x2="1473.2" y2="186.4" stroke="#e8901e" stroke-width="1.2" opacity="0.9"/><line x1="1467.6" y1="213.6" x2="1473.2" y2="186.4" stroke="#e08a14" stroke-width="2.3" stroke-linecap="round" stroke-dasharray="0.1 2.4"/><line x1="1469.8" y1="212.8" x2="1475.4" y2="185.5" stroke="#e8901e" stroke-width="1.2" opacity="0.9"/><line x1="1469.8" y1="212.8" x2="1475.4" y2="185.5" stroke="#e08a14" stroke-width="2.3" stroke-linecap="round" stroke-dasharray="0.1 2.4"/><line x1="1476.9" y1="213.6" x2="1481.8" y2="186.5" stroke="#e8901e" stroke-width="1.2" opacity="0.9"/><line x1="1476.9" y1="213.6" x2="1481.8" y2="186.5" stroke="#e08a14" stroke-width="2.3" stroke-linecap="round" stroke-dasharray="0.1 2.4"/><line x1="1479.1" y1="212.7" x2="1484.0" y2="185.6" stroke="#e8901e" stroke-width="1.2" opacity="0.9"/><line x1="1479.1" y1="212.7" x2="1484.0" y2="185.6" stroke="#e08a14" stroke-width="2.3" stroke-linecap="round" stroke-dasharray="0.1 2.4"/><line x1="1486.2" y1="213.6" x2="1490.3" y2="186.6" stroke="#e8901e" stroke-width="1.2" opacity="0.9"/><line x1="1486.2" y1="213.6" x2="1490.3" y2="186.6" stroke="#e08a14" stroke-width="2.3" stroke-linecap="round" stroke-dasharray="0.1 2.4"/><line x1="1488.4" y1="212.7" x2="1492.5" y2="185.7" stroke="#e8901e" stroke-width="1.2" opacity="0.9"/><line x1="1488.4" y1="212.7" x2="1492.5" y2="185.7" stroke="#e08a14" stroke-width="2.3" stroke-linecap="round" stroke-dasharray="0.1 2.4"/><line x1="1495.6" y1="213.5" x2="1498.8" y2="186.7" stroke="#e8901e" stroke-width="1.2" opacity="0.9"/><line x1="1495.6" y1="213.5" x2="1498.8" y2="186.7" stroke="#e08a14" stroke-width="2.3" stroke-linecap="round" stroke-dasharray="0.1 2.4"/><line x1="1497.8" y1="212.6" x2="1501.0" y2="185.8" stroke="#e8901e" stroke-width="1.2" opacity="0.9"/><line x1="1497.8" y1="212.6" x2="1501.0" y2="185.8" stroke="#e08a14" stroke-width="2.3" stroke-linecap="round" stroke-dasharray="0.1 2.4"/><line x1="1504.9" y1="213.5" x2="1507.4" y2="186.8" stroke="#e8901e" stroke-width="1.2" opacity="0.9"/><line x1="1504.9" y1="213.5" x2="1507.4" y2="186.8" stroke="#e08a14" stroke-width="2.3" stroke-linecap="round" stroke-dasharray="0.1 2.4"/><line x1="1507.1" y1="212.6" x2="1509.6" y2="185.9" stroke="#e8901e" stroke-width="1.2" opacity="0.9"/><line x1="1507.1" y1="212.6" x2="1509.6" y2="185.9" stroke="#e08a14" stroke-width="2.3" stroke-linecap="round" stroke-dasharray="0.1 2.4"/><line x1="1514.3" y1="213.4" x2="1516.0" y2="186.9" stroke="#e8901e" stroke-width="1.2" opacity="0.9"/><line x1="1514.3" y1="213.4" x2="1516.0" y2="186.9" stroke="#e08a14" stroke-width="2.3" stroke-linecap="round" stroke-dasharray="0.1 2.4"/><line x1="1516.5" y1="212.6" x2="1518.2" y2="186.0" stroke="#e8901e" stroke-width="1.2" opacity="0.9"/><line x1="1516.5" y1="212.6" x2="1518.2" y2="186.0" stroke="#e08a14" stroke-width="2.3" stroke-linecap="round" stroke-dasharray="0.1 2.4"/><line x1="1523.6" y1="213.4" x2="1524.5" y2="186.9" stroke="#e8901e" stroke-width="1.2" opacity="0.9"/><line x1="1523.6" y1="213.4" x2="1524.5" y2="186.9" stroke="#e08a14" stroke-width="2.3" stroke-linecap="round" stroke-dasharray="0.1 2.4"/><line x1="1525.8" y1="212.5" x2="1526.7" y2="186.1" stroke="#e8901e" stroke-width="1.2" opacity="0.9"/><line x1="1525.8" y1="212.5" x2="1526.7" y2="186.1" stroke="#e08a14" stroke-width="2.3" stroke-linecap="round" stroke-dasharray="0.1 2.4"/><line x1="1532.9" y1="213.4" x2="1533.0" y2="187.0" stroke="#e8901e" stroke-width="1.2" opacity="0.9"/><line x1="1532.9" y1="213.4" x2="1533.0" y2="187.0" stroke="#e08a14" stroke-width="2.3" stroke-linecap="round" stroke-dasharray="0.1 2.4"/><line x1="1535.1" y1="212.5" x2="1535.2" y2="186.2" stroke="#e8901e" stroke-width="1.2" opacity="0.9"/><line x1="1535.1" y1="212.5" x2="1535.2" y2="186.2" stroke="#e08a14" stroke-width="2.3" stroke-linecap="round" stroke-dasharray="0.1 2.4"/><line x1="1542.3" y1="213.3" x2="1541.6" y2="187.1" stroke="#e8901e" stroke-width="1.2" opacity="0.9"/><line x1="1542.3" y1="213.3" x2="1541.6" y2="187.1" stroke="#e08a14" stroke-width="2.3" stroke-linecap="round" stroke-dasharray="0.1 2.4"/><line x1="1544.5" y1="212.4" x2="1543.8" y2="186.3" stroke="#e8901e" stroke-width="1.2" opacity="0.9"/><line x1="1544.5" y1="212.4" x2="1543.8" y2="186.3" stroke="#e08a14" stroke-width="2.3" stroke-linecap="round" stroke-dasharray="0.1 2.4"/><line x1="1551.6" y1="213.3" x2="1550.2" y2="187.2" stroke="#e8901e" stroke-width="1.2" opacity="0.9"/><line x1="1551.6" y1="213.3" x2="1550.2" y2="187.2" stroke="#e08a14" stroke-width="2.3" stroke-linecap="round" stroke-dasharray="0.1 2.4"/><line x1="1553.8" y1="212.4" x2="1552.4" y2="186.4" stroke="#e8901e" stroke-width="1.2" opacity="0.9"/><line x1="1553.8" y1="212.4" x2="1552.4" y2="186.4" stroke="#e08a14" stroke-width="2.3" stroke-linecap="round" stroke-dasharray="0.1 2.4"/><line x1="1561.0" y1="213.2" x2="1558.7" y2="187.3" stroke="#e8901e" stroke-width="1.2" opacity="0.9"/><line x1="1561.0" y1="213.2" x2="1558.7" y2="187.3" stroke="#e08a14" stroke-width="2.3" stroke-linecap="round" stroke-dasharray="0.1 2.4"/><line x1="1563.2" y1="212.4" x2="1560.9" y2="186.5" stroke="#e8901e" stroke-width="1.2" opacity="0.9"/><line x1="1563.2" y1="212.4" x2="1560.9" y2="186.5" stroke="#e08a14" stroke-width="2.3" stroke-linecap="round" stroke-dasharray="0.1 2.4"/><line x1="1570.3" y1="213.2" x2="1567.2" y2="187.4" stroke="#e8901e" stroke-width="1.2" opacity="0.9"/><line x1="1570.3" y1="213.2" x2="1567.2" y2="187.4" stroke="#e08a14" stroke-width="2.3" stroke-linecap="round" stroke-dasharray="0.1 2.4"/><line x1="1572.5" y1="212.3" x2="1569.5" y2="186.5" stroke="#e8901e" stroke-width="1.2" opacity="0.9"/><line x1="1572.5" y1="212.3" x2="1569.5" y2="186.5" stroke="#e08a14" stroke-width="2.3" stroke-linecap="round" stroke-dasharray="0.1 2.4"/><line x1="1579.6" y1="213.2" x2="1575.8" y2="187.5" stroke="#e8901e" stroke-width="1.2" opacity="0.9"/><line x1="1579.6" y1="213.2" x2="1575.8" y2="187.5" stroke="#e08a14" stroke-width="2.3" stroke-linecap="round" stroke-dasharray="0.1 2.4"/><line x1="1581.8" y1="212.3" x2="1578.0" y2="186.6" stroke="#e8901e" stroke-width="1.2" opacity="0.9"/><line x1="1581.8" y1="212.3" x2="1578.0" y2="186.6" stroke="#e08a14" stroke-width="2.3" stroke-linecap="round" stroke-dasharray="0.1 2.4"/><line x1="1589.0" y1="213.1" x2="1584.3" y2="187.6" stroke="#e8901e" stroke-width="1.2" opacity="0.9"/><line x1="1589.0" y1="213.1" x2="1584.3" y2="187.6" stroke="#e08a14" stroke-width="2.3" stroke-linecap="round" stroke-dasharray="0.1 2.4"/><line x1="1591.2" y1="212.2" x2="1586.5" y2="186.7" stroke="#e8901e" stroke-width="1.2" opacity="0.9"/><line x1="1591.2" y1="212.2" x2="1586.5" y2="186.7" stroke="#e08a14" stroke-width="2.3" stroke-linecap="round" stroke-dasharray="0.1 2.4"/><line x1="1598.3" y1="213.1" x2="1592.9" y2="187.7" stroke="#e8901e" stroke-width="1.2" opacity="0.9"/><line x1="1598.3" y1="213.1" x2="1592.9" y2="187.7" stroke="#e08a14" stroke-width="2.3" stroke-linecap="round" stroke-dasharray="0.1 2.4"/><line x1="1600.5" y1="212.2" x2="1595.1" y2="186.8" stroke="#e8901e" stroke-width="1.2" opacity="0.9"/><line x1="1600.5" y1="212.2" x2="1595.1" y2="186.8" stroke="#e08a14" stroke-width="2.3" stroke-linecap="round" stroke-dasharray="0.1 2.4"/><line x1="1607.7" y1="213.0" x2="1601.5" y2="187.8" stroke="#e8901e" stroke-width="1.2" opacity="0.9"/><line x1="1607.7" y1="213.0" x2="1601.5" y2="187.8" stroke="#e08a14" stroke-width="2.3" stroke-linecap="round" stroke-dasharray="0.1 2.4"/><line x1="1609.9" y1="212.2" x2="1603.7" y2="186.9" stroke="#e8901e" stroke-width="1.2" opacity="0.9"/><line x1="1609.9" y1="212.2" x2="1603.7" y2="186.9" stroke="#e08a14" stroke-width="2.3" stroke-linecap="round" stroke-dasharray="0.1 2.4"/><line x1="1617.0" y1="213.0" x2="1610.0" y2="187.9" stroke="#e8901e" stroke-width="1.2" opacity="0.9"/><line x1="1617.0" y1="213.0" x2="1610.0" y2="187.9" stroke="#e08a14" stroke-width="2.3" stroke-linecap="round" stroke-dasharray="0.1 2.4"/><line x1="1619.2" y1="212.1" x2="1612.2" y2="187.0" stroke="#e8901e" stroke-width="1.2" opacity="0.9"/><line x1="1619.2" y1="212.1" x2="1612.2" y2="187.0" stroke="#e08a14" stroke-width="2.3" stroke-linecap="round" stroke-dasharray="0.1 2.4"/>
<ellipse cx="1560" cy="202" rx="21" ry="14" fill="#f4a27a" opacity="0.7"/>
<text x="1560" y="207" font-size="13" font-family="'Liberation Sans','DejaVu Sans',sans-serif" fill="#8a4a28" text-anchor="middle">e h</text>
<line x1="1554.0" y1="119.5" x2="1554.0" y2="177.4" stroke="#3c6428" stroke-width="1.8" /><polygon points="1550.4,175.9 1557.6,175.9 1554.0,183.4" fill="#3c6428"/>
<line x1="1567.0" y1="181.0" x2="1567.0" y2="125.5" stroke="#9a3838" stroke-width="1.8" /><polygon points="1563.4,127.0 1570.6,127.0 1567.0,119.5" fill="#9a3838"/>
<polygon points="1469.7,473.7 1652.3,473.7 1647.5,455.0 1476.0,455.0" fill="#3a5ee8" opacity="0.7"/><line x1="1468.8" y1="476.4" x2="1478.0" y2="449.0" stroke="#e8901e" stroke-width="1.2" opacity="0.9"/><line x1="1468.8" y1="476.4" x2="1478.0" y2="449.0" stroke="#e08a14" stroke-width="2.3" stroke-linecap="round" stroke-dasharray="0.1 2.4"/><line x1="1471.0" y1="475.5" x2="1480.2" y2="448.1" stroke="#e8901e" stroke-width="1.2" opacity="0.9"/><line x1="1471.0" y1="475.5" x2="1480.2" y2="448.1" stroke="#e08a14" stroke-width="2.3" stroke-linecap="round" stroke-dasharray="0.1 2.4"/><line x1="1478.0" y1="476.4" x2="1486.4" y2="449.0" stroke="#e8901e" stroke-width="1.2" opacity="0.9"/><line x1="1478.0" y1="476.4" x2="1486.4" y2="449.0" stroke="#e08a14" stroke-width="2.3" stroke-linecap="round" stroke-dasharray="0.1 2.4"/><line x1="1480.2" y1="475.5" x2="1488.6" y2="448.1" stroke="#e8901e" stroke-width="1.2" opacity="0.9"/><line x1="1480.2" y1="475.5" x2="1488.6" y2="448.1" stroke="#e08a14" stroke-width="2.3" stroke-linecap="round" stroke-dasharray="0.1 2.4"/><line x1="1487.2" y1="476.4" x2="1494.8" y2="449.0" stroke="#e8901e" stroke-width="1.2" opacity="0.9"/><line x1="1487.2" y1="476.4" x2="1494.8" y2="449.0" stroke="#e08a14" stroke-width="2.3" stroke-linecap="round" stroke-dasharray="0.1 2.4"/><line x1="1489.4" y1="475.5" x2="1497.0" y2="448.1" stroke="#e8901e" stroke-width="1.2" opacity="0.9"/><line x1="1489.4" y1="475.5" x2="1497.0" y2="448.1" stroke="#e08a14" stroke-width="2.3" stroke-linecap="round" stroke-dasharray="0.1 2.4"/><line x1="1496.4" y1="476.4" x2="1503.2" y2="449.0" stroke="#e8901e" stroke-width="1.2" opacity="0.9"/><line x1="1496.4" y1="476.4" x2="1503.2" y2="449.0" stroke="#e08a14" stroke-width="2.3" stroke-linecap="round" stroke-dasharray="0.1 2.4"/><line x1="1498.6" y1="475.5" x2="1505.4" y2="448.1" stroke="#e8901e" stroke-width="1.2" opacity="0.9"/><line x1="1498.6" y1="475.5" x2="1505.4" y2="448.1" stroke="#e08a14" stroke-width="2.3" stroke-linecap="round" stroke-dasharray="0.1 2.4"/><line x1="1505.6" y1="476.4" x2="1511.6" y2="449.0" stroke="#e8901e" stroke-width="1.2" opacity="0.9"/><line x1="1505.6" y1="476.4" x2="1511.6" y2="449.0" stroke="#e08a14" stroke-width="2.3" stroke-linecap="round" stroke-dasharray="0.1 2.4"/><line x1="1507.8" y1="475.5" x2="1513.8" y2="448.1" stroke="#e8901e" stroke-width="1.2" opacity="0.9"/><line x1="1507.8" y1="475.5" x2="1513.8" y2="448.1" stroke="#e08a14" stroke-width="2.3" stroke-linecap="round" stroke-dasharray="0.1 2.4"/><line x1="1514.8" y1="476.4" x2="1520.0" y2="449.0" stroke="#e8901e" stroke-width="1.2" opacity="0.9"/><line x1="1514.8" y1="476.4" x2="1520.0" y2="449.0" stroke="#e08a14" stroke-width="2.3" stroke-linecap="round" stroke-dasharray="0.1 2.4"/><line x1="1517.0" y1="475.5" x2="1522.2" y2="448.1" stroke="#e8901e" stroke-width="1.2" opacity="0.9"/><line x1="1517.0" y1="475.5" x2="1522.2" y2="448.1" stroke="#e08a14" stroke-width="2.3" stroke-linecap="round" stroke-dasharray="0.1 2.4"/><line x1="1524.1" y1="476.4" x2="1528.4" y2="449.0" stroke="#e8901e" stroke-width="1.2" opacity="0.9"/><line x1="1524.1" y1="476.4" x2="1528.4" y2="449.0" stroke="#e08a14" stroke-width="2.3" stroke-linecap="round" stroke-dasharray="0.1 2.4"/><line x1="1526.3" y1="475.5" x2="1530.6" y2="448.1" stroke="#e8901e" stroke-width="1.2" opacity="0.9"/><line x1="1526.3" y1="475.5" x2="1530.6" y2="448.1" stroke="#e08a14" stroke-width="2.3" stroke-linecap="round" stroke-dasharray="0.1 2.4"/><line x1="1533.3" y1="476.4" x2="1536.8" y2="449.0" stroke="#e8901e" stroke-width="1.2" opacity="0.9"/><line x1="1533.3" y1="476.4" x2="1536.8" y2="449.0" stroke="#e08a14" stroke-width="2.3" stroke-linecap="round" stroke-dasharray="0.1 2.4"/><line x1="1535.5" y1="475.5" x2="1539.0" y2="448.1" stroke="#e8901e" stroke-width="1.2" opacity="0.9"/><line x1="1535.5" y1="475.5" x2="1539.0" y2="448.1" stroke="#e08a14" stroke-width="2.3" stroke-linecap="round" stroke-dasharray="0.1 2.4"/><line x1="1542.5" y1="476.4" x2="1545.2" y2="449.0" stroke="#e8901e" stroke-width="1.2" opacity="0.9"/><line x1="1542.5" y1="476.4" x2="1545.2" y2="449.0" stroke="#e08a14" stroke-width="2.3" stroke-linecap="round" stroke-dasharray="0.1 2.4"/><line x1="1544.7" y1="475.5" x2="1547.4" y2="448.1" stroke="#e8901e" stroke-width="1.2" opacity="0.9"/><line x1="1544.7" y1="475.5" x2="1547.4" y2="448.1" stroke="#e08a14" stroke-width="2.3" stroke-linecap="round" stroke-dasharray="0.1 2.4"/><line x1="1551.7" y1="476.4" x2="1553.6" y2="449.0" stroke="#e8901e" stroke-width="1.2" opacity="0.9"/><line x1="1551.7" y1="476.4" x2="1553.6" y2="449.0" stroke="#e08a14" stroke-width="2.3" stroke-linecap="round" stroke-dasharray="0.1 2.4"/><line x1="1553.9" y1="475.5" x2="1555.8" y2="448.1" stroke="#e8901e" stroke-width="1.2" opacity="0.9"/><line x1="1553.9" y1="475.5" x2="1555.8" y2="448.1" stroke="#e08a14" stroke-width="2.3" stroke-linecap="round" stroke-dasharray="0.1 2.4"/><line x1="1560.9" y1="476.4" x2="1562.0" y2="449.0" stroke="#e8901e" stroke-width="1.2" opacity="0.9"/><line x1="1560.9" y1="476.4" x2="1562.0" y2="449.0" stroke="#e08a14" stroke-width="2.3" stroke-linecap="round" stroke-dasharray="0.1 2.4"/><line x1="1563.1" y1="475.5" x2="1564.2" y2="448.1" stroke="#e8901e" stroke-width="1.2" opacity="0.9"/><line x1="1563.1" y1="475.5" x2="1564.2" y2="448.1" stroke="#e08a14" stroke-width="2.3" stroke-linecap="round" stroke-dasharray="0.1 2.4"/><line x1="1570.1" y1="476.4" x2="1570.4" y2="449.0" stroke="#e8901e" stroke-width="1.2" opacity="0.9"/><line x1="1570.1" y1="476.4" x2="1570.4" y2="449.0" stroke="#e08a14" stroke-width="2.3" stroke-linecap="round" stroke-dasharray="0.1 2.4"/><line x1="1572.3" y1="475.5" x2="1572.6" y2="448.1" stroke="#e8901e" stroke-width="1.2" opacity="0.9"/><line x1="1572.3" y1="475.5" x2="1572.6" y2="448.1" stroke="#e08a14" stroke-width="2.3" stroke-linecap="round" stroke-dasharray="0.1 2.4"/><line x1="1579.3" y1="476.4" x2="1578.8" y2="449.0" stroke="#e8901e" stroke-width="1.2" opacity="0.9"/><line x1="1579.3" y1="476.4" x2="1578.8" y2="449.0" stroke="#e08a14" stroke-width="2.3" stroke-linecap="round" stroke-dasharray="0.1 2.4"/><line x1="1581.5" y1="475.5" x2="1581.0" y2="448.1" stroke="#e8901e" stroke-width="1.2" opacity="0.9"/><line x1="1581.5" y1="475.5" x2="1581.0" y2="448.1" stroke="#e08a14" stroke-width="2.3" stroke-linecap="round" stroke-dasharray="0.1 2.4"/><line x1="1588.5" y1="476.4" x2="1587.2" y2="449.0" stroke="#e8901e" stroke-width="1.2" opacity="0.9"/><line x1="1588.5" y1="476.4" x2="1587.2" y2="449.0" stroke="#e08a14" stroke-width="2.3" stroke-linecap="round" stroke-dasharray="0.1 2.4"/><line x1="1590.7" y1="475.5" x2="1589.4" y2="448.1" stroke="#e8901e" stroke-width="1.2" opacity="0.9"/><line x1="1590.7" y1="475.5" x2="1589.4" y2="448.1" stroke="#e08a14" stroke-width="2.3" stroke-linecap="round" stroke-dasharray="0.1 2.4"/><line x1="1597.7" y1="476.4" x2="1595.6" y2="449.0" stroke="#e8901e" stroke-width="1.2" opacity="0.9"/><line x1="1597.7" y1="476.4" x2="1595.6" y2="449.0" stroke="#e08a14" stroke-width="2.3" stroke-linecap="round" stroke-dasharray="0.1 2.4"/><line x1="1599.9" y1="475.5" x2="1597.8" y2="448.1" stroke="#e8901e" stroke-width="1.2" opacity="0.9"/><line x1="1599.9" y1="475.5" x2="1597.8" y2="448.1" stroke="#e08a14" stroke-width="2.3" stroke-linecap="round" stroke-dasharray="0.1 2.4"/><line x1="1607.0" y1="476.4" x2="1604.0" y2="449.0" stroke="#e8901e" stroke-width="1.2" opacity="0.9"/><line x1="1607.0" y1="476.4" x2="1604.0" y2="449.0" stroke="#e08a14" stroke-width="2.3" stroke-linecap="round" stroke-dasharray="0.1 2.4"/><line x1="1609.2" y1="475.5" x2="1606.2" y2="448.1" stroke="#e8901e" stroke-width="1.2" opacity="0.9"/><line x1="1609.2" y1="475.5" x2="1606.2" y2="448.1" stroke="#e08a14" stroke-width="2.3" stroke-linecap="round" stroke-dasharray="0.1 2.4"/><line x1="1616.2" y1="476.4" x2="1612.4" y2="449.0" stroke="#e8901e" stroke-width="1.2" opacity="0.9"/><line x1="1616.2" y1="476.4" x2="1612.4" y2="449.0" stroke="#e08a14" stroke-width="2.3" stroke-linecap="round" stroke-dasharray="0.1 2.4"/><line x1="1618.4" y1="475.5" x2="1614.6" y2="448.1" stroke="#e8901e" stroke-width="1.2" opacity="0.9"/><line x1="1618.4" y1="475.5" x2="1614.6" y2="448.1" stroke="#e08a14" stroke-width="2.3" stroke-linecap="round" stroke-dasharray="0.1 2.4"/><line x1="1625.4" y1="476.4" x2="1620.8" y2="449.0" stroke="#e8901e" stroke-width="1.2" opacity="0.9"/><line x1="1625.4" y1="476.4" x2="1620.8" y2="449.0" stroke="#e08a14" stroke-width="2.3" stroke-linecap="round" stroke-dasharray="0.1 2.4"/><line x1="1627.6" y1="475.5" x2="1623.0" y2="448.1" stroke="#e8901e" stroke-width="1.2" opacity="0.9"/><line x1="1627.6" y1="475.5" x2="1623.0" y2="448.1" stroke="#e08a14" stroke-width="2.3" stroke-linecap="round" stroke-dasharray="0.1 2.4"/><line x1="1634.6" y1="476.4" x2="1629.2" y2="449.0" stroke="#e8901e" stroke-width="1.2" opacity="0.9"/><line x1="1634.6" y1="476.4" x2="1629.2" y2="449.0" stroke="#e08a14" stroke-width="2.3" stroke-linecap="round" stroke-dasharray="0.1 2.4"/><line x1="1636.8" y1="475.5" x2="1631.4" y2="448.1" stroke="#e8901e" stroke-width="1.2" opacity="0.9"/><line x1="1636.8" y1="475.5" x2="1631.4" y2="448.1" stroke="#e08a14" stroke-width="2.3" stroke-linecap="round" stroke-dasharray="0.1 2.4"/><line x1="1643.8" y1="476.4" x2="1637.6" y2="449.0" stroke="#e8901e" stroke-width="1.2" opacity="0.9"/><line x1="1643.8" y1="476.4" x2="1637.6" y2="449.0" stroke="#e08a14" stroke-width="2.3" stroke-linecap="round" stroke-dasharray="0.1 2.4"/><line x1="1646.0" y1="475.5" x2="1639.8" y2="448.1" stroke="#e8901e" stroke-width="1.2" opacity="0.9"/><line x1="1646.0" y1="475.5" x2="1639.8" y2="448.1" stroke="#e08a14" stroke-width="2.3" stroke-linecap="round" stroke-dasharray="0.1 2.4"/><line x1="1653.0" y1="476.4" x2="1646.0" y2="449.0" stroke="#e8901e" stroke-width="1.2" opacity="0.9"/><line x1="1653.0" y1="476.4" x2="1646.0" y2="449.0" stroke="#e08a14" stroke-width="2.3" stroke-linecap="round" stroke-dasharray="0.1 2.4"/><line x1="1655.2" y1="475.5" x2="1648.2" y2="448.1" stroke="#e8901e" stroke-width="1.2" opacity="0.9"/><line x1="1655.2" y1="475.5" x2="1648.2" y2="448.1" stroke="#e08a14" stroke-width="2.3" stroke-linecap="round" stroke-dasharray="0.1 2.4"/>
<polygon points="1471.5,439.3 1647.3,439.3 1642.5,420.9 1477.9,420.9" fill="#22b040" opacity="0.7"/><line x1="1470.5" y1="442.0" x2="1480.0" y2="414.9" stroke="#e8901e" stroke-width="1.2" opacity="0.9"/><line x1="1470.5" y1="442.0" x2="1480.0" y2="414.9" stroke="#e08a14" stroke-width="2.3" stroke-linecap="round" stroke-dasharray="0.1 2.4"/><line x1="1472.7" y1="441.1" x2="1482.2" y2="414.0" stroke="#e8901e" stroke-width="1.2" opacity="0.9"/><line x1="1472.7" y1="441.1" x2="1482.2" y2="414.0" stroke="#e08a14" stroke-width="2.3" stroke-linecap="round" stroke-dasharray="0.1 2.4"/><line x1="1479.4" y1="442.0" x2="1488.0" y2="414.9" stroke="#e8901e" stroke-width="1.2" opacity="0.9"/><line x1="1479.4" y1="442.0" x2="1488.0" y2="414.9" stroke="#e08a14" stroke-width="2.3" stroke-linecap="round" stroke-dasharray="0.1 2.4"/><line x1="1481.6" y1="441.1" x2="1490.2" y2="414.0" stroke="#e8901e" stroke-width="1.2" opacity="0.9"/><line x1="1481.6" y1="441.1" x2="1490.2" y2="414.0" stroke="#e08a14" stroke-width="2.3" stroke-linecap="round" stroke-dasharray="0.1 2.4"/><line x1="1488.2" y1="442.0" x2="1496.1" y2="414.9" stroke="#e8901e" stroke-width="1.2" opacity="0.9"/><line x1="1488.2" y1="442.0" x2="1496.1" y2="414.9" stroke="#e08a14" stroke-width="2.3" stroke-linecap="round" stroke-dasharray="0.1 2.4"/><line x1="1490.5" y1="441.1" x2="1498.3" y2="414.0" stroke="#e8901e" stroke-width="1.2" opacity="0.9"/><line x1="1490.5" y1="441.1" x2="1498.3" y2="414.0" stroke="#e08a14" stroke-width="2.3" stroke-linecap="round" stroke-dasharray="0.1 2.4"/><line x1="1497.1" y1="442.0" x2="1504.2" y2="414.9" stroke="#e8901e" stroke-width="1.2" opacity="0.9"/><line x1="1497.1" y1="442.0" x2="1504.2" y2="414.9" stroke="#e08a14" stroke-width="2.3" stroke-linecap="round" stroke-dasharray="0.1 2.4"/><line x1="1499.3" y1="441.1" x2="1506.4" y2="414.0" stroke="#e8901e" stroke-width="1.2" opacity="0.9"/><line x1="1499.3" y1="441.1" x2="1506.4" y2="414.0" stroke="#e08a14" stroke-width="2.3" stroke-linecap="round" stroke-dasharray="0.1 2.4"/><line x1="1506.0" y1="442.0" x2="1512.2" y2="414.9" stroke="#e8901e" stroke-width="1.2" opacity="0.9"/><line x1="1506.0" y1="442.0" x2="1512.2" y2="414.9" stroke="#e08a14" stroke-width="2.3" stroke-linecap="round" stroke-dasharray="0.1 2.4"/><line x1="1508.2" y1="441.1" x2="1514.4" y2="414.0" stroke="#e8901e" stroke-width="1.2" opacity="0.9"/><line x1="1508.2" y1="441.1" x2="1514.4" y2="414.0" stroke="#e08a14" stroke-width="2.3" stroke-linecap="round" stroke-dasharray="0.1 2.4"/><line x1="1514.9" y1="442.0" x2="1520.2" y2="414.9" stroke="#e8901e" stroke-width="1.2" opacity="0.9"/><line x1="1514.9" y1="442.0" x2="1520.2" y2="414.9" stroke="#e08a14" stroke-width="2.3" stroke-linecap="round" stroke-dasharray="0.1 2.4"/><line x1="1517.1" y1="441.1" x2="1522.5" y2="414.0" stroke="#e8901e" stroke-width="1.2" opacity="0.9"/><line x1="1517.1" y1="441.1" x2="1522.5" y2="414.0" stroke="#e08a14" stroke-width="2.3" stroke-linecap="round" stroke-dasharray="0.1 2.4"/><line x1="1523.8" y1="442.0" x2="1528.3" y2="414.9" stroke="#e8901e" stroke-width="1.2" opacity="0.9"/><line x1="1523.8" y1="442.0" x2="1528.3" y2="414.9" stroke="#e08a14" stroke-width="2.3" stroke-linecap="round" stroke-dasharray="0.1 2.4"/><line x1="1526.0" y1="441.1" x2="1530.5" y2="414.0" stroke="#e8901e" stroke-width="1.2" opacity="0.9"/><line x1="1526.0" y1="441.1" x2="1530.5" y2="414.0" stroke="#e08a14" stroke-width="2.3" stroke-linecap="round" stroke-dasharray="0.1 2.4"/><line x1="1532.6" y1="442.0" x2="1536.3" y2="414.9" stroke="#e8901e" stroke-width="1.2" opacity="0.9"/><line x1="1532.6" y1="442.0" x2="1536.3" y2="414.9" stroke="#e08a14" stroke-width="2.3" stroke-linecap="round" stroke-dasharray="0.1 2.4"/><line x1="1534.8" y1="441.1" x2="1538.5" y2="414.0" stroke="#e8901e" stroke-width="1.2" opacity="0.9"/><line x1="1534.8" y1="441.1" x2="1538.5" y2="414.0" stroke="#e08a14" stroke-width="2.3" stroke-linecap="round" stroke-dasharray="0.1 2.4"/><line x1="1541.5" y1="442.0" x2="1544.4" y2="414.9" stroke="#e8901e" stroke-width="1.2" opacity="0.9"/><line x1="1541.5" y1="442.0" x2="1544.4" y2="414.9" stroke="#e08a14" stroke-width="2.3" stroke-linecap="round" stroke-dasharray="0.1 2.4"/><line x1="1543.7" y1="441.1" x2="1546.6" y2="414.0" stroke="#e8901e" stroke-width="1.2" opacity="0.9"/><line x1="1543.7" y1="441.1" x2="1546.6" y2="414.0" stroke="#e08a14" stroke-width="2.3" stroke-linecap="round" stroke-dasharray="0.1 2.4"/><line x1="1550.4" y1="442.0" x2="1552.5" y2="414.9" stroke="#e8901e" stroke-width="1.2" opacity="0.9"/><line x1="1550.4" y1="442.0" x2="1552.5" y2="414.9" stroke="#e08a14" stroke-width="2.3" stroke-linecap="round" stroke-dasharray="0.1 2.4"/><line x1="1552.6" y1="441.1" x2="1554.7" y2="414.0" stroke="#e8901e" stroke-width="1.2" opacity="0.9"/><line x1="1552.6" y1="441.1" x2="1554.7" y2="414.0" stroke="#e08a14" stroke-width="2.3" stroke-linecap="round" stroke-dasharray="0.1 2.4"/><line x1="1559.2" y1="442.0" x2="1560.5" y2="414.9" stroke="#e8901e" stroke-width="1.2" opacity="0.9"/><line x1="1559.2" y1="442.0" x2="1560.5" y2="414.9" stroke="#e08a14" stroke-width="2.3" stroke-linecap="round" stroke-dasharray="0.1 2.4"/><line x1="1561.5" y1="441.1" x2="1562.7" y2="414.0" stroke="#e8901e" stroke-width="1.2" opacity="0.9"/><line x1="1561.5" y1="441.1" x2="1562.7" y2="414.0" stroke="#e08a14" stroke-width="2.3" stroke-linecap="round" stroke-dasharray="0.1 2.4"/><line x1="1568.1" y1="442.0" x2="1568.5" y2="414.9" stroke="#e8901e" stroke-width="1.2" opacity="0.9"/><line x1="1568.1" y1="442.0" x2="1568.5" y2="414.9" stroke="#e08a14" stroke-width="2.3" stroke-linecap="round" stroke-dasharray="0.1 2.4"/><line x1="1570.3" y1="441.1" x2="1570.8" y2="414.0" stroke="#e8901e" stroke-width="1.2" opacity="0.9"/><line x1="1570.3" y1="441.1" x2="1570.8" y2="414.0" stroke="#e08a14" stroke-width="2.3" stroke-linecap="round" stroke-dasharray="0.1 2.4"/><line x1="1577.0" y1="442.0" x2="1576.6" y2="414.9" stroke="#e8901e" stroke-width="1.2" opacity="0.9"/><line x1="1577.0" y1="442.0" x2="1576.6" y2="414.9" stroke="#e08a14" stroke-width="2.3" stroke-linecap="round" stroke-dasharray="0.1 2.4"/><line x1="1579.2" y1="441.1" x2="1578.8" y2="414.0" stroke="#e8901e" stroke-width="1.2" opacity="0.9"/><line x1="1579.2" y1="441.1" x2="1578.8" y2="414.0" stroke="#e08a14" stroke-width="2.3" stroke-linecap="round" stroke-dasharray="0.1 2.4"/><line x1="1585.9" y1="442.0" x2="1584.7" y2="414.9" stroke="#e8901e" stroke-width="1.2" opacity="0.9"/><line x1="1585.9" y1="442.0" x2="1584.7" y2="414.9" stroke="#e08a14" stroke-width="2.3" stroke-linecap="round" stroke-dasharray="0.1 2.4"/><line x1="1588.1" y1="441.1" x2="1586.9" y2="414.0" stroke="#e8901e" stroke-width="1.2" opacity="0.9"/><line x1="1588.1" y1="441.1" x2="1586.9" y2="414.0" stroke="#e08a14" stroke-width="2.3" stroke-linecap="round" stroke-dasharray="0.1 2.4"/><line x1="1594.8" y1="442.0" x2="1592.7" y2="414.9" stroke="#e8901e" stroke-width="1.2" opacity="0.9"/><line x1="1594.8" y1="442.0" x2="1592.7" y2="414.9" stroke="#e08a14" stroke-width="2.3" stroke-linecap="round" stroke-dasharray="0.1 2.4"/><line x1="1597.0" y1="441.1" x2="1594.9" y2="414.0" stroke="#e8901e" stroke-width="1.2" opacity="0.9"/><line x1="1597.0" y1="441.1" x2="1594.9" y2="414.0" stroke="#e08a14" stroke-width="2.3" stroke-linecap="round" stroke-dasharray="0.1 2.4"/><line x1="1603.6" y1="442.0" x2="1600.8" y2="414.9" stroke="#e8901e" stroke-width="1.2" opacity="0.9"/><line x1="1603.6" y1="442.0" x2="1600.8" y2="414.9" stroke="#e08a14" stroke-width="2.3" stroke-linecap="round" stroke-dasharray="0.1 2.4"/><line x1="1605.8" y1="441.1" x2="1603.0" y2="414.0" stroke="#e8901e" stroke-width="1.2" opacity="0.9"/><line x1="1605.8" y1="441.1" x2="1603.0" y2="414.0" stroke="#e08a14" stroke-width="2.3" stroke-linecap="round" stroke-dasharray="0.1 2.4"/><line x1="1612.5" y1="442.0" x2="1608.8" y2="414.9" stroke="#e8901e" stroke-width="1.2" opacity="0.9"/><line x1="1612.5" y1="442.0" x2="1608.8" y2="414.9" stroke="#e08a14" stroke-width="2.3" stroke-linecap="round" stroke-dasharray="0.1 2.4"/><line x1="1614.7" y1="441.1" x2="1611.0" y2="414.0" stroke="#e8901e" stroke-width="1.2" opacity="0.9"/><line x1="1614.7" y1="441.1" x2="1611.0" y2="414.0" stroke="#e08a14" stroke-width="2.3" stroke-linecap="round" stroke-dasharray="0.1 2.4"/><line x1="1621.4" y1="442.0" x2="1616.8" y2="414.9" stroke="#e8901e" stroke-width="1.2" opacity="0.9"/><line x1="1621.4" y1="442.0" x2="1616.8" y2="414.9" stroke="#e08a14" stroke-width="2.3" stroke-linecap="round" stroke-dasharray="0.1 2.4"/><line x1="1623.6" y1="441.1" x2="1619.0" y2="414.0" stroke="#e8901e" stroke-width="1.2" opacity="0.9"/><line x1="1623.6" y1="441.1" x2="1619.0" y2="414.0" stroke="#e08a14" stroke-width="2.3" stroke-linecap="round" stroke-dasharray="0.1 2.4"/><line x1="1630.2" y1="442.0" x2="1624.9" y2="414.9" stroke="#e8901e" stroke-width="1.2" opacity="0.9"/><line x1="1630.2" y1="442.0" x2="1624.9" y2="414.9" stroke="#e08a14" stroke-width="2.3" stroke-linecap="round" stroke-dasharray="0.1 2.4"/><line x1="1632.5" y1="441.1" x2="1627.1" y2="414.0" stroke="#e8901e" stroke-width="1.2" opacity="0.9"/><line x1="1632.5" y1="441.1" x2="1627.1" y2="414.0" stroke="#e08a14" stroke-width="2.3" stroke-linecap="round" stroke-dasharray="0.1 2.4"/><line x1="1639.1" y1="442.0" x2="1633.0" y2="414.9" stroke="#e8901e" stroke-width="1.2" opacity="0.9"/><line x1="1639.1" y1="442.0" x2="1633.0" y2="414.9" stroke="#e08a14" stroke-width="2.3" stroke-linecap="round" stroke-dasharray="0.1 2.4"/><line x1="1641.3" y1="441.1" x2="1635.2" y2="414.0" stroke="#e8901e" stroke-width="1.2" opacity="0.9"/><line x1="1641.3" y1="441.1" x2="1635.2" y2="414.0" stroke="#e08a14" stroke-width="2.3" stroke-linecap="round" stroke-dasharray="0.1 2.4"/><line x1="1648.0" y1="442.0" x2="1641.0" y2="414.9" stroke="#e8901e" stroke-width="1.2" opacity="0.9"/><line x1="1648.0" y1="442.0" x2="1641.0" y2="414.9" stroke="#e08a14" stroke-width="2.3" stroke-linecap="round" stroke-dasharray="0.1 2.4"/><line x1="1650.2" y1="441.1" x2="1643.2" y2="414.0" stroke="#e8901e" stroke-width="1.2" opacity="0.9"/><line x1="1650.2" y1="441.1" x2="1643.2" y2="414.0" stroke="#e08a14" stroke-width="2.3" stroke-linecap="round" stroke-dasharray="0.1 2.4"/>
<ellipse cx="1558.4" cy="444" rx="16" ry="26" fill="#f4a27a" opacity="0.65"/>
<text x="1558.4" y="436" font-size="12" font-family="'Liberation Sans','DejaVu Sans',sans-serif" fill="#8a4a28" text-anchor="middle">h</text>
<text x="1558.4" y="456" font-size="12" font-family="'Liberation Sans','DejaVu Sans',sans-serif" fill="#8a4a28" text-anchor="middle">e</text>
<line x1="1549.0" y1="353.0" x2="1549.0" y2="409.0" stroke="#3c6428" stroke-width="1.8" /><polygon points="1545.4,407.5 1552.6,407.5 1549.0,415.0" fill="#3c6428"/>
<line x1="1566.5" y1="415.0" x2="1566.5" y2="359.0" stroke="#e07820" stroke-width="1.8" /><polygon points="1562.9,360.5 1570.1,360.5 1566.5,353.0" fill="#e07820"/>
<polygon points="1314.9,837.0 1510.3,837.0 1505.5,816.8 1321.0,816.8" fill="#3a5ee8" opacity="0.7"/><line x1="1314.0" y1="840.0" x2="1323.0" y2="810.3" stroke="#e8901e" stroke-width="1.2" opacity="0.9"/><line x1="1314.0" y1="840.0" x2="1323.0" y2="810.3" stroke="#e08a14" stroke-width="2.3" stroke-linecap="round" stroke-dasharray="0.1 2.4"/><line x1="1316.2" y1="839.1" x2="1325.2" y2="809.4" stroke="#e8901e" stroke-width="1.2" opacity="0.9"/><line x1="1316.2" y1="839.1" x2="1325.2" y2="809.4" stroke="#e08a14" stroke-width="2.3" stroke-linecap="round" stroke-dasharray="0.1 2.4"/><line x1="1323.8" y1="840.0" x2="1332.0" y2="810.3" stroke="#e8901e" stroke-width="1.2" opacity="0.9"/><line x1="1323.8" y1="840.0" x2="1332.0" y2="810.3" stroke="#e08a14" stroke-width="2.3" stroke-linecap="round" stroke-dasharray="0.1 2.4"/><line x1="1326.0" y1="839.1" x2="1334.2" y2="809.4" stroke="#e8901e" stroke-width="1.2" opacity="0.9"/><line x1="1326.0" y1="839.1" x2="1334.2" y2="809.4" stroke="#e08a14" stroke-width="2.3" stroke-linecap="round" stroke-dasharray="0.1 2.4"/><line x1="1333.7" y1="840.0" x2="1341.1" y2="810.3" stroke="#e8901e" stroke-width="1.2" opacity="0.9"/><line x1="1333.7" y1="840.0" x2="1341.1" y2="810.3" stroke="#e08a14" stroke-width="2.3" stroke-linecap="round" stroke-dasharray="0.1 2.4"/><line x1="1335.9" y1="839.1" x2="1343.3" y2="809.4" stroke="#e8901e" stroke-width="1.2" opacity="0.9"/><line x1="1335.9" y1="839.1" x2="1343.3" y2="809.4" stroke="#e08a14" stroke-width="2.3" stroke-linecap="round" stroke-dasharray="0.1 2.4"/><line x1="1343.5" y1="840.0" x2="1350.2" y2="810.3" stroke="#e8901e" stroke-width="1.2" opacity="0.9"/><line x1="1343.5" y1="840.0" x2="1350.2" y2="810.3" stroke="#e08a14" stroke-width="2.3" stroke-linecap="round" stroke-dasharray="0.1 2.4"/><line x1="1345.8" y1="839.1" x2="1352.4" y2="809.4" stroke="#e8901e" stroke-width="1.2" opacity="0.9"/><line x1="1345.8" y1="839.1" x2="1352.4" y2="809.4" stroke="#e08a14" stroke-width="2.3" stroke-linecap="round" stroke-dasharray="0.1 2.4"/><line x1="1353.4" y1="840.0" x2="1359.2" y2="810.3" stroke="#e8901e" stroke-width="1.2" opacity="0.9"/><line x1="1353.4" y1="840.0" x2="1359.2" y2="810.3" stroke="#e08a14" stroke-width="2.3" stroke-linecap="round" stroke-dasharray="0.1 2.4"/><line x1="1355.6" y1="839.1" x2="1361.4" y2="809.4" stroke="#e8901e" stroke-width="1.2" opacity="0.9"/><line x1="1355.6" y1="839.1" x2="1361.4" y2="809.4" stroke="#e08a14" stroke-width="2.3" stroke-linecap="round" stroke-dasharray="0.1 2.4"/><line x1="1363.2" y1="840.0" x2="1368.2" y2="810.3" stroke="#e8901e" stroke-width="1.2" opacity="0.9"/><line x1="1363.2" y1="840.0" x2="1368.2" y2="810.3" stroke="#e08a14" stroke-width="2.3" stroke-linecap="round" stroke-dasharray="0.1 2.4"/><line x1="1365.5" y1="839.1" x2="1370.5" y2="809.4" stroke="#e8901e" stroke-width="1.2" opacity="0.9"/><line x1="1365.5" y1="839.1" x2="1370.5" y2="809.4" stroke="#e08a14" stroke-width="2.3" stroke-linecap="round" stroke-dasharray="0.1 2.4"/><line x1="1373.1" y1="840.0" x2="1377.3" y2="810.3" stroke="#e8901e" stroke-width="1.2" opacity="0.9"/><line x1="1373.1" y1="840.0" x2="1377.3" y2="810.3" stroke="#e08a14" stroke-width="2.3" stroke-linecap="round" stroke-dasharray="0.1 2.4"/><line x1="1375.3" y1="839.1" x2="1379.5" y2="809.4" stroke="#e8901e" stroke-width="1.2" opacity="0.9"/><line x1="1375.3" y1="839.1" x2="1379.5" y2="809.4" stroke="#e08a14" stroke-width="2.3" stroke-linecap="round" stroke-dasharray="0.1 2.4"/><line x1="1383.0" y1="840.0" x2="1386.3" y2="810.3" stroke="#e8901e" stroke-width="1.2" opacity="0.9"/><line x1="1383.0" y1="840.0" x2="1386.3" y2="810.3" stroke="#e08a14" stroke-width="2.3" stroke-linecap="round" stroke-dasharray="0.1 2.4"/><line x1="1385.2" y1="839.1" x2="1388.5" y2="809.4" stroke="#e8901e" stroke-width="1.2" opacity="0.9"/><line x1="1385.2" y1="839.1" x2="1388.5" y2="809.4" stroke="#e08a14" stroke-width="2.3" stroke-linecap="round" stroke-dasharray="0.1 2.4"/><line x1="1392.8" y1="840.0" x2="1395.4" y2="810.3" stroke="#e8901e" stroke-width="1.2" opacity="0.9"/><line x1="1392.8" y1="840.0" x2="1395.4" y2="810.3" stroke="#e08a14" stroke-width="2.3" stroke-linecap="round" stroke-dasharray="0.1 2.4"/><line x1="1395.0" y1="839.1" x2="1397.6" y2="809.4" stroke="#e8901e" stroke-width="1.2" opacity="0.9"/><line x1="1395.0" y1="839.1" x2="1397.6" y2="809.4" stroke="#e08a14" stroke-width="2.3" stroke-linecap="round" stroke-dasharray="0.1 2.4"/><line x1="1402.7" y1="840.0" x2="1404.5" y2="810.3" stroke="#e8901e" stroke-width="1.2" opacity="0.9"/><line x1="1402.7" y1="840.0" x2="1404.5" y2="810.3" stroke="#e08a14" stroke-width="2.3" stroke-linecap="round" stroke-dasharray="0.1 2.4"/><line x1="1404.9" y1="839.1" x2="1406.7" y2="809.4" stroke="#e8901e" stroke-width="1.2" opacity="0.9"/><line x1="1404.9" y1="839.1" x2="1406.7" y2="809.4" stroke="#e08a14" stroke-width="2.3" stroke-linecap="round" stroke-dasharray="0.1 2.4"/><line x1="1412.5" y1="840.0" x2="1413.5" y2="810.3" stroke="#e8901e" stroke-width="1.2" opacity="0.9"/><line x1="1412.5" y1="840.0" x2="1413.5" y2="810.3" stroke="#e08a14" stroke-width="2.3" stroke-linecap="round" stroke-dasharray="0.1 2.4"/><line x1="1414.7" y1="839.1" x2="1415.7" y2="809.4" stroke="#e8901e" stroke-width="1.2" opacity="0.9"/><line x1="1414.7" y1="839.1" x2="1415.7" y2="809.4" stroke="#e08a14" stroke-width="2.3" stroke-linecap="round" stroke-dasharray="0.1 2.4"/><line x1="1422.3" y1="840.0" x2="1422.5" y2="810.3" stroke="#e8901e" stroke-width="1.2" opacity="0.9"/><line x1="1422.3" y1="840.0" x2="1422.5" y2="810.3" stroke="#e08a14" stroke-width="2.3" stroke-linecap="round" stroke-dasharray="0.1 2.4"/><line x1="1424.5" y1="839.1" x2="1424.8" y2="809.4" stroke="#e8901e" stroke-width="1.2" opacity="0.9"/><line x1="1424.5" y1="839.1" x2="1424.8" y2="809.4" stroke="#e08a14" stroke-width="2.3" stroke-linecap="round" stroke-dasharray="0.1 2.4"/><line x1="1432.2" y1="840.0" x2="1431.6" y2="810.3" stroke="#e8901e" stroke-width="1.2" opacity="0.9"/><line x1="1432.2" y1="840.0" x2="1431.6" y2="810.3" stroke="#e08a14" stroke-width="2.3" stroke-linecap="round" stroke-dasharray="0.1 2.4"/><line x1="1434.4" y1="839.1" x2="1433.8" y2="809.4" stroke="#e8901e" stroke-width="1.2" opacity="0.9"/><line x1="1434.4" y1="839.1" x2="1433.8" y2="809.4" stroke="#e08a14" stroke-width="2.3" stroke-linecap="round" stroke-dasharray="0.1 2.4"/><line x1="1442.0" y1="840.0" x2="1440.7" y2="810.3" stroke="#e8901e" stroke-width="1.2" opacity="0.9"/><line x1="1442.0" y1="840.0" x2="1440.7" y2="810.3" stroke="#e08a14" stroke-width="2.3" stroke-linecap="round" stroke-dasharray="0.1 2.4"/><line x1="1444.2" y1="839.1" x2="1442.9" y2="809.4" stroke="#e8901e" stroke-width="1.2" opacity="0.9"/><line x1="1444.2" y1="839.1" x2="1442.9" y2="809.4" stroke="#e08a14" stroke-width="2.3" stroke-linecap="round" stroke-dasharray="0.1 2.4"/><line x1="1451.9" y1="840.0" x2="1449.7" y2="810.3" stroke="#e8901e" stroke-width="1.2" opacity="0.9"/><line x1="1451.9" y1="840.0" x2="1449.7" y2="810.3" stroke="#e08a14" stroke-width="2.3" stroke-linecap="round" stroke-dasharray="0.1 2.4"/><line x1="1454.1" y1="839.1" x2="1451.9" y2="809.4" stroke="#e8901e" stroke-width="1.2" opacity="0.9"/><line x1="1454.1" y1="839.1" x2="1451.9" y2="809.4" stroke="#e08a14" stroke-width="2.3" stroke-linecap="round" stroke-dasharray="0.1 2.4"/><line x1="1461.8" y1="840.0" x2="1458.8" y2="810.3" stroke="#e8901e" stroke-width="1.2" opacity="0.9"/><line x1="1461.8" y1="840.0" x2="1458.8" y2="810.3" stroke="#e08a14" stroke-width="2.3" stroke-linecap="round" stroke-dasharray="0.1 2.4"/><line x1="1464.0" y1="839.1" x2="1461.0" y2="809.4" stroke="#e8901e" stroke-width="1.2" opacity="0.9"/><line x1="1464.0" y1="839.1" x2="1461.0" y2="809.4" stroke="#e08a14" stroke-width="2.3" stroke-linecap="round" stroke-dasharray="0.1 2.4"/><line x1="1471.6" y1="840.0" x2="1467.8" y2="810.3" stroke="#e8901e" stroke-width="1.2" opacity="0.9"/><line x1="1471.6" y1="840.0" x2="1467.8" y2="810.3" stroke="#e08a14" stroke-width="2.3" stroke-linecap="round" stroke-dasharray="0.1 2.4"/><line x1="1473.8" y1="839.1" x2="1470.0" y2="809.4" stroke="#e8901e" stroke-width="1.2" opacity="0.9"/><line x1="1473.8" y1="839.1" x2="1470.0" y2="809.4" stroke="#e08a14" stroke-width="2.3" stroke-linecap="round" stroke-dasharray="0.1 2.4"/><line x1="1481.5" y1="840.0" x2="1476.8" y2="810.3" stroke="#e8901e" stroke-width="1.2" opacity="0.9"/><line x1="1481.5" y1="840.0" x2="1476.8" y2="810.3" stroke="#e08a14" stroke-width="2.3" stroke-linecap="round" stroke-dasharray="0.1 2.4"/><line x1="1483.7" y1="839.1" x2="1479.0" y2="809.4" stroke="#e8901e" stroke-width="1.2" opacity="0.9"/><line x1="1483.7" y1="839.1" x2="1479.0" y2="809.4" stroke="#e08a14" stroke-width="2.3" stroke-linecap="round" stroke-dasharray="0.1 2.4"/><line x1="1491.3" y1="840.0" x2="1485.9" y2="810.3" stroke="#e8901e" stroke-width="1.2" opacity="0.9"/><line x1="1491.3" y1="840.0" x2="1485.9" y2="810.3" stroke="#e08a14" stroke-width="2.3" stroke-linecap="round" stroke-dasharray="0.1 2.4"/><line x1="1493.5" y1="839.1" x2="1488.1" y2="809.4" stroke="#e8901e" stroke-width="1.2" opacity="0.9"/><line x1="1493.5" y1="839.1" x2="1488.1" y2="809.4" stroke="#e08a14" stroke-width="2.3" stroke-linecap="round" stroke-dasharray="0.1 2.4"/><line x1="1501.2" y1="840.0" x2="1495.0" y2="810.3" stroke="#e8901e" stroke-width="1.2" opacity="0.9"/><line x1="1501.2" y1="840.0" x2="1495.0" y2="810.3" stroke="#e08a14" stroke-width="2.3" stroke-linecap="round" stroke-dasharray="0.1 2.4"/><line x1="1503.4" y1="839.1" x2="1497.2" y2="809.4" stroke="#e8901e" stroke-width="1.2" opacity="0.9"/><line x1="1503.4" y1="839.1" x2="1497.2" y2="809.4" stroke="#e08a14" stroke-width="2.3" stroke-linecap="round" stroke-dasharray="0.1 2.4"/><line x1="1511.0" y1="840.0" x2="1504.0" y2="810.3" stroke="#e8901e" stroke-width="1.2" opacity="0.9"/><line x1="1511.0" y1="840.0" x2="1504.0" y2="810.3" stroke="#e08a14" stroke-width="2.3" stroke-linecap="round" stroke-dasharray="0.1 2.4"/><line x1="1513.2" y1="839.1" x2="1506.2" y2="809.4" stroke="#e8901e" stroke-width="1.2" opacity="0.9"/><line x1="1513.2" y1="839.1" x2="1506.2" y2="809.4" stroke="#e08a14" stroke-width="2.3" stroke-linecap="round" stroke-dasharray="0.1 2.4"/>
<polygon points="1426.0,801.8 1617.3,801.8 1612.5,780.4 1432.8,780.4" fill="#22b040" opacity="0.7"/><line x1="1425.0" y1="805.0" x2="1435.0" y2="773.4" stroke="#e8901e" stroke-width="1.2" opacity="0.9"/><line x1="1425.0" y1="805.0" x2="1435.0" y2="773.4" stroke="#e08a14" stroke-width="2.3" stroke-linecap="round" stroke-dasharray="0.1 2.4"/><line x1="1427.2" y1="804.1" x2="1437.2" y2="772.5" stroke="#e8901e" stroke-width="1.2" opacity="0.9"/><line x1="1427.2" y1="804.1" x2="1437.2" y2="772.5" stroke="#e08a14" stroke-width="2.3" stroke-linecap="round" stroke-dasharray="0.1 2.4"/><line x1="1434.7" y1="805.0" x2="1443.8" y2="773.4" stroke="#e8901e" stroke-width="1.2" opacity="0.9"/><line x1="1434.7" y1="805.0" x2="1443.8" y2="773.4" stroke="#e08a14" stroke-width="2.3" stroke-linecap="round" stroke-dasharray="0.1 2.4"/><line x1="1436.9" y1="804.1" x2="1446.0" y2="772.5" stroke="#e8901e" stroke-width="1.2" opacity="0.9"/><line x1="1436.9" y1="804.1" x2="1446.0" y2="772.5" stroke="#e08a14" stroke-width="2.3" stroke-linecap="round" stroke-dasharray="0.1 2.4"/><line x1="1444.3" y1="805.0" x2="1452.6" y2="773.4" stroke="#e8901e" stroke-width="1.2" opacity="0.9"/><line x1="1444.3" y1="805.0" x2="1452.6" y2="773.4" stroke="#e08a14" stroke-width="2.3" stroke-linecap="round" stroke-dasharray="0.1 2.4"/><line x1="1446.5" y1="804.1" x2="1454.8" y2="772.5" stroke="#e8901e" stroke-width="1.2" opacity="0.9"/><line x1="1446.5" y1="804.1" x2="1454.8" y2="772.5" stroke="#e08a14" stroke-width="2.3" stroke-linecap="round" stroke-dasharray="0.1 2.4"/><line x1="1454.0" y1="805.0" x2="1461.4" y2="773.4" stroke="#e8901e" stroke-width="1.2" opacity="0.9"/><line x1="1454.0" y1="805.0" x2="1461.4" y2="773.4" stroke="#e08a14" stroke-width="2.3" stroke-linecap="round" stroke-dasharray="0.1 2.4"/><line x1="1456.2" y1="804.1" x2="1463.6" y2="772.5" stroke="#e8901e" stroke-width="1.2" opacity="0.9"/><line x1="1456.2" y1="804.1" x2="1463.6" y2="772.5" stroke="#e08a14" stroke-width="2.3" stroke-linecap="round" stroke-dasharray="0.1 2.4"/><line x1="1463.6" y1="805.0" x2="1470.2" y2="773.4" stroke="#e8901e" stroke-width="1.2" opacity="0.9"/><line x1="1463.6" y1="805.0" x2="1470.2" y2="773.4" stroke="#e08a14" stroke-width="2.3" stroke-linecap="round" stroke-dasharray="0.1 2.4"/><line x1="1465.8" y1="804.1" x2="1472.4" y2="772.5" stroke="#e8901e" stroke-width="1.2" opacity="0.9"/><line x1="1465.8" y1="804.1" x2="1472.4" y2="772.5" stroke="#e08a14" stroke-width="2.3" stroke-linecap="round" stroke-dasharray="0.1 2.4"/><line x1="1473.2" y1="805.0" x2="1479.0" y2="773.4" stroke="#e8901e" stroke-width="1.2" opacity="0.9"/><line x1="1473.2" y1="805.0" x2="1479.0" y2="773.4" stroke="#e08a14" stroke-width="2.3" stroke-linecap="round" stroke-dasharray="0.1 2.4"/><line x1="1475.5" y1="804.1" x2="1481.2" y2="772.5" stroke="#e8901e" stroke-width="1.2" opacity="0.9"/><line x1="1475.5" y1="804.1" x2="1481.2" y2="772.5" stroke="#e08a14" stroke-width="2.3" stroke-linecap="round" stroke-dasharray="0.1 2.4"/><line x1="1482.9" y1="805.0" x2="1487.8" y2="773.4" stroke="#e8901e" stroke-width="1.2" opacity="0.9"/><line x1="1482.9" y1="805.0" x2="1487.8" y2="773.4" stroke="#e08a14" stroke-width="2.3" stroke-linecap="round" stroke-dasharray="0.1 2.4"/><line x1="1485.1" y1="804.1" x2="1490.0" y2="772.5" stroke="#e8901e" stroke-width="1.2" opacity="0.9"/><line x1="1485.1" y1="804.1" x2="1490.0" y2="772.5" stroke="#e08a14" stroke-width="2.3" stroke-linecap="round" stroke-dasharray="0.1 2.4"/><line x1="1492.5" y1="805.0" x2="1496.6" y2="773.4" stroke="#e8901e" stroke-width="1.2" opacity="0.9"/><line x1="1492.5" y1="805.0" x2="1496.6" y2="773.4" stroke="#e08a14" stroke-width="2.3" stroke-linecap="round" stroke-dasharray="0.1 2.4"/><line x1="1494.8" y1="804.1" x2="1498.8" y2="772.5" stroke="#e8901e" stroke-width="1.2" opacity="0.9"/><line x1="1494.8" y1="804.1" x2="1498.8" y2="772.5" stroke="#e08a14" stroke-width="2.3" stroke-linecap="round" stroke-dasharray="0.1 2.4"/><line x1="1502.2" y1="805.0" x2="1505.4" y2="773.4" stroke="#e8901e" stroke-width="1.2" opacity="0.9"/><line x1="1502.2" y1="805.0" x2="1505.4" y2="773.4" stroke="#e08a14" stroke-width="2.3" stroke-linecap="round" stroke-dasharray="0.1 2.4"/><line x1="1504.4" y1="804.1" x2="1507.6" y2="772.5" stroke="#e8901e" stroke-width="1.2" opacity="0.9"/><line x1="1504.4" y1="804.1" x2="1507.6" y2="772.5" stroke="#e08a14" stroke-width="2.3" stroke-linecap="round" stroke-dasharray="0.1 2.4"/><line x1="1511.8" y1="805.0" x2="1514.2" y2="773.4" stroke="#e8901e" stroke-width="1.2" opacity="0.9"/><line x1="1511.8" y1="805.0" x2="1514.2" y2="773.4" stroke="#e08a14" stroke-width="2.3" stroke-linecap="round" stroke-dasharray="0.1 2.4"/><line x1="1514.0" y1="804.1" x2="1516.4" y2="772.5" stroke="#e8901e" stroke-width="1.2" opacity="0.9"/><line x1="1514.0" y1="804.1" x2="1516.4" y2="772.5" stroke="#e08a14" stroke-width="2.3" stroke-linecap="round" stroke-dasharray="0.1 2.4"/><line x1="1521.5" y1="805.0" x2="1523.0" y2="773.4" stroke="#e8901e" stroke-width="1.2" opacity="0.9"/><line x1="1521.5" y1="805.0" x2="1523.0" y2="773.4" stroke="#e08a14" stroke-width="2.3" stroke-linecap="round" stroke-dasharray="0.1 2.4"/><line x1="1523.7" y1="804.1" x2="1525.2" y2="772.5" stroke="#e8901e" stroke-width="1.2" opacity="0.9"/><line x1="1523.7" y1="804.1" x2="1525.2" y2="772.5" stroke="#e08a14" stroke-width="2.3" stroke-linecap="round" stroke-dasharray="0.1 2.4"/><line x1="1531.2" y1="805.0" x2="1531.8" y2="773.4" stroke="#e8901e" stroke-width="1.2" opacity="0.9"/><line x1="1531.2" y1="805.0" x2="1531.8" y2="773.4" stroke="#e08a14" stroke-width="2.3" stroke-linecap="round" stroke-dasharray="0.1 2.4"/><line x1="1533.4" y1="804.1" x2="1534.0" y2="772.5" stroke="#e8901e" stroke-width="1.2" opacity="0.9"/><line x1="1533.4" y1="804.1" x2="1534.0" y2="772.5" stroke="#e08a14" stroke-width="2.3" stroke-linecap="round" stroke-dasharray="0.1 2.4"/><line x1="1540.8" y1="805.0" x2="1540.6" y2="773.4" stroke="#e8901e" stroke-width="1.2" opacity="0.9"/><line x1="1540.8" y1="805.0" x2="1540.6" y2="773.4" stroke="#e08a14" stroke-width="2.3" stroke-linecap="round" stroke-dasharray="0.1 2.4"/><line x1="1543.0" y1="804.1" x2="1542.8" y2="772.5" stroke="#e8901e" stroke-width="1.2" opacity="0.9"/><line x1="1543.0" y1="804.1" x2="1542.8" y2="772.5" stroke="#e08a14" stroke-width="2.3" stroke-linecap="round" stroke-dasharray="0.1 2.4"/><line x1="1550.5" y1="805.0" x2="1549.4" y2="773.4" stroke="#e8901e" stroke-width="1.2" opacity="0.9"/><line x1="1550.5" y1="805.0" x2="1549.4" y2="773.4" stroke="#e08a14" stroke-width="2.3" stroke-linecap="round" stroke-dasharray="0.1 2.4"/><line x1="1552.7" y1="804.1" x2="1551.6" y2="772.5" stroke="#e8901e" stroke-width="1.2" opacity="0.9"/><line x1="1552.7" y1="804.1" x2="1551.6" y2="772.5" stroke="#e08a14" stroke-width="2.3" stroke-linecap="round" stroke-dasharray="0.1 2.4"/><line x1="1560.1" y1="805.0" x2="1558.2" y2="773.4" stroke="#e8901e" stroke-width="1.2" opacity="0.9"/><line x1="1560.1" y1="805.0" x2="1558.2" y2="773.4" stroke="#e08a14" stroke-width="2.3" stroke-linecap="round" stroke-dasharray="0.1 2.4"/><line x1="1562.3" y1="804.1" x2="1560.4" y2="772.5" stroke="#e8901e" stroke-width="1.2" opacity="0.9"/><line x1="1562.3" y1="804.1" x2="1560.4" y2="772.5" stroke="#e08a14" stroke-width="2.3" stroke-linecap="round" stroke-dasharray="0.1 2.4"/><line x1="1569.8" y1="805.0" x2="1567.0" y2="773.4" stroke="#e8901e" stroke-width="1.2" opacity="0.9"/><line x1="1569.8" y1="805.0" x2="1567.0" y2="773.4" stroke="#e08a14" stroke-width="2.3" stroke-linecap="round" stroke-dasharray="0.1 2.4"/><line x1="1572.0" y1="804.1" x2="1569.2" y2="772.5" stroke="#e8901e" stroke-width="1.2" opacity="0.9"/><line x1="1572.0" y1="804.1" x2="1569.2" y2="772.5" stroke="#e08a14" stroke-width="2.3" stroke-linecap="round" stroke-dasharray="0.1 2.4"/><line x1="1579.4" y1="805.0" x2="1575.8" y2="773.4" stroke="#e8901e" stroke-width="1.2" opacity="0.9"/><line x1="1579.4" y1="805.0" x2="1575.8" y2="773.4" stroke="#e08a14" stroke-width="2.3" stroke-linecap="round" stroke-dasharray="0.1 2.4"/><line x1="1581.6" y1="804.1" x2="1578.0" y2="772.5" stroke="#e8901e" stroke-width="1.2" opacity="0.9"/><line x1="1581.6" y1="804.1" x2="1578.0" y2="772.5" stroke="#e08a14" stroke-width="2.3" stroke-linecap="round" stroke-dasharray="0.1 2.4"/><line x1="1589.0" y1="805.0" x2="1584.6" y2="773.4" stroke="#e8901e" stroke-width="1.2" opacity="0.9"/><line x1="1589.0" y1="805.0" x2="1584.6" y2="773.4" stroke="#e08a14" stroke-width="2.3" stroke-linecap="round" stroke-dasharray="0.1 2.4"/><line x1="1591.2" y1="804.1" x2="1586.8" y2="772.5" stroke="#e8901e" stroke-width="1.2" opacity="0.9"/><line x1="1591.2" y1="804.1" x2="1586.8" y2="772.5" stroke="#e08a14" stroke-width="2.3" stroke-linecap="round" stroke-dasharray="0.1 2.4"/><line x1="1598.7" y1="805.0" x2="1593.4" y2="773.4" stroke="#e8901e" stroke-width="1.2" opacity="0.9"/><line x1="1598.7" y1="805.0" x2="1593.4" y2="773.4" stroke="#e08a14" stroke-width="2.3" stroke-linecap="round" stroke-dasharray="0.1 2.4"/><line x1="1600.9" y1="804.1" x2="1595.6" y2="772.5" stroke="#e8901e" stroke-width="1.2" opacity="0.9"/><line x1="1600.9" y1="804.1" x2="1595.6" y2="772.5" stroke="#e08a14" stroke-width="2.3" stroke-linecap="round" stroke-dasharray="0.1 2.4"/><line x1="1608.3" y1="805.0" x2="1602.2" y2="773.4" stroke="#e8901e" stroke-width="1.2" opacity="0.9"/><line x1="1608.3" y1="805.0" x2="1602.2" y2="773.4" stroke="#e08a14" stroke-width="2.3" stroke-linecap="round" stroke-dasharray="0.1 2.4"/><line x1="1610.5" y1="804.1" x2="1604.4" y2="772.5" stroke="#e8901e" stroke-width="1.2" opacity="0.9"/><line x1="1610.5" y1="804.1" x2="1604.4" y2="772.5" stroke="#e08a14" stroke-width="2.3" stroke-linecap="round" stroke-dasharray="0.1 2.4"/><line x1="1618.0" y1="805.0" x2="1611.0" y2="773.4" stroke="#e8901e" stroke-width="1.2" opacity="0.9"/><line x1="1618.0" y1="805.0" x2="1611.0" y2="773.4" stroke="#e08a14" stroke-width="2.3" stroke-linecap="round" stroke-dasharray="0.1 2.4"/><line x1="1620.2" y1="804.1" x2="1613.2" y2="772.5" stroke="#e8901e" stroke-width="1.2" opacity="0.9"/><line x1="1620.2" y1="804.1" x2="1613.2" y2="772.5" stroke="#e08a14" stroke-width="2.3" stroke-linecap="round" stroke-dasharray="0.1 2.4"/>
<ellipse cx="1363.4" cy="822.6" rx="22" ry="15" fill="#f4a27a" opacity="0.7"/>
<text x="1363.4" y="828" font-size="13" font-family="'Liberation Sans','DejaVu Sans',sans-serif" fill="#8a4a28" text-anchor="middle">e h</text>
<line x1="1358.8" y1="742.8" x2="1358.8" y2="797.0" stroke="#3c6428" stroke-width="1.8" /><polygon points="1355.2,795.5 1362.4,795.5 1358.8,803.0" fill="#3c6428"/>
<line x1="1371.0" y1="803.0" x2="1371.0" y2="748.8" stroke="#e07820" stroke-width="1.8" /><polygon points="1367.4,750.3 1374.6,750.3 1371.0,742.8" fill="#e07820"/>
<defs>
<linearGradient id="bnG" x1="0" x2="0" y1="0" y2="1"><stop offset="0" stop-color="#d0dcf0"/><stop offset="0.15" stop-color="#b4c4e6"/><stop offset="0.85" stop-color="#aebee0"/><stop offset="1" stop-color="#9aaad0"/></linearGradient>
<linearGradient id="pdG" x1="0" x2="0" y1="0" y2="1"><stop offset="0" stop-color="#cfb07a"/><stop offset="1" stop-color="#c4a26a"/></linearGradient>
<linearGradient id="sioG" x1="0" x2="0" y1="0" y2="1"><stop offset="0" stop-color="#c8a098"/><stop offset="1" stop-color="#b8908a"/></linearGradient>
<linearGradient id="tbnG" x1="0" x2="0" y1="0" y2="1"><stop offset="0" stop-color="#98a8d0"/><stop offset="0.3" stop-color="#b8c6e6"/><stop offset="1" stop-color="#a8b8de"/></linearGradient>
<radialGradient id="gW" cx="0.35" cy="0.35" r="0.7"><stop offset="0" stop-color="#f0f0f0"/><stop offset="0.5" stop-color="#cccccc"/><stop offset="1" stop-color="#888888"/></radialGradient>
<radialGradient id="gWb" cx="0.35" cy="0.35" r="0.7"><stop offset="0" stop-color="#5aa8d8"/><stop offset="0.5" stop-color="#16689c"/><stop offset="1" stop-color="#0a3c60"/></radialGradient>
<radialGradient id="gMo" cx="0.35" cy="0.35" r="0.7"><stop offset="0" stop-color="#b8f080"/><stop offset="0.5" stop-color="#5cc020"/><stop offset="1" stop-color="#348010"/></radialGradient>
<pattern id="srcTex" width="7" height="6" patternUnits="userSpaceOnUse"><rect width="7" height="6" fill="#eeeba0"/><circle cx="2" cy="2" r="1.3" fill="#f8f6c8" opacity="0.7"/><circle cx="5" cy="4.5" r="1.2" fill="#d6d280" opacity="0.6"/></pattern>
</defs>
<text x="14.4" y="1033.0" font-size="40" font-family="'Liberation Serif','DejaVu Serif',serif" fill="#1a1a1a" textLength="51" lengthAdjust="spacingAndGlyphs" >(h)</text>
<rect x="92.4" y="1371" width="629.6" height="48" fill="url(#sioG)"/>
<polygon points="92.4,1371 97.5,1375 97.5,1419 92.4,1419" fill="#111"/>
<rect x="97.4" y="1326" width="232.6" height="49" fill="url(#pdG)"/>
<rect x="482.7" y="1326" width="234.3" height="49" fill="url(#pdG)"/>
<rect x="97.4" y="1326" width="5" height="49" fill="#111"/>
<rect x="482.7" y="1326" width="3" height="49" fill="#6a5a3a"/>
<rect x="97.4" y="1325" width="232.6" height="6.5" fill="#6282c4"/>
<rect x="482.7" y="1325" width="234.3" height="6.5" fill="#6282c4"/>
<rect x="92.4" y="1282.5" width="628.6" height="44" rx="4" fill="url(#bnG)"/>
<line x1="131.5" y1="1255.0" x2="106.0" y2="1230.0" stroke="#3a3a3a" stroke-width="4" />
<line x1="131.5" y1="1255.0" x2="106.0" y2="1275.5" stroke="#3a3a3a" stroke-width="4" />
<line x1="131.5" y1="1255.0" x2="142.0" y2="1230.0" stroke="#3a3a3a" stroke-width="4" />
<line x1="131.5" y1="1255.0" x2="142.0" y2="1275.5" stroke="#3a3a3a" stroke-width="4" />
<line x1="167.5" y1="1255.0" x2="142.0" y2="1230.0" stroke="#3a3a3a" stroke-width="4" />
<line x1="167.5" y1="1255.0" x2="142.0" y2="1275.5" stroke="#3a3a3a" stroke-width="4" />
<line x1="167.5" y1="1255.0" x2="178.0" y2="1230.0" stroke="#3a3a3a" stroke-width="4" />
<line x1="167.5" y1="1255.0" x2="178.0" y2="1275.5" stroke="#3a3a3a" stroke-width="4" />
<line x1="203.5" y1="1255.0" x2="178.0" y2="1230.0" stroke="#3a3a3a" stroke-width="4" />
<line x1="203.5" y1="1255.0" x2="178.0" y2="1275.5" stroke="#3a3a3a" stroke-width="4" />
<line x1="203.5" y1="1255.0" x2="214.0" y2="1230.0" stroke="#3a3a3a" stroke-width="4" />
<line x1="203.5" y1="1255.0" x2="214.0" y2="1275.5" stroke="#3a3a3a" stroke-width="4" />
<line x1="239.5" y1="1255.0" x2="214.0" y2="1230.0" stroke="#3a3a3a" stroke-width="4" />
<line x1="239.5" y1="1255.0" x2="214.0" y2="1275.5" stroke="#3a3a3a" stroke-width="4" />
<line x1="239.5" y1="1255.0" x2="250.0" y2="1230.0" stroke="#3a3a3a" stroke-width="4" />
<line x1="239.5" y1="1255.0" x2="250.0" y2="1275.5" stroke="#3a3a3a" stroke-width="4" />
<line x1="275.5" y1="1255.0" x2="250.0" y2="1230.0" stroke="#3a3a3a" stroke-width="4" />
<line x1="275.5" y1="1255.0" x2="250.0" y2="1275.5" stroke="#3a3a3a" stroke-width="4" />
<line x1="275.5" y1="1255.0" x2="286.0" y2="1230.0" stroke="#3a3a3a" stroke-width="4" />
<line x1="275.5" y1="1255.0" x2="286.0" y2="1275.5" stroke="#3a3a3a" stroke-width="4" />
<line x1="311.5" y1="1255.0" x2="286.0" y2="1230.0" stroke="#3a3a3a" stroke-width="4" />
<line x1="311.5" y1="1255.0" x2="286.0" y2="1275.5" stroke="#3a3a3a" stroke-width="4" />
<line x1="311.5" y1="1255.0" x2="322.0" y2="1230.0" stroke="#3a3a3a" stroke-width="4" />
<line x1="311.5" y1="1255.0" x2="322.0" y2="1275.5" stroke="#3a3a3a" stroke-width="4" />
<line x1="347.5" y1="1255.0" x2="322.0" y2="1230.0" stroke="#3a3a3a" stroke-width="4" />
<line x1="347.5" y1="1255.0" x2="322.0" y2="1275.5" stroke="#3a3a3a" stroke-width="4" />
<line x1="347.5" y1="1255.0" x2="358.0" y2="1230.0" stroke="#3a3a3a" stroke-width="4" />
<line x1="347.5" y1="1255.0" x2="358.0" y2="1275.5" stroke="#3a3a3a" stroke-width="4" />
<line x1="383.5" y1="1255.0" x2="358.0" y2="1230.0" stroke="#3a3a3a" stroke-width="4" />
<line x1="383.5" y1="1255.0" x2="358.0" y2="1275.5" stroke="#3a3a3a" stroke-width="4" />
<line x1="383.5" y1="1255.0" x2="394.0" y2="1230.0" stroke="#3a3a3a" stroke-width="4" />
<line x1="383.5" y1="1255.0" x2="394.0" y2="1275.5" stroke="#3a3a3a" stroke-width="4" />
<line x1="419.5" y1="1255.0" x2="394.0" y2="1230.0" stroke="#3a3a3a" stroke-width="4" />
<line x1="419.5" y1="1255.0" x2="394.0" y2="1275.5" stroke="#3a3a3a" stroke-width="4" />
<line x1="419.5" y1="1255.0" x2="430.0" y2="1230.0" stroke="#3a3a3a" stroke-width="4" />
<line x1="419.5" y1="1255.0" x2="430.0" y2="1275.5" stroke="#3a3a3a" stroke-width="4" />
<line x1="455.5" y1="1255.0" x2="430.0" y2="1230.0" stroke="#3a3a3a" stroke-width="4" />
<line x1="455.5" y1="1255.0" x2="430.0" y2="1275.5" stroke="#3a3a3a" stroke-width="4" />
<line x1="455.5" y1="1255.0" x2="466.0" y2="1230.0" stroke="#3a3a3a" stroke-width="4" />
<line x1="455.5" y1="1255.0" x2="466.0" y2="1275.5" stroke="#3a3a3a" stroke-width="4" />
<line x1="491.5" y1="1255.0" x2="466.0" y2="1230.0" stroke="#3a3a3a" stroke-width="4" />
<line x1="491.5" y1="1255.0" x2="466.0" y2="1275.5" stroke="#3a3a3a" stroke-width="4" />
<line x1="491.5" y1="1255.0" x2="502.0" y2="1230.0" stroke="#3a3a3a" stroke-width="4" />
<line x1="491.5" y1="1255.0" x2="502.0" y2="1275.5" stroke="#3a3a3a" stroke-width="4" />
<line x1="527.5" y1="1255.0" x2="502.0" y2="1230.0" stroke="#3a3a3a" stroke-width="4" />
<line x1="527.5" y1="1255.0" x2="502.0" y2="1275.5" stroke="#3a3a3a" stroke-width="4" />
<line x1="527.5" y1="1255.0" x2="538.0" y2="1230.0" stroke="#3a3a3a" stroke-width="4" />
<line x1="527.5" y1="1255.0" x2="538.0" y2="1275.5" stroke="#3a3a3a" stroke-width="4" />
<line x1="563.5" y1="1255.0" x2="538.0" y2="1230.0" stroke="#3a3a3a" stroke-width="4" />
<line x1="563.5" y1="1255.0" x2="538.0" y2="1275.5" stroke="#3a3a3a" stroke-width="4" />
<line x1="563.5" y1="1255.0" x2="574.0" y2="1230.0" stroke="#3a3a3a" stroke-width="4" />
<line x1="563.5" y1="1255.0" x2="574.0" y2="1275.5" stroke="#3a3a3a" stroke-width="4" />
<line x1="599.5" y1="1255.0" x2="574.0" y2="1230.0" stroke="#3a3a3a" stroke-width="4" />
<line x1="599.5" y1="1255.0" x2="574.0" y2="1275.5" stroke="#3a3a3a" stroke-width="4" />
<line x1="599.5" y1="1255.0" x2="610.0" y2="1230.0" stroke="#3a3a3a" stroke-width="4" />
<line x1="599.5" y1="1255.0" x2="610.0" y2="1275.5" stroke="#3a3a3a" stroke-width="4" />
<line x1="635.5" y1="1255.0" x2="610.0" y2="1230.0" stroke="#3a3a3a" stroke-width="4" />
<line x1="635.5" y1="1255.0" x2="610.0" y2="1275.5" stroke="#3a3a3a" stroke-width="4" />
<line x1="635.5" y1="1255.0" x2="646.0" y2="1230.0" stroke="#3a3a3a" stroke-width="4" />
<line x1="635.5" y1="1255.0" x2="646.0" y2="1275.5" stroke="#3a3a3a" stroke-width="4" />
<line x1="671.5" y1="1255.0" x2="646.0" y2="1230.0" stroke="#3a3a3a" stroke-width="4" />
<line x1="671.5" y1="1255.0" x2="646.0" y2="1275.5" stroke="#3a3a3a" stroke-width="4" />
<line x1="671.5" y1="1255.0" x2="682.0" y2="1230.0" stroke="#3a3a3a" stroke-width="4" />
<line x1="671.5" y1="1255.0" x2="682.0" y2="1275.5" stroke="#3a3a3a" stroke-width="4" />
<line x1="707.5" y1="1255.0" x2="682.0" y2="1230.0" stroke="#3a3a3a" stroke-width="4" />
<line x1="707.5" y1="1255.0" x2="682.0" y2="1275.5" stroke="#3a3a3a" stroke-width="4" />
<line x1="420.0" y1="1180.0" x2="433.4" y2="1156.4" stroke="#3a3a3a" stroke-width="4" />
<line x1="420.0" y1="1180.0" x2="433.4" y2="1202.8" stroke="#3a3a3a" stroke-width="4" />
<line x1="456.0" y1="1180.0" x2="469.4" y2="1156.4" stroke="#3a3a3a" stroke-width="4" />
<line x1="456.0" y1="1180.0" x2="469.4" y2="1202.8" stroke="#3a3a3a" stroke-width="4" />
<line x1="456.0" y1="1180.0" x2="433.4" y2="1156.4" stroke="#3a3a3a" stroke-width="4" />
<line x1="456.0" y1="1180.0" x2="433.4" y2="1202.8" stroke="#3a3a3a" stroke-width="4" />
<line x1="492.0" y1="1180.0" x2="505.4" y2="1156.4" stroke="#3a3a3a" stroke-width="4" />
<line x1="492.0" y1="1180.0" x2="505.4" y2="1202.8" stroke="#3a3a3a" stroke-width="4" />
<line x1="492.0" y1="1180.0" x2="469.4" y2="1156.4" stroke="#3a3a3a" stroke-width="4" />
<line x1="492.0" y1="1180.0" x2="469.4" y2="1202.8" stroke="#3a3a3a" stroke-width="4" />
<line x1="528.0" y1="1180.0" x2="541.4" y2="1156.4" stroke="#3a3a3a" stroke-width="4" />
<line x1="528.0" y1="1180.0" x2="541.4" y2="1202.8" stroke="#3a3a3a" stroke-width="4" />
<line x1="528.0" y1="1180.0" x2="505.4" y2="1156.4" stroke="#3a3a3a" stroke-width="4" />
<line x1="528.0" y1="1180.0" x2="505.4" y2="1202.8" stroke="#3a3a3a" stroke-width="4" />
<line x1="564.0" y1="1180.0" x2="577.4" y2="1156.4" stroke="#3a3a3a" stroke-width="4" />
<line x1="564.0" y1="1180.0" x2="577.4" y2="1202.8" stroke="#3a3a3a" stroke-width="4" />
<line x1="564.0" y1="1180.0" x2="541.4" y2="1156.4" stroke="#3a3a3a" stroke-width="4" />
<line x1="564.0" y1="1180.0" x2="541.4" y2="1202.8" stroke="#3a3a3a" stroke-width="4" />
<line x1="600.0" y1="1180.0" x2="613.4" y2="1156.4" stroke="#3a3a3a" stroke-width="4" />
<line x1="600.0" y1="1180.0" x2="613.4" y2="1202.8" stroke="#3a3a3a" stroke-width="4" />
<line x1="600.0" y1="1180.0" x2="577.4" y2="1156.4" stroke="#3a3a3a" stroke-width="4" />
<line x1="600.0" y1="1180.0" x2="577.4" y2="1202.8" stroke="#3a3a3a" stroke-width="4" />
<line x1="636.0" y1="1180.0" x2="649.4" y2="1156.4" stroke="#3a3a3a" stroke-width="4" />
<line x1="636.0" y1="1180.0" x2="649.4" y2="1202.8" stroke="#3a3a3a" stroke-width="4" />
<line x1="636.0" y1="1180.0" x2="613.4" y2="1156.4" stroke="#3a3a3a" stroke-width="4" />
<line x1="636.0" y1="1180.0" x2="613.4" y2="1202.8" stroke="#3a3a3a" stroke-width="4" />
<line x1="672.0" y1="1180.0" x2="685.4" y2="1156.4" stroke="#3a3a3a" stroke-width="4" />
<line x1="672.0" y1="1180.0" x2="685.4" y2="1202.8" stroke="#3a3a3a" stroke-width="4" />
<line x1="672.0" y1="1180.0" x2="649.4" y2="1156.4" stroke="#3a3a3a" stroke-width="4" />
<line x1="672.0" y1="1180.0" x2="649.4" y2="1202.8" stroke="#3a3a3a" stroke-width="4" />
<line x1="708.0" y1="1180.0" x2="685.4" y2="1156.4" stroke="#3a3a3a" stroke-width="4" />
<line x1="708.0" y1="1180.0" x2="685.4" y2="1202.8" stroke="#3a3a3a" stroke-width="4" />
<circle cx="106.0" cy="1230" r="7.5" fill="url(#gW)"/>
<circle cx="106.0" cy="1275.5" r="7.5" fill="url(#gW)"/>
<circle cx="142.0" cy="1230" r="7.5" fill="url(#gW)"/>
<circle cx="142.0" cy="1275.5" r="7.5" fill="url(#gW)"/>
<circle cx="178.0" cy="1230" r="7.5" fill="url(#gW)"/>
<circle cx="178.0" cy="1275.5" r="7.5" fill="url(#gW)"/>
<circle cx="214.0" cy="1230" r="7.5" fill="url(#gW)"/>
<circle cx="214.0" cy="1275.5" r="7.5" fill="url(#gW)"/>
<circle cx="250.0" cy="1230" r="7.5" fill="url(#gW)"/>
<circle cx="250.0" cy="1275.5" r="7.5" fill="url(#gW)"/>
<circle cx="286.0" cy="1230" r="7.5" fill="url(#gW)"/>
<circle cx="286.0" cy="1275.5" r="7.5" fill="url(#gW)"/>
<circle cx="322.0" cy="1230" r="7.5" fill="url(#gW)"/>
<circle cx="322.0" cy="1275.5" r="7.5" fill="url(#gW)"/>
<circle cx="358.0" cy="1230" r="7.5" fill="url(#gW)"/>
<circle cx="358.0" cy="1275.5" r="7.5" fill="url(#gW)"/>
<circle cx="394.0" cy="1230" r="7.5" fill="url(#gW)"/>
<circle cx="394.0" cy="1275.5" r="7.5" fill="url(#gW)"/>
<circle cx="430.0" cy="1230" r="7.5" fill="url(#gW)"/>
<circle cx="430.0" cy="1275.5" r="7.5" fill="url(#gW)"/>
<circle cx="466.0" cy="1230" r="7.5" fill="url(#gW)"/>
<circle cx="466.0" cy="1275.5" r="7.5" fill="url(#gW)"/>
<circle cx="502.0" cy="1230" r="7.5" fill="url(#gW)"/>
<circle cx="502.0" cy="1275.5" r="7.5" fill="url(#gW)"/>
<circle cx="538.0" cy="1230" r="7.5" fill="url(#gW)"/>
<circle cx="538.0" cy="1275.5" r="7.5" fill="url(#gW)"/>
<circle cx="574.0" cy="1230" r="7.5" fill="url(#gW)"/>
<circle cx="574.0" cy="1275.5" r="7.5" fill="url(#gW)"/>
<circle cx="610.0" cy="1230" r="7.5" fill="url(#gW)"/>
<circle cx="610.0" cy="1275.5" r="7.5" fill="url(#gW)"/>
<circle cx="646.0" cy="1230" r="7.5" fill="url(#gW)"/>
<circle cx="646.0" cy="1275.5" r="7.5" fill="url(#gW)"/>
<circle cx="682.0" cy="1230" r="7.5" fill="url(#gW)"/>
<circle cx="682.0" cy="1275.5" r="7.5" fill="url(#gW)"/>
<circle cx="131.5" cy="1255" r="8" fill="url(#gWb)"/>
<circle cx="167.5" cy="1255" r="8" fill="url(#gWb)"/>
<circle cx="203.5" cy="1255" r="8" fill="url(#gWb)"/>
<circle cx="239.5" cy="1255" r="8" fill="url(#gWb)"/>
<circle cx="275.5" cy="1255" r="8" fill="url(#gWb)"/>
<circle cx="311.5" cy="1255" r="8" fill="url(#gWb)"/>
<circle cx="347.5" cy="1255" r="8" fill="url(#gWb)"/>
<circle cx="383.5" cy="1255" r="8" fill="url(#gWb)"/>
<circle cx="419.5" cy="1255" r="8" fill="url(#gWb)"/>
<circle cx="455.5" cy="1255" r="8" fill="url(#gWb)"/>
<circle cx="491.5" cy="1255" r="8" fill="url(#gWb)"/>
<circle cx="527.5" cy="1255" r="8" fill="url(#gWb)"/>
<circle cx="563.5" cy="1255" r="8" fill="url(#gWb)"/>
<circle cx="599.5" cy="1255" r="8" fill="url(#gWb)"/>
<circle cx="635.5" cy="1255" r="8" fill="url(#gWb)"/>
<circle cx="671.5" cy="1255" r="8" fill="url(#gWb)"/>
<circle cx="707.5" cy="1255" r="8" fill="url(#gWb)"/>
<circle cx="433.4" cy="1156.4" r="7.5" fill="url(#gW)"/>
<circle cx="433.4" cy="1202.8" r="7.5" fill="url(#gW)"/>
<circle cx="469.4" cy="1156.4" r="7.5" fill="url(#gW)"/>
<circle cx="469.4" cy="1202.8" r="7.5" fill="url(#gW)"/>
<circle cx="505.4" cy="1156.4" r="7.5" fill="url(#gW)"/>
<circle cx="505.4" cy="1202.8" r="7.5" fill="url(#gW)"/>
<circle cx="541.4" cy="1156.4" r="7.5" fill="url(#gW)"/>
<circle cx="541.4" cy="1202.8" r="7.5" fill="url(#gW)"/>
<circle cx="577.4" cy="1156.4" r="7.5" fill="url(#gW)"/>
<circle cx="577.4" cy="1202.8" r="7.5" fill="url(#gW)"/>
<circle cx="613.4" cy="1156.4" r="7.5" fill="url(#gW)"/>
<circle cx="613.4" cy="1202.8" r="7.5" fill="url(#gW)"/>
<circle cx="649.4" cy="1156.4" r="7.5" fill="url(#gW)"/>
<circle cx="649.4" cy="1202.8" r="7.5" fill="url(#gW)"/>
<circle cx="685.4" cy="1156.4" r="7.5" fill="url(#gW)"/>
<circle cx="685.4" cy="1202.8" r="7.5" fill="url(#gW)"/>
<circle cx="420.0" cy="1180" r="8" fill="url(#gMo)"/>
<circle cx="456.0" cy="1180" r="8" fill="url(#gMo)"/>
<circle cx="492.0" cy="1180" r="8" fill="url(#gMo)"/>
<circle cx="528.0" cy="1180" r="8" fill="url(#gMo)"/>
<circle cx="564.0" cy="1180" r="8" fill="url(#gMo)"/>
<circle cx="600.0" cy="1180" r="8" fill="url(#gMo)"/>
<circle cx="636.0" cy="1180" r="8" fill="url(#gMo)"/>
<circle cx="672.0" cy="1180" r="8" fill="url(#gMo)"/>
<circle cx="708.0" cy="1180" r="8" fill="url(#gMo)"/>
<path d="M97,1210 L388,1210 Q402,1210 402,1196 L402,1150 Q402,1136 416,1136 L716,1136 L716,1146 L420,1146 Q410,1146 410,1156 L410,1206 Q410,1220 396,1220 L97,1220 Z" fill="url(#tbnG)"/>
<rect x="164.3" y="1170.8" width="99.5" height="42.2" fill="url(#srcTex)" stroke="#c8c070" stroke-width="0.8"/>
<rect x="164.3" y="1170.8" width="4" height="42.2" fill="#c8c480"/>
<rect x="549.7" y="1096" width="100.3" height="42.7" fill="url(#srcTex)" stroke="#c8c070" stroke-width="0.8"/>
<rect x="549.7" y="1096" width="4" height="42.7" fill="#c8c480"/>
<text x="216.5" y="1201.6" font-size="19" font-family="'Liberation Sans','DejaVu Sans',sans-serif" fill="#222" text-anchor="middle" textLength="55" lengthAdjust="spacingAndGlyphs" >Source</text>
<text x="604.0" y="1126.8" font-size="19" font-family="'Liberation Sans','DejaVu Sans',sans-serif" fill="#222" text-anchor="middle" textLength="44" lengthAdjust="spacingAndGlyphs" >Drain</text>
<polyline points="235.0,1170.8 235.0,1126.4 257.0,1126.4" fill="none" stroke="#111" stroke-width="2.6" stroke-linejoin="round" stroke-linecap="round" />
<polyline points="306.0,1126.4 326.6,1126.4 326.6,1138.0" fill="none" stroke="#111" stroke-width="2.6" stroke-linejoin="round" stroke-linecap="round" />
<circle cx="281.4" cy="1125.6" r="24.6" fill="#fff" stroke="#111" stroke-width="2.6"/>
<text x="264" y="1137" font-size="27" font-family="'Liberation Sans','DejaVu Sans',sans-serif" fill="#111">V<tspan font-size="18" dy="6">SD</tspan></text>
<line x1="317.6" y1="1138.5" x2="335.6" y2="1138.5" stroke="#111" stroke-width="2.4" /><line x1="320.8" y1="1144.0" x2="332.4" y2="1144.0" stroke="#111" stroke-width="2.4" /><line x1="324.3" y1="1149.5" x2="328.9" y2="1149.5" stroke="#111" stroke-width="2.4" />
<polyline points="634.8,1096.0 634.8,1066.0 660.6,1066.0" fill="none" stroke="#111" stroke-width="2.6" stroke-linejoin="round" stroke-linecap="round" />
<polyline points="701.7,1066.0 735.4,1066.0 735.4,1078.0" fill="none" stroke="#111" stroke-width="2.6" stroke-linejoin="round" stroke-linecap="round" />
<circle cx="681.2" cy="1067.2" r="20.5" fill="#fff" stroke="#111" stroke-width="2.6"/>
<text x="681.2" y="1077.0" font-size="27" font-family="'Liberation Sans','DejaVu Sans',sans-serif" fill="#111" text-anchor="middle" >A</text>
<line x1="726.4" y1="1078.5" x2="744.4" y2="1078.5" stroke="#111" stroke-width="2.4" /><line x1="729.6" y1="1084.0" x2="741.2" y2="1084.0" stroke="#111" stroke-width="2.4" /><line x1="733.1" y1="1089.5" x2="737.7" y2="1089.5" stroke="#111" stroke-width="2.4" />
<text x="77.0" y="1189.0" font-size="16" font-family="'Liberation Sans','DejaVu Sans',sans-serif" fill="#222" textLength="36" lengthAdjust="spacingAndGlyphs" >t-BN</text>
<line x1="96.5" y1="1197.5" x2="100.0" y2="1207.0" stroke="#111" stroke-width="1.6" />
<polygon points="96.5,1205 103.5,1203.5 101.5,1211" fill="#111"/>
<text x="735" y="1189.8" font-size="23.5" font-family="'Liberation Sans','DejaVu Sans',sans-serif" font-weight="bold" fill="#5cc42a" textLength="71" lengthAdjust="spacingAndGlyphs">MoSe<tspan font-size="15" dy="5">2</tspan></text>
<text x="737" y="1266.3" font-size="24" font-family="'Liberation Sans','DejaVu Sans',sans-serif" font-weight="bold" fill="#1a70a8" textLength="60" lengthAdjust="spacingAndGlyphs">WSe<tspan font-size="15" dy="5">2</tspan></text>
<text x="108.0" y="1315.7" font-size="17.5" font-family="'Liberation Sans','DejaVu Sans',sans-serif" fill="#222" >BN</text>
<text x="111.7" y="1361.8" font-size="17" font-family="'Liberation Sans','DejaVu Sans',sans-serif" fill="#222" >Pd</text>
<text x="189.5" y="1358.5" font-size="21" font-family="'Liberation Sans','DejaVu Sans',sans-serif" fill="#222">V<tspan font-size="13" dy="7">BG1</tspan></text>
<text x="587.5" y="1358.5" font-size="21" font-family="'Liberation Sans','DejaVu Sans',sans-serif" fill="#222">V<tspan font-size="13" dy="7">BG2</tspan></text>
<text x="106" y="1407" font-size="17" font-family="'Liberation Sans','DejaVu Sans',sans-serif" fill="#222">SiO<tspan font-size="12" dy="4">2</tspan></text>
<defs>
<filter id="blur1" x="-20%" y="-20%" width="140%" height="140%"><feGaussianBlur stdDeviation="1.2"/></filter>
<filter id="blur2" x="-50%" y="-50%" width="200%" height="200%"><feGaussianBlur stdDeviation="3"/></filter>
<filter id="blur4" x="-50%" y="-50%" width="200%" height="200%"><feGaussianBlur stdDeviation="5"/></filter>
<radialGradient id="redSpot"><stop offset="0" stop-color="#ff0000" stop-opacity="1"/><stop offset="0.3" stop-color="#f81010" stop-opacity="0.9"/><stop offset="0.65" stop-color="#f03030" stop-opacity="0.55"/><stop offset="1" stop-color="#f04040" stop-opacity="0"/></radialGradient>
<linearGradient id="grayTop" x1="0" x2="0" y1="0" y2="1"><stop offset="0" stop-color="#6e6e6e"/><stop offset="0.6" stop-color="#7c7c7c"/><stop offset="1" stop-color="#9a9a9a"/></linearGradient>
<linearGradient id="grayR" x1="0" x2="1" y1="0" y2="0"><stop offset="0" stop-color="#404040" stop-opacity="0"/><stop offset="1" stop-color="#404040" stop-opacity="0.9"/></linearGradient>
<clipPath id="clipI1"><rect x="851" y="1042.4" width="259" height="130.5"/></clipPath>
<clipPath id="clipI2"><rect x="853" y="1207" width="261.2" height="209.6"/></clipPath>
</defs>
<text x="789.0" y="1033.0" font-size="40" font-family="'Liberation Serif','DejaVu Serif',serif" fill="#1a1a1a" textLength="39" lengthAdjust="spacingAndGlyphs" >(i)</text>
<g clip-path="url(#clipI1)">
<rect x="851" y="1041.7" width="259.3" height="130.8" fill="#ad7646"/>
<rect x="851" y="1041.7" width="259" height="27" fill="#5a5090"/>
<rect x="1092" y="1042.4" width="18" height="130.5" fill="#3c4a78"/>
<g filter="url(#blur1)"><rect x="1000" y="1068" width="92" height="110" fill="#8a5a4c" opacity="0.6"/><rect x="1000" y="1148" width="60" height="30" fill="#6a4048" opacity="0.3"/><rect x="859.4" y="1068" width="4" height="106" fill="#6a3024"/><rect x="905.4" y="1068" width="4" height="106" fill="#6a3024"/><rect x="952.3" y="1068" width="4" height="106" fill="#6a3024"/><rect x="997.6" y="1068" width="4" height="106" fill="#6a3024"/><rect x="1044.4" y="1068" width="4" height="106" fill="#6a3024"/><rect x="874.7" y="1035" width="15.6" height="64.0" rx="7.8" fill="#f6df8e"/><rect x="877.8" y="1035" width="9.4" height="57.9" rx="4.7" fill="#fdf0b8"/><rect x="923.8" y="1035" width="15.6" height="88.4" rx="7.8" fill="#f6df8e"/><rect x="926.9" y="1035" width="9.4" height="82.3" rx="4.7" fill="#fdf0b8"/><rect x="969.9" y="1035" width="15.6" height="110.0" rx="7.8" fill="#f6df8e"/><rect x="973.0" y="1035" width="9.4" height="103.9" rx="4.7" fill="#fdf0b8"/><rect x="1015.2" y="1035" width="16.4" height="120.4" rx="8.2" fill="#f6df8e"/><rect x="1018.5" y="1035" width="9.8" height="114.1" rx="4.9" fill="#fdf0b8"/><rect x="1065.7" y="1035" width="23.8" height="133.8" rx="11.9" fill="#f6df8e"/><rect x="1070.5" y="1035" width="14.3" height="126.0" rx="7.1" fill="#fdf0b8"/></g>
</g>
<rect x="865.5" y="1158.3" width="41.4" height="5.7" fill="#fff"/>
<line x1="938.9" y1="1075.9" x2="991.0" y2="1097.0" stroke="#000" stroke-width="2.6" />
<polygon points="998.6,1100 986,1101.5 990.5,1091" fill="#000"/>
<line x1="936.6" y1="1153.0" x2="991.0" y2="1135.6" stroke="#ff0000" stroke-width="2.6" />
<polygon points="998.6,1133.3 989.5,1141 986.5,1131" fill="#ff0000"/>
<g clip-path="url(#clipI2)">
<rect x="852.7" y="1206.7" width="261.3" height="209.6" fill="#a2a2a2"/>
<g filter="url(#blur2)"><rect x="850" y="1200" width="270" height="40" fill="#6c6c6c"/><rect x="850" y="1236" width="270" height="14" fill="#8a8a8a"/><rect x="891.5" y="1240" width="5" height="180" fill="#939393"/><rect x="937.5" y="1240" width="5" height="180" fill="#939393"/><rect x="985.2" y="1240" width="5" height="180" fill="#939393"/><rect x="1034.3" y="1240" width="5" height="180" fill="#939393"/><polygon points="960,1335 1083,1325 1083,1420 1005,1420" fill="#979797"/><rect x="869.5" y="1195" width="15.5" height="73.4" rx="7.8" fill="#ffffff"/><rect x="917.8" y="1195" width="16.4" height="101.6" rx="8.2" fill="#ffffff"/><rect x="963.9" y="1195" width="15.6" height="127.0" rx="7.8" fill="#ffffff"/><rect x="1013.0" y="1195" width="16.3" height="141.8" rx="8.1" fill="#ffffff"/><rect x="1060.5" y="1195" width="23.8" height="158.0" rx="11.9" fill="#ffffff"/><ellipse cx="922.3" cy="1365" rx="4.5" ry="8.5" fill="#505050" transform="rotate(-25 922.3 1365)"/></g>
<g filter="url(#blur4)"><rect x="1088" y="1200" width="32" height="225" fill="#505050"/><polygon points="1072,1330 1120,1300 1120,1425 1072,1425" fill="#404040"/></g>
<g filter="url(#blur2)"><rect x="1060.5" y="1195" width="23.8" height="158" rx="11.9" fill="#ffffff"/></g>
<ellipse cx="993.7" cy="1321" rx="24" ry="27" fill="url(#redSpot)"/>
</g>
<rect x="866" y="1397" width="40.9" height="6" fill="#fff"/>
<text x="1178.0" y="1030.0" font-size="42" font-family="'Liberation Serif','DejaVu Serif',serif" fill="#1a1a1a" textLength="42" lengthAdjust="spacingAndGlyphs" >(j)</text>
<line x1="1303.3" y1="1416.8" x2="1303.3" y2="1411.3" stroke="#444444" stroke-width="1.8" />
<line x1="1303.3" y1="1041.0" x2="1303.3" y2="1046.5" stroke="#444444" stroke-width="1.8" />
<line x1="1324.7" y1="1416.8" x2="1324.7" y2="1411.3" stroke="#444444" stroke-width="1.8" />
<line x1="1324.7" y1="1041.0" x2="1324.7" y2="1046.5" stroke="#444444" stroke-width="1.8" />
<line x1="1346.0" y1="1416.8" x2="1346.0" y2="1406.3" stroke="#444444" stroke-width="1.8" />
<line x1="1346.0" y1="1041.0" x2="1346.0" y2="1051.5" stroke="#444444" stroke-width="1.8" />
<line x1="1367.3" y1="1416.8" x2="1367.3" y2="1411.3" stroke="#444444" stroke-width="1.8" />
<line x1="1367.3" y1="1041.0" x2="1367.3" y2="1046.5" stroke="#444444" stroke-width="1.8" />
<line x1="1388.7" y1="1416.8" x2="1388.7" y2="1411.3" stroke="#444444" stroke-width="1.8" />
<line x1="1388.7" y1="1041.0" x2="1388.7" y2="1046.5" stroke="#444444" stroke-width="1.8" />
<line x1="1410.0" y1="1416.8" x2="1410.0" y2="1411.3" stroke="#444444" stroke-width="1.8" />
<line x1="1410.0" y1="1041.0" x2="1410.0" y2="1046.5" stroke="#444444" stroke-width="1.8" />
<line x1="1431.4" y1="1416.8" x2="1431.4" y2="1411.3" stroke="#444444" stroke-width="1.8" />
<line x1="1431.4" y1="1041.0" x2="1431.4" y2="1046.5" stroke="#444444" stroke-width="1.8" />
<line x1="1452.7" y1="1416.8" x2="1452.7" y2="1406.3" stroke="#444444" stroke-width="1.8" />
<line x1="1452.7" y1="1041.0" x2="1452.7" y2="1051.5" stroke="#444444" stroke-width="1.8" />
<line x1="1474.0" y1="1416.8" x2="1474.0" y2="1411.3" stroke="#444444" stroke-width="1.8" />
<line x1="1474.0" y1="1041.0" x2="1474.0" y2="1046.5" stroke="#444444" stroke-width="1.8" />
<line x1="1495.4" y1="1416.8" x2="1495.4" y2="1411.3" stroke="#444444" stroke-width="1.8" />
<line x1="1495.4" y1="1041.0" x2="1495.4" y2="1046.5" stroke="#444444" stroke-width="1.8" />
<line x1="1516.7" y1="1416.8" x2="1516.7" y2="1411.3" stroke="#444444" stroke-width="1.8" />
<line x1="1516.7" y1="1041.0" x2="1516.7" y2="1046.5" stroke="#444444" stroke-width="1.8" />
<line x1="1538.1" y1="1416.8" x2="1538.1" y2="1411.3" stroke="#444444" stroke-width="1.8" />
<line x1="1538.1" y1="1041.0" x2="1538.1" y2="1046.5" stroke="#444444" stroke-width="1.8" />
<line x1="1559.4" y1="1416.8" x2="1559.4" y2="1406.3" stroke="#444444" stroke-width="1.8" />
<line x1="1559.4" y1="1041.0" x2="1559.4" y2="1051.5" stroke="#444444" stroke-width="1.8" />
<line x1="1580.7" y1="1416.8" x2="1580.7" y2="1411.3" stroke="#444444" stroke-width="1.8" />
<line x1="1580.7" y1="1041.0" x2="1580.7" y2="1046.5" stroke="#444444" stroke-width="1.8" />
<line x1="1602.1" y1="1416.8" x2="1602.1" y2="1411.3" stroke="#444444" stroke-width="1.8" />
<line x1="1602.1" y1="1041.0" x2="1602.1" y2="1046.5" stroke="#444444" stroke-width="1.8" />
<line x1="1623.4" y1="1416.8" x2="1623.4" y2="1411.3" stroke="#444444" stroke-width="1.8" />
<line x1="1623.4" y1="1041.0" x2="1623.4" y2="1046.5" stroke="#444444" stroke-width="1.8" />
<line x1="1644.8" y1="1416.8" x2="1644.8" y2="1411.3" stroke="#444444" stroke-width="1.8" />
<line x1="1644.8" y1="1041.0" x2="1644.8" y2="1046.5" stroke="#444444" stroke-width="1.8" />
<line x1="1666.1" y1="1416.8" x2="1666.1" y2="1406.3" stroke="#444444" stroke-width="1.8" />
<line x1="1666.1" y1="1041.0" x2="1666.1" y2="1051.5" stroke="#444444" stroke-width="1.8" />
<line x1="1687.4" y1="1416.8" x2="1687.4" y2="1411.3" stroke="#444444" stroke-width="1.8" />
<line x1="1687.4" y1="1041.0" x2="1687.4" y2="1046.5" stroke="#444444" stroke-width="1.8" />
<line x1="1708.8" y1="1416.8" x2="1708.8" y2="1411.3" stroke="#444444" stroke-width="1.8" />
<line x1="1708.8" y1="1041.0" x2="1708.8" y2="1046.5" stroke="#444444" stroke-width="1.8" />
<line x1="1730.1" y1="1416.8" x2="1730.1" y2="1411.3" stroke="#444444" stroke-width="1.8" />
<line x1="1730.1" y1="1041.0" x2="1730.1" y2="1046.5" stroke="#444444" stroke-width="1.8" />
<line x1="1751.5" y1="1416.8" x2="1751.5" y2="1411.3" stroke="#444444" stroke-width="1.8" />
<line x1="1751.5" y1="1041.0" x2="1751.5" y2="1046.5" stroke="#444444" stroke-width="1.8" />
<line x1="1772.8" y1="1416.8" x2="1772.8" y2="1406.3" stroke="#444444" stroke-width="1.8" />
<line x1="1772.8" y1="1041.0" x2="1772.8" y2="1051.5" stroke="#444444" stroke-width="1.8" />
<line x1="1794.1" y1="1416.8" x2="1794.1" y2="1411.3" stroke="#444444" stroke-width="1.8" />
<line x1="1794.1" y1="1041.0" x2="1794.1" y2="1046.5" stroke="#444444" stroke-width="1.8" />
<line x1="1815.5" y1="1416.8" x2="1815.5" y2="1411.3" stroke="#444444" stroke-width="1.8" />
<line x1="1815.5" y1="1041.0" x2="1815.5" y2="1046.5" stroke="#444444" stroke-width="1.8" />
<line x1="1836.8" y1="1416.8" x2="1836.8" y2="1411.3" stroke="#444444" stroke-width="1.8" />
<line x1="1836.8" y1="1041.0" x2="1836.8" y2="1046.5" stroke="#444444" stroke-width="1.8" />
<line x1="1293.0" y1="1415.6" x2="1303.5" y2="1415.6" stroke="#444444" stroke-width="1.8" />
<line x1="1849.0" y1="1415.6" x2="1838.5" y2="1415.6" stroke="#444444" stroke-width="1.8" />
<line x1="1293.0" y1="1379.9" x2="1298.5" y2="1379.9" stroke="#444444" stroke-width="1.8" />
<line x1="1849.0" y1="1379.9" x2="1843.5" y2="1379.9" stroke="#444444" stroke-width="1.8" />
<line x1="1293.0" y1="1344.3" x2="1303.5" y2="1344.3" stroke="#444444" stroke-width="1.8" />
<line x1="1849.0" y1="1344.3" x2="1838.5" y2="1344.3" stroke="#444444" stroke-width="1.8" />
<line x1="1293.0" y1="1308.6" x2="1298.5" y2="1308.6" stroke="#444444" stroke-width="1.8" />
<line x1="1849.0" y1="1308.6" x2="1843.5" y2="1308.6" stroke="#444444" stroke-width="1.8" />
<line x1="1293.0" y1="1272.9" x2="1303.5" y2="1272.9" stroke="#444444" stroke-width="1.8" />
<line x1="1849.0" y1="1272.9" x2="1838.5" y2="1272.9" stroke="#444444" stroke-width="1.8" />
<line x1="1293.0" y1="1237.2" x2="1298.5" y2="1237.2" stroke="#444444" stroke-width="1.8" />
<line x1="1849.0" y1="1237.2" x2="1843.5" y2="1237.2" stroke="#444444" stroke-width="1.8" />
<line x1="1293.0" y1="1201.6" x2="1303.5" y2="1201.6" stroke="#444444" stroke-width="1.8" />
<line x1="1849.0" y1="1201.6" x2="1838.5" y2="1201.6" stroke="#444444" stroke-width="1.8" />
<line x1="1293.0" y1="1165.9" x2="1298.5" y2="1165.9" stroke="#444444" stroke-width="1.8" />
<line x1="1849.0" y1="1165.9" x2="1843.5" y2="1165.9" stroke="#444444" stroke-width="1.8" />
<line x1="1293.0" y1="1130.2" x2="1303.5" y2="1130.2" stroke="#444444" stroke-width="1.8" />
<line x1="1849.0" y1="1130.2" x2="1838.5" y2="1130.2" stroke="#444444" stroke-width="1.8" />
<line x1="1293.0" y1="1094.6" x2="1298.5" y2="1094.6" stroke="#444444" stroke-width="1.8" />
<line x1="1849.0" y1="1094.6" x2="1843.5" y2="1094.6" stroke="#444444" stroke-width="1.8" />
<line x1="1293.0" y1="1058.9" x2="1303.5" y2="1058.9" stroke="#444444" stroke-width="1.8" />
<line x1="1849.0" y1="1058.9" x2="1838.5" y2="1058.9" stroke="#444444" stroke-width="1.8" />
<rect x="1293" y="1041" width="556" height="375.79999999999995" fill="none" stroke="#444444" stroke-width="1.8"/>
<text x="1282.5" y="1425.1" font-size="35" font-family="'Liberation Serif','DejaVu Serif',serif" fill="#1a1a1a" text-anchor="end" textLength="45.5" lengthAdjust="spacingAndGlyphs" >0.0</text>
<text x="1282.5" y="1353.8" font-size="35" font-family="'Liberation Serif','DejaVu Serif',serif" fill="#1a1a1a" text-anchor="end" textLength="45.5" lengthAdjust="spacingAndGlyphs" >0.2</text>
<text x="1282.5" y="1282.4" font-size="35" font-family="'Liberation Serif','DejaVu Serif',serif" fill="#1a1a1a" text-anchor="end" textLength="45.5" lengthAdjust="spacingAndGlyphs" >0.4</text>
<text x="1282.5" y="1211.1" font-size="35" font-family="'Liberation Serif','DejaVu Serif',serif" fill="#1a1a1a" text-anchor="end" textLength="45.5" lengthAdjust="spacingAndGlyphs" >0.6</text>
<text x="1282.5" y="1139.7" font-size="35" font-family="'Liberation Serif','DejaVu Serif',serif" fill="#1a1a1a" text-anchor="end" textLength="45.5" lengthAdjust="spacingAndGlyphs" >0.8</text>
<text x="1282.5" y="1068.4" font-size="35" font-family="'Liberation Serif','DejaVu Serif',serif" fill="#1a1a1a" text-anchor="end" textLength="45.5" lengthAdjust="spacingAndGlyphs" >1.0</text>
<text x="1346.0" y="1457.3" font-size="35" font-family="'Liberation Serif','DejaVu Serif',serif" fill="#1a1a1a" text-anchor="middle" textLength="44" lengthAdjust="spacingAndGlyphs" >1.3</text>
<text x="1452.7" y="1457.3" font-size="35" font-family="'Liberation Serif','DejaVu Serif',serif" fill="#1a1a1a" text-anchor="middle" textLength="44" lengthAdjust="spacingAndGlyphs" >1.4</text>
<text x="1559.4" y="1457.3" font-size="35" font-family="'Liberation Serif','DejaVu Serif',serif" fill="#1a1a1a" text-anchor="middle" textLength="44" lengthAdjust="spacingAndGlyphs" >1.5</text>
<text x="1666.1" y="1457.3" font-size="35" font-family="'Liberation Serif','DejaVu Serif',serif" fill="#1a1a1a" text-anchor="middle" textLength="44" lengthAdjust="spacingAndGlyphs" >1.6</text>
<text x="1772.8" y="1457.3" font-size="35" font-family="'Liberation Serif','DejaVu Serif',serif" fill="#1a1a1a" text-anchor="middle" textLength="44" lengthAdjust="spacingAndGlyphs" >1.7</text>
<text x="1471.6" y="1502.0" font-size="36" font-family="'Liberation Serif','DejaVu Serif',serif" fill="#1a1a1a" textLength="197" lengthAdjust="spacingAndGlyphs" >Energy (eV)</text>
<text transform="translate(1226.5,1395) rotate(-90)" font-size="35" font-family="'Liberation Serif','DejaVu Serif',serif" fill="#1a1a1a" textLength="333" lengthAdjust="spacingAndGlyphs">Normalized Intensity</text>
<line x1="1490.5" y1="1079.7" x2="1526.5" y2="1079.7" stroke="#000" stroke-width="4.2" />
<text x="1531.4" y="1086.5" font-size="32" font-family="'Liberation Serif','DejaVu Serif',serif" fill="#1a1a1a" textLength="38.6" lengthAdjust="spacingAndGlyphs" >EL</text>
<line x1="1490.5" y1="1116.0" x2="1526.5" y2="1116.0" stroke="#ff0000" stroke-width="4.2" />
<text x="1531.4" y="1123.0" font-size="32" font-family="'Liberation Serif','DejaVu Serif',serif" fill="#1a1a1a" textLength="38.6" lengthAdjust="spacingAndGlyphs" >PL</text>
<polyline points="1297.5,1414.7 1315.2,1412.2 1330.2,1410.2 1340.3,1407.2 1355.4,1399.6 1365.5,1392.1 1378.0,1378.3 1385.6,1359.4 1390.6,1334.3 1395.6,1326.7 1400.7,1309.1 1405.7,1294.0 1409.5,1261.3 1412.7,1258.8 1415.8,1241.2 1419.5,1203.5 1423.3,1165.8 1427.1,1158.2 1428.3,1110.4 1431.3,1070.2 1433.9,1061.4 1437.1,1077.7 1439.6,1130.5 1442.2,1153.2 1444.7,1190.9 1447.2,1231.1 1451.0,1266.4 1453.5,1306.6 1457.3,1326.7 1462.3,1341.8 1466.1,1356.9 1471.1,1382.0 1476.1,1394.6 1483.7,1407.2 1493.7,1414.0 1516.4,1414.7 1566.7,1416.0 1600.0,1415.0 1630.0,1415.5 1660.0,1414.5 1685.4,1409.7 1693.2,1404.2 1704.2,1416.8 1720.0,1414.5 1760.0,1414.8 1800.0,1414.2 1846.0,1414.5" fill="none" stroke="#ff0000" stroke-width="4.6" stroke-linejoin="round" stroke-linecap="round" />
<polyline points="1302.6,1397.1 1308.9,1393.4 1320.2,1395.9 1327.7,1390.8 1342.8,1385.8 1349.1,1382.0 1357.9,1368.2 1365.5,1349.4 1371.7,1338.0 1375.5,1321.7 1380.5,1286.5 1384.3,1261.3 1386.8,1236.2 1389.3,1206.0 1391.9,1180.8 1393.6,1140.6 1395.6,1133.0 1398.1,1102.9 1400.7,1061.4 1402.7,1082.8 1405.2,1074.0 1407.0,1087.8 1408.2,1130.5 1410.7,1150.7 1412.5,1170.8 1413.2,1206.0 1415.8,1221.1 1418.3,1256.3 1420.8,1271.4 1423.3,1294.0 1425.8,1329.2 1429.6,1354.4 1433.4,1374.5 1438.4,1388.3 1442.9,1390.8 1446.4,1408.4 1448.0,1394.6 1456.0,1399.6 1466.0,1403.4 1491.2,1405.9 1516.4,1408.5 1541.5,1409.2 1556.6,1406.7 1563.0,1405.0 1571.7,1403.4 1580.0,1409.7 1585.0,1411.6 1610.0,1410.5 1615.0,1408.0 1622.7,1409.7 1631.3,1393.3 1635.2,1400.3 1640.0,1394.0 1646.2,1387.8 1648.6,1391.7 1651.7,1384.6 1659.5,1398.7 1663.4,1389.3 1667.4,1392.5 1671.3,1356.4 1676.0,1375.2 1680.7,1359.6 1682.3,1369.0 1684.6,1336.0 1687.7,1333.7 1690.0,1342.3 1693.2,1351.7 1698.0,1354.9 1701.0,1378.4 1704.2,1376.8 1710.5,1385.4 1716.7,1370.5 1718.3,1352.5 1724.6,1340.0 1729.3,1353.3 1732.4,1367.4 1736.3,1361.1 1741.8,1367.4 1745.7,1386.2 1749.6,1375.2 1754.4,1362.7 1758.3,1376.8 1759.8,1394.0 1763.8,1408.2 1773.2,1401.1 1776.3,1406.6 1784.1,1407.4 1790.4,1402.7 1795.0,1405.0 1801.4,1401.9 1810.8,1383.1 1817.0,1351.7 1819.4,1348.6 1824.9,1369.0 1826.4,1394.0 1832.7,1406.6 1845.3,1409.7" fill="none" stroke="#000000" stroke-width="4.6" stroke-linejoin="round" stroke-linecap="round" />
<defs>
<radialGradient id="eBlob"><stop offset="0.4" stop-color="#40c0f0"/><stop offset="1" stop-color="#40c0f0" stop-opacity="0"/></radialGradient>
<radialGradient id="hBlob"><stop offset="0.4" stop-color="#f04050"/><stop offset="1" stop-color="#f04050" stop-opacity="0"/></radialGradient>
<marker id="oarr" markerWidth="6" markerHeight="6" refX="4" refY="3" orient="auto" markerUnits="userSpaceOnUse"><path d="M0,0 L6,3 L0,6 z" fill="#e8802a"/></marker>
</defs>
<polyline points="1547.0,1175.8 1556.6,1175.8" fill="none" stroke="#111" stroke-width="2.2" stroke-linejoin="round" stroke-linecap="round" />
<polyline points="1576.5,1145.6 1556.6,1175.8 1576.5,1205.3" fill="none" stroke="#111" stroke-width="2.2" stroke-linejoin="round" stroke-linecap="round" />
<polyline points="1756.4,1179.3 1772.0,1207.9 1756.4,1239.9" fill="none" stroke="#111" stroke-width="2.2" stroke-linejoin="round" stroke-linecap="round" />
<polyline points="1772.0,1207.9 1793.6,1207.9 1793.6,1220.0" fill="none" stroke="#111" stroke-width="2.2" stroke-linejoin="round" stroke-linecap="round" />
<line x1="1785.8" y1="1220.5" x2="1801.4" y2="1220.5" stroke="#111" stroke-width="2.4" /><line x1="1788.6" y1="1226.0" x2="1798.6" y2="1226.0" stroke="#111" stroke-width="2.4" /><line x1="1791.6" y1="1231.5" x2="1795.6" y2="1231.5" stroke="#111" stroke-width="2.4" />
<path d="M1576.5,1145.2 L1651,1145.2 C1668,1145.2 1664,1165.5 1684,1165.8 L1756.4,1166.7" fill="none" stroke="#1a6ec0" stroke-width="2"/>
<path d="M1576.5,1205.3 L1651,1205.3 C1668,1205.3 1664,1226 1684,1226.2 L1756.4,1226.5" fill="none" stroke="#1a6ec0" stroke-width="2"/>
<line x1="1684.6" y1="1179.3" x2="1756.4" y2="1179.3" stroke="#44b030" stroke-width="2" />
<line x1="1672.5" y1="1239.9" x2="1756.4" y2="1239.9" stroke="#44b030" stroke-width="2" />
<circle cx="1676" cy="1188" r="13" fill="url(#eBlob)"/>
<circle cx="1674.3" cy="1214.8" r="13" fill="url(#hBlob)"/>
<text x="1670" y="1193" font-size="13" font-family="'Liberation Sans','DejaVu Sans',sans-serif" fill="#222">e<tspan font-size="9" dy="-5">-</tspan></text>
<text x="1668" y="1220" font-size="13" font-family="'Liberation Sans','DejaVu Sans',sans-serif" fill="#222">h<tspan font-size="9" dy="-5">+</tspan></text>
<text x="1609.4" y="1220" font-size="13" font-family="'Liberation Sans','DejaVu Sans',sans-serif" fill="#222">h<tspan font-size="9" dy="-5">+</tspan></text>
<text x="1716.6" y="1176.7" font-size="13" font-family="'Liberation Sans','DejaVu Sans',sans-serif" fill="#222">e<tspan font-size="9" dy="-5">-</tspan></text>
<path d="M1574,1208.7 Q1586,1214.8 1597,1214.8" fill="none" stroke="#e8802a" stroke-width="2" marker-end="url(#oarr)"/>
<path d="M1627.5,1216.5 Q1640,1216.5 1649,1211.3" fill="none" stroke="#e8802a" stroke-width="2" marker-end="url(#oarr)"/>
<path d="M1709.7,1170.7 Q1696,1171 1688.4,1175" fill="none" stroke="#e8802a" stroke-width="2" marker-end="url(#oarr)"/>
<path d="M1760.8,1175.8 Q1750,1170.5 1737.7,1171" fill="none" stroke="#e8802a" stroke-width="2" marker-end="url(#oarr)"/>
<path d="M1663,1188.8 L1660,1180 L1655,1191 L1649,1170 L1644,1186 L1637,1165 L1632,1180 L1625,1157 L1621,1160" fill="none" stroke="#e81818" stroke-width="2" stroke-linejoin="round"/>
<polygon points="1616,1152 1625,1154 1619,1162" fill="#e81818"/>
<text x="1587.7" y="1171.5" font-size="15" font-family="'Liberation Serif','DejaVu Serif',serif" font-style="italic" fill="#e02020">&#8463;&#969;<tspan font-size="10" dy="3">X'</tspan></text>
<text x="1504.7" y="1185.4" font-size="19" font-family="'Liberation Sans','DejaVu Sans',sans-serif" fill="#222">V<tspan font-size="12" dy="5">SD</tspan></text>
<rect x="1578.2" y="1250.2" width="180" height="12.2" rx="1.5" fill="#b2c2e2"/>
<rect x="1580" y="1262.4" width="66.6" height="12.1" fill="#c8aa74"/>
<rect x="1689.8" y="1262.4" width="66.6" height="12.1" fill="#c8aa74"/>
<rect x="1580" y="1262.4" width="1.6" height="12.1" fill="#222"/>
<rect x="1689.8" y="1262.4" width="1.6" height="12.1" fill="#222"/>
<line x1="1613.7" y1="1274.5" x2="1613.7" y2="1283.0" stroke="#111" stroke-width="2" />
<circle cx="1613.7" cy="1291.8" r="8.6" fill="#fff" stroke="#111" stroke-width="2"/>
<line x1="1609.7" y1="1291.8" x2="1617.7" y2="1291.8" stroke="#111" stroke-width="1.8" />
<line x1="1613.7" y1="1300.4" x2="1613.7" y2="1307.0" stroke="#111" stroke-width="2" />
<line x1="1605.9" y1="1307.3" x2="1621.5" y2="1307.3" stroke="#111" stroke-width="2.4" /><line x1="1608.7" y1="1312.8" x2="1618.7" y2="1312.8" stroke="#111" stroke-width="2.4" /><line x1="1611.7" y1="1318.3" x2="1615.7" y2="1318.3" stroke="#111" stroke-width="2.4" />
<line x1="1725.3" y1="1274.5" x2="1725.3" y2="1283.0" stroke="#111" stroke-width="2" />
<circle cx="1725.3" cy="1291.8" r="8.6" fill="#fff" stroke="#111" stroke-width="2"/>
<line x1="1720.8" y1="1291.8" x2="1729.8" y2="1291.8" stroke="#111" stroke-width="1.8" /><line x1="1725.3" y1="1287.3" x2="1725.3" y2="1296.3" stroke="#111" stroke-width="1.8" />
<line x1="1725.3" y1="1300.4" x2="1725.3" y2="1307.0" stroke="#111" stroke-width="2" />
<line x1="1717.5" y1="1307.3" x2="1733.1" y2="1307.3" stroke="#111" stroke-width="2.4" /><line x1="1720.3" y1="1312.8" x2="1730.3" y2="1312.8" stroke="#111" stroke-width="2.4" /><line x1="1723.3" y1="1318.3" x2="1727.3" y2="1318.3" stroke="#111" stroke-width="2.4" />
</svg></body></html>
